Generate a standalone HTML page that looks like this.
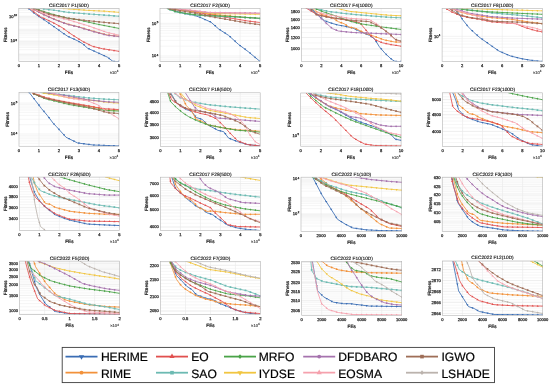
<!DOCTYPE html><html><head><meta charset="utf-8"><style>html,body{margin:0;padding:0;width:550px;height:387px;overflow:hidden;background:#fff} svg{will-change:transform;text-rendering:geometricPrecision}</style></head><body><svg width="550" height="387" viewBox="0 0 550 387" style="position:absolute;left:0;top:0;font-family:'Liberation Sans', sans-serif">
<rect x="0" y="0" width="550" height="387" fill="#fff"/>
<clipPath id="c0"><rect x="18.8" y="8.45" width="100.3" height="52.95"/></clipPath>
<line x1="38.86" y1="8.45" x2="38.86" y2="61.4" stroke="#e4e4e4" stroke-width="0.5"/>
<line x1="58.92" y1="8.45" x2="58.92" y2="61.4" stroke="#e4e4e4" stroke-width="0.5"/>
<line x1="78.98" y1="8.45" x2="78.98" y2="61.4" stroke="#e4e4e4" stroke-width="0.5"/>
<line x1="99.04" y1="8.45" x2="99.04" y2="61.4" stroke="#e4e4e4" stroke-width="0.5"/>
<line x1="18.8" y1="16.2" x2="119.1" y2="16.2" stroke="#e4e4e4" stroke-width="0.5"/>
<line x1="18.8" y1="41" x2="119.1" y2="41" stroke="#e4e4e4" stroke-width="0.5"/>
<line x1="18.8" y1="59.88" x2="119.1" y2="59.88" stroke="#ececec" stroke-width="0.5"/>
<line x1="18.8" y1="58.33" x2="119.1" y2="58.33" stroke="#ececec" stroke-width="0.5"/>
<line x1="18.8" y1="57.13" x2="119.1" y2="57.13" stroke="#ececec" stroke-width="0.5"/>
<line x1="18.8" y1="56.15" x2="119.1" y2="56.15" stroke="#ececec" stroke-width="0.5"/>
<line x1="18.8" y1="55.32" x2="119.1" y2="55.32" stroke="#ececec" stroke-width="0.5"/>
<line x1="18.8" y1="54.6" x2="119.1" y2="54.6" stroke="#ececec" stroke-width="0.5"/>
<line x1="18.8" y1="53.97" x2="119.1" y2="53.97" stroke="#ececec" stroke-width="0.5"/>
<line x1="18.8" y1="49.67" x2="119.1" y2="49.67" stroke="#ececec" stroke-width="0.5"/>
<line x1="18.8" y1="47.48" x2="119.1" y2="47.48" stroke="#ececec" stroke-width="0.5"/>
<line x1="18.8" y1="45.93" x2="119.1" y2="45.93" stroke="#ececec" stroke-width="0.5"/>
<line x1="18.8" y1="44.73" x2="119.1" y2="44.73" stroke="#ececec" stroke-width="0.5"/>
<line x1="18.8" y1="43.75" x2="119.1" y2="43.75" stroke="#ececec" stroke-width="0.5"/>
<line x1="18.8" y1="42.92" x2="119.1" y2="42.92" stroke="#ececec" stroke-width="0.5"/>
<line x1="18.8" y1="42.2" x2="119.1" y2="42.2" stroke="#ececec" stroke-width="0.5"/>
<line x1="18.8" y1="41.57" x2="119.1" y2="41.57" stroke="#ececec" stroke-width="0.5"/>
<line x1="18.8" y1="37.27" x2="119.1" y2="37.27" stroke="#ececec" stroke-width="0.5"/>
<line x1="18.8" y1="35.08" x2="119.1" y2="35.08" stroke="#ececec" stroke-width="0.5"/>
<line x1="18.8" y1="33.53" x2="119.1" y2="33.53" stroke="#ececec" stroke-width="0.5"/>
<line x1="18.8" y1="32.33" x2="119.1" y2="32.33" stroke="#ececec" stroke-width="0.5"/>
<line x1="18.8" y1="31.35" x2="119.1" y2="31.35" stroke="#ececec" stroke-width="0.5"/>
<line x1="18.8" y1="30.52" x2="119.1" y2="30.52" stroke="#ececec" stroke-width="0.5"/>
<line x1="18.8" y1="29.8" x2="119.1" y2="29.8" stroke="#ececec" stroke-width="0.5"/>
<line x1="18.8" y1="29.17" x2="119.1" y2="29.17" stroke="#ececec" stroke-width="0.5"/>
<line x1="18.8" y1="24.87" x2="119.1" y2="24.87" stroke="#ececec" stroke-width="0.5"/>
<line x1="18.8" y1="22.68" x2="119.1" y2="22.68" stroke="#ececec" stroke-width="0.5"/>
<line x1="18.8" y1="21.13" x2="119.1" y2="21.13" stroke="#ececec" stroke-width="0.5"/>
<line x1="18.8" y1="19.93" x2="119.1" y2="19.93" stroke="#ececec" stroke-width="0.5"/>
<line x1="18.8" y1="18.95" x2="119.1" y2="18.95" stroke="#ececec" stroke-width="0.5"/>
<line x1="18.8" y1="18.12" x2="119.1" y2="18.12" stroke="#ececec" stroke-width="0.5"/>
<line x1="18.8" y1="17.4" x2="119.1" y2="17.4" stroke="#ececec" stroke-width="0.5"/>
<line x1="18.8" y1="16.77" x2="119.1" y2="16.77" stroke="#ececec" stroke-width="0.5"/>
<line x1="18.8" y1="12.47" x2="119.1" y2="12.47" stroke="#ececec" stroke-width="0.5"/>
<line x1="18.8" y1="10.28" x2="119.1" y2="10.28" stroke="#ececec" stroke-width="0.5"/>
<line x1="18.8" y1="8.73" x2="119.1" y2="8.73" stroke="#ececec" stroke-width="0.5"/>
<g clip-path="url(#c0)" fill="none" stroke-width="0.85" stroke-linejoin="round" stroke-linecap="round">
<polyline points="27.8,8 35.6,14.3 45.4,20.7 55.3,27.6 62.1,32.5 68,36.5 77.8,40.9 82.7,43.8 87.6,48.2 97.4,52.6 107.3,57.1 113.1,61.5 120,61.5" stroke="#3a6db4"/>
<path d="M27.7 8.2h2.2l-1.1 1.8zM32.7 12.2h2.2l-1.1 1.8zM37.8 15.8h2.2l-1.1 1.8zM42.8 19.0h2.2l-1.1 1.8zM47.8 22.5h2.2l-1.1 1.8zM52.8 26.0h2.2l-1.1 1.8zM57.8 29.5h2.2l-1.1 1.8zM62.8 33.1h2.2l-1.1 1.8zM67.9 36.3h2.2l-1.1 1.8zM72.9 38.5h2.2l-1.1 1.8zM77.9 40.9h2.2l-1.1 1.8zM82.9 44.3h2.2l-1.1 1.8zM87.9 48.2h2.2l-1.1 1.8zM92.9 50.4h2.2l-1.1 1.8zM97.9 52.7h2.2l-1.1 1.8zM103.0 55.0h2.2l-1.1 1.8zM108.0 57.8h2.2l-1.1 1.8zM113.0 60.8h2.2l-1.1 1.8zM118.0 60.8h2.2l-1.1 1.8z" fill="#3a6db4" stroke="none"/>
<polyline points="31.7,8.5 41.5,13.4 53.3,18.8 62.1,22.2 68,24.2 77.8,26.6 92.5,31 107.3,35 120,36.4" stroke="#f2913a"/>
<path d="M32.9 9.6a0.9 0.9 0 1 0 1.8 0a0.9 0.9 0 1 0 -1.8 0zM38.0 12.1a0.9 0.9 0 1 0 1.8 0a0.9 0.9 0 1 0 -1.8 0zM43.0 14.5a0.9 0.9 0 1 0 1.8 0a0.9 0.9 0 1 0 -1.8 0zM48.0 16.8a0.9 0.9 0 1 0 1.8 0a0.9 0.9 0 1 0 -1.8 0zM53.0 19.0a0.9 0.9 0 1 0 1.8 0a0.9 0.9 0 1 0 -1.8 0zM58.0 21.0a0.9 0.9 0 1 0 1.8 0a0.9 0.9 0 1 0 -1.8 0zM63.0 22.8a0.9 0.9 0 1 0 1.8 0a0.9 0.9 0 1 0 -1.8 0zM68.0 24.4a0.9 0.9 0 1 0 1.8 0a0.9 0.9 0 1 0 -1.8 0zM73.1 25.7a0.9 0.9 0 1 0 1.8 0a0.9 0.9 0 1 0 -1.8 0zM78.1 27.0a0.9 0.9 0 1 0 1.8 0a0.9 0.9 0 1 0 -1.8 0zM83.1 28.5a0.9 0.9 0 1 0 1.8 0a0.9 0.9 0 1 0 -1.8 0zM88.1 30.0a0.9 0.9 0 1 0 1.8 0a0.9 0.9 0 1 0 -1.8 0zM93.1 31.4a0.9 0.9 0 1 0 1.8 0a0.9 0.9 0 1 0 -1.8 0zM98.1 32.8a0.9 0.9 0 1 0 1.8 0a0.9 0.9 0 1 0 -1.8 0zM103.2 34.1a0.9 0.9 0 1 0 1.8 0a0.9 0.9 0 1 0 -1.8 0zM108.2 35.2a0.9 0.9 0 1 0 1.8 0a0.9 0.9 0 1 0 -1.8 0zM113.2 35.7a0.9 0.9 0 1 0 1.8 0a0.9 0.9 0 1 0 -1.8 0zM118.2 36.3a0.9 0.9 0 1 0 1.8 0a0.9 0.9 0 1 0 -1.8 0z" fill="#f2913a" stroke="none"/>
<polyline points="28.8,8 40.5,16.8 53.3,22.7 62.1,27.6 71,34 82.7,41.4 92.5,46.3 102.3,48.7 112.2,50.2 120,51.5" stroke="#e1504f"/>
<path d="M27.7 8.7h2.2l-1.1 -1.8zM32.7 12.5h2.2l-1.1 -1.8zM37.8 16.2h2.2l-1.1 -1.8zM42.8 19.0h2.2l-1.1 -1.8zM47.8 21.3h2.2l-1.1 -1.8zM52.8 23.7h2.2l-1.1 -1.8zM57.8 26.5h2.2l-1.1 -1.8zM62.8 29.6h2.2l-1.1 -1.8zM67.9 33.2h2.2l-1.1 -1.8zM72.9 36.5h2.2l-1.1 -1.8zM77.9 39.7h2.2l-1.1 -1.8zM82.9 42.7h2.2l-1.1 -1.8zM87.9 45.2h2.2l-1.1 -1.8zM92.9 47.3h2.2l-1.1 -1.8zM97.9 48.6h2.2l-1.1 -1.8zM103.0 49.6h2.2l-1.1 -1.8zM108.0 50.4h2.2l-1.1 -1.8zM113.0 51.2h2.2l-1.1 -1.8zM118.0 52.0h2.2l-1.1 -1.8z" fill="#e1504f" stroke="none"/>
<polyline points="40.5,8.5 55.3,10.4 68,12.4 87.6,13.9 107.3,15.3 120,16.3" stroke="#6cbab2"/>
<path d="M43.0 8.1h1.7v1.7h-1.7zM48.0 8.7h1.7v1.7h-1.7zM53.1 9.4h1.7v1.7h-1.7zM58.1 10.1h1.7v1.7h-1.7zM63.1 10.9h1.7v1.7h-1.7zM68.1 11.6h1.7v1.7h-1.7zM73.1 12.0h1.7v1.7h-1.7zM78.1 12.4h1.7v1.7h-1.7zM83.1 12.8h1.7v1.7h-1.7zM88.2 13.2h1.7v1.7h-1.7zM93.2 13.5h1.7v1.7h-1.7zM98.2 13.9h1.7v1.7h-1.7zM103.2 14.2h1.7v1.7h-1.7zM108.2 14.6h1.7v1.7h-1.7zM113.2 15.0h1.7v1.7h-1.7zM118.2 15.4h1.7v1.7h-1.7z" fill="#6cbab2" stroke="none"/>
<polyline points="35,8.5 50,13.5 68,18.3 77.8,19.7 97.4,24.2 120,28.6" stroke="#4aa348"/>
<path d="M38.9 8.7l0.9 1.1l-0.9 1.1l-0.9 -1.1zM43.9 10.4l0.9 1.1l-0.9 1.1l-0.9 -1.1zM48.9 12.0l0.9 1.1l-0.9 1.1l-0.9 -1.1zM53.9 13.4l0.9 1.1l-0.9 1.1l-0.9 -1.1zM58.9 14.8l0.9 1.1l-0.9 1.1l-0.9 -1.1zM63.9 16.1l0.9 1.1l-0.9 1.1l-0.9 -1.1zM69.0 17.3l0.9 1.1l-0.9 1.1l-0.9 -1.1zM74.0 18.1l0.9 1.1l-0.9 1.1l-0.9 -1.1zM79.0 18.9l0.9 1.1l-0.9 1.1l-0.9 -1.1zM84.0 20.0l0.9 1.1l-0.9 1.1l-0.9 -1.1zM89.0 21.2l0.9 1.1l-0.9 1.1l-0.9 -1.1zM94.0 22.3l0.9 1.1l-0.9 1.1l-0.9 -1.1zM99.0 23.4l0.9 1.1l-0.9 1.1l-0.9 -1.1zM104.1 24.4l0.9 1.1l-0.9 1.1l-0.9 -1.1zM109.1 25.4l0.9 1.1l-0.9 1.1l-0.9 -1.1zM114.1 26.3l0.9 1.1l-0.9 1.1l-0.9 -1.1zM119.1 27.3l0.9 1.1l-0.9 1.1l-0.9 -1.1z" fill="#4aa348" stroke="none"/>
<polyline points="60,8.2 68,8.9 87.6,10.4 107.3,11.4 120,12.4" stroke="#f1c540"/>
<path d="M62.8 7.9h2.2l-1.1 1.8zM67.9 8.3h2.2l-1.1 1.8zM72.9 8.7h2.2l-1.1 1.8zM77.9 9.1h2.2l-1.1 1.8zM82.9 9.5h2.2l-1.1 1.8zM87.9 9.8h2.2l-1.1 1.8zM92.9 10.1h2.2l-1.1 1.8zM97.9 10.3h2.2l-1.1 1.8zM103.0 10.6h2.2l-1.1 1.8zM108.0 10.9h2.2l-1.1 1.8zM113.0 11.3h2.2l-1.1 1.8zM118.0 11.7h2.2l-1.1 1.8z" fill="#f1c540" stroke="none"/>
<polyline points="31.7,8.5 41.5,13.6 53.3,19 62.1,22.4 68,24.4 77.8,26.8 92.5,31.3 107.3,35.3 120,36.6" stroke="#a673ae"/>
<path d="M32.9 9.6a0.9 0.9 0 1 0 1.8 0a0.9 0.9 0 1 0 -1.8 0zM38.0 12.2a0.9 0.9 0 1 0 1.8 0a0.9 0.9 0 1 0 -1.8 0zM43.0 14.7a0.9 0.9 0 1 0 1.8 0a0.9 0.9 0 1 0 -1.8 0zM48.0 17.0a0.9 0.9 0 1 0 1.8 0a0.9 0.9 0 1 0 -1.8 0zM53.0 19.2a0.9 0.9 0 1 0 1.8 0a0.9 0.9 0 1 0 -1.8 0zM58.0 21.2a0.9 0.9 0 1 0 1.8 0a0.9 0.9 0 1 0 -1.8 0zM63.0 23.0a0.9 0.9 0 1 0 1.8 0a0.9 0.9 0 1 0 -1.8 0zM68.0 24.6a0.9 0.9 0 1 0 1.8 0a0.9 0.9 0 1 0 -1.8 0zM73.1 25.9a0.9 0.9 0 1 0 1.8 0a0.9 0.9 0 1 0 -1.8 0zM78.1 27.2a0.9 0.9 0 1 0 1.8 0a0.9 0.9 0 1 0 -1.8 0zM83.1 28.7a0.9 0.9 0 1 0 1.8 0a0.9 0.9 0 1 0 -1.8 0zM88.1 30.2a0.9 0.9 0 1 0 1.8 0a0.9 0.9 0 1 0 -1.8 0zM93.1 31.7a0.9 0.9 0 1 0 1.8 0a0.9 0.9 0 1 0 -1.8 0zM98.1 33.1a0.9 0.9 0 1 0 1.8 0a0.9 0.9 0 1 0 -1.8 0zM103.2 34.4a0.9 0.9 0 1 0 1.8 0a0.9 0.9 0 1 0 -1.8 0zM108.2 35.5a0.9 0.9 0 1 0 1.8 0a0.9 0.9 0 1 0 -1.8 0zM113.2 36.0a0.9 0.9 0 1 0 1.8 0a0.9 0.9 0 1 0 -1.8 0zM118.2 36.5a0.9 0.9 0 1 0 1.8 0a0.9 0.9 0 1 0 -1.8 0z" fill="#a673ae" stroke="none"/>
<polyline points="32.7,9 45.4,13.9 60.2,17.8 68,19.7 87.6,25.6 107.3,32.5 120,35.4" stroke="#f5a1ad"/>
<path d="M32.7 10.1h2.2l-1.1 -1.8zM37.8 12.0h2.2l-1.1 -1.8zM42.8 14.0h2.2l-1.1 -1.8zM47.8 15.5h2.2l-1.1 -1.8zM52.8 16.8h2.2l-1.1 -1.8zM57.8 18.1h2.2l-1.1 -1.8zM62.8 19.4h2.2l-1.1 -1.8zM67.9 20.6h2.2l-1.1 -1.8zM72.9 22.2h2.2l-1.1 -1.8zM77.9 23.7h2.2l-1.1 -1.8zM82.9 25.2h2.2l-1.1 -1.8zM87.9 26.8h2.2l-1.1 -1.8zM92.9 28.5h2.2l-1.1 -1.8zM97.9 30.3h2.2l-1.1 -1.8zM103.0 32.0h2.2l-1.1 -1.8zM108.0 33.6h2.2l-1.1 -1.8zM113.0 34.7h2.2l-1.1 -1.8zM118.0 35.9h2.2l-1.1 -1.8z" fill="#f5a1ad" stroke="none"/>
<polyline points="33.7,8.5 48.4,13.9 68,18.3 87.6,20.7 107.3,22.7 120,23.7" stroke="#9f6e57"/>
<path d="M33.0 7.7h1.7v1.7h-1.7zM38.0 9.5h1.7v1.7h-1.7zM43.0 11.4h1.7v1.7h-1.7zM48.0 13.2h1.7v1.7h-1.7zM53.1 14.3h1.7v1.7h-1.7zM58.1 15.4h1.7v1.7h-1.7zM63.1 16.5h1.7v1.7h-1.7zM68.1 17.6h1.7v1.7h-1.7zM73.1 18.2h1.7v1.7h-1.7zM78.1 18.8h1.7v1.7h-1.7zM83.1 19.4h1.7v1.7h-1.7zM88.2 20.0h1.7v1.7h-1.7zM93.2 20.5h1.7v1.7h-1.7zM98.2 21.0h1.7v1.7h-1.7zM103.2 21.5h1.7v1.7h-1.7zM108.2 22.0h1.7v1.7h-1.7zM113.2 22.4h1.7v1.7h-1.7zM118.2 22.8h1.7v1.7h-1.7z" fill="#9f6e57" stroke="none"/>
</g>
<rect x="18.8" y="8.45" width="100.3" height="52.95" fill="none" stroke="#b4b4b4" stroke-width="0.6"/>
<text x="18.8" y="67.25" font-size="4.1" text-anchor="middle" fill="#2a2a2a" stroke="#2a2a2a" stroke-width="0.25">0</text>
<text x="38.86" y="67.25" font-size="4.1" text-anchor="middle" fill="#2a2a2a" stroke="#2a2a2a" stroke-width="0.25">1</text>
<text x="58.92" y="67.25" font-size="4.1" text-anchor="middle" fill="#2a2a2a" stroke="#2a2a2a" stroke-width="0.25">2</text>
<text x="78.98" y="67.25" font-size="4.1" text-anchor="middle" fill="#2a2a2a" stroke="#2a2a2a" stroke-width="0.25">3</text>
<text x="99.04" y="67.25" font-size="4.1" text-anchor="middle" fill="#2a2a2a" stroke="#2a2a2a" stroke-width="0.25">4</text>
<text x="119.1" y="67.25" font-size="4.1" text-anchor="middle" fill="#2a2a2a" stroke="#2a2a2a" stroke-width="0.25">5</text>
<text x="109.7" y="74.2" font-size="4.1" fill="#444" stroke="#444" stroke-width="0.15">×10<tspan font-size="3" dy="-1.8">4</tspan></text>
<text x="68.95" y="73.7" font-size="4.65" text-anchor="middle" fill="#1a1a1a" stroke="#1a1a1a" stroke-width="0.22">FEs</text>
<text x="17.1" y="15.7" font-size="2.8" text-anchor="end" fill="#2a2a2a" stroke="#2a2a2a" stroke-width="0.25">10</text><text x="13.59" y="17.6" font-size="4.1" text-anchor="end" fill="#2a2a2a" stroke="#2a2a2a" stroke-width="0.25">10</text>
<text x="17.1" y="40.5" font-size="2.8" text-anchor="end" fill="#2a2a2a" stroke="#2a2a2a" stroke-width="0.25">8</text><text x="15.14" y="42.4" font-size="4.1" text-anchor="end" fill="#2a2a2a" stroke="#2a2a2a" stroke-width="0.25">10</text>
<text transform="translate(7.1,34.92) rotate(-90)" font-size="4.55" text-anchor="middle" fill="#1a1a1a" stroke="#1a1a1a" stroke-width="0.22">Fitness</text>
<text x="68.95" y="6.85" font-size="4.8" text-anchor="middle" fill="#1a1a1a" stroke="#1a1a1a" stroke-width="0.15">CEC2017 F1(50D)</text>
<clipPath id="c1"><rect x="160" y="8.45" width="100.1" height="52.95"/></clipPath>
<line x1="180.02" y1="8.45" x2="180.02" y2="61.4" stroke="#e4e4e4" stroke-width="0.5"/>
<line x1="200.04" y1="8.45" x2="200.04" y2="61.4" stroke="#e4e4e4" stroke-width="0.5"/>
<line x1="220.06" y1="8.45" x2="220.06" y2="61.4" stroke="#e4e4e4" stroke-width="0.5"/>
<line x1="240.08" y1="8.45" x2="240.08" y2="61.4" stroke="#e4e4e4" stroke-width="0.5"/>
<line x1="160" y1="23.3" x2="260.1" y2="23.3" stroke="#e4e4e4" stroke-width="0.5"/>
<line x1="160" y1="56" x2="260.1" y2="56" stroke="#e4e4e4" stroke-width="0.5"/>
<line x1="160" y1="61.07" x2="260.1" y2="61.07" stroke="#ececec" stroke-width="0.5"/>
<line x1="160" y1="59.17" x2="260.1" y2="59.17" stroke="#ececec" stroke-width="0.5"/>
<line x1="160" y1="57.5" x2="260.1" y2="57.5" stroke="#ececec" stroke-width="0.5"/>
<line x1="160" y1="46.16" x2="260.1" y2="46.16" stroke="#ececec" stroke-width="0.5"/>
<line x1="160" y1="40.4" x2="260.1" y2="40.4" stroke="#ececec" stroke-width="0.5"/>
<line x1="160" y1="36.31" x2="260.1" y2="36.31" stroke="#ececec" stroke-width="0.5"/>
<line x1="160" y1="33.14" x2="260.1" y2="33.14" stroke="#ececec" stroke-width="0.5"/>
<line x1="160" y1="30.55" x2="260.1" y2="30.55" stroke="#ececec" stroke-width="0.5"/>
<line x1="160" y1="28.37" x2="260.1" y2="28.37" stroke="#ececec" stroke-width="0.5"/>
<line x1="160" y1="26.47" x2="260.1" y2="26.47" stroke="#ececec" stroke-width="0.5"/>
<line x1="160" y1="24.8" x2="260.1" y2="24.8" stroke="#ececec" stroke-width="0.5"/>
<line x1="160" y1="13.46" x2="260.1" y2="13.46" stroke="#ececec" stroke-width="0.5"/>
<g clip-path="url(#c1)" fill="none" stroke-width="0.85" stroke-linejoin="round" stroke-linecap="round">
<polyline points="167.8,8.5 176.6,11.4 186.4,13.9 194.3,15.3 201.2,17.8 211,22.2 218.8,29.1 228.6,35.4 238.4,44.3 248.3,51.7 260.1,61.5" stroke="#3a6db4"/>
<path d="M168.9 8.6h2.2l-1.1 1.8zM173.9 10.2h2.2l-1.1 1.8zM178.9 11.6h2.2l-1.1 1.8zM183.9 12.9h2.2l-1.1 1.8zM188.9 13.9h2.2l-1.1 1.8zM193.9 14.9h2.2l-1.1 1.8zM198.9 16.7h2.2l-1.1 1.8zM203.9 18.9h2.2l-1.1 1.8zM209.0 21.1h2.2l-1.1 1.8zM214.0 25.1h2.2l-1.1 1.8zM219.0 29.2h2.2l-1.1 1.8zM224.0 32.5h2.2l-1.1 1.8zM229.0 36.1h2.2l-1.1 1.8zM234.0 40.6h2.2l-1.1 1.8zM239.0 44.9h2.2l-1.1 1.8zM244.0 48.6h2.2l-1.1 1.8zM249.0 52.5h2.2l-1.1 1.8zM254.0 56.7h2.2l-1.1 1.8zM259.0 60.8h2.2l-1.1 1.8z" fill="#3a6db4" stroke="none"/>
<polyline points="172,8.5 209,14 240,17 260,18.5" stroke="#f2913a"/>
<path d="M174.1 8.9a0.9 0.9 0 1 0 1.8 0a0.9 0.9 0 1 0 -1.8 0zM179.1 9.7a0.9 0.9 0 1 0 1.8 0a0.9 0.9 0 1 0 -1.8 0zM184.1 10.4a0.9 0.9 0 1 0 1.8 0a0.9 0.9 0 1 0 -1.8 0zM189.1 11.2a0.9 0.9 0 1 0 1.8 0a0.9 0.9 0 1 0 -1.8 0zM194.1 11.9a0.9 0.9 0 1 0 1.8 0a0.9 0.9 0 1 0 -1.8 0zM199.1 12.7a0.9 0.9 0 1 0 1.8 0a0.9 0.9 0 1 0 -1.8 0zM204.1 13.4a0.9 0.9 0 1 0 1.8 0a0.9 0.9 0 1 0 -1.8 0zM209.2 14.1a0.9 0.9 0 1 0 1.8 0a0.9 0.9 0 1 0 -1.8 0zM214.2 14.6a0.9 0.9 0 1 0 1.8 0a0.9 0.9 0 1 0 -1.8 0zM219.2 15.1a0.9 0.9 0 1 0 1.8 0a0.9 0.9 0 1 0 -1.8 0zM224.2 15.6a0.9 0.9 0 1 0 1.8 0a0.9 0.9 0 1 0 -1.8 0zM229.2 16.0a0.9 0.9 0 1 0 1.8 0a0.9 0.9 0 1 0 -1.8 0zM234.2 16.5a0.9 0.9 0 1 0 1.8 0a0.9 0.9 0 1 0 -1.8 0zM239.2 17.0a0.9 0.9 0 1 0 1.8 0a0.9 0.9 0 1 0 -1.8 0zM244.2 17.4a0.9 0.9 0 1 0 1.8 0a0.9 0.9 0 1 0 -1.8 0zM249.2 17.8a0.9 0.9 0 1 0 1.8 0a0.9 0.9 0 1 0 -1.8 0zM254.2 18.1a0.9 0.9 0 1 0 1.8 0a0.9 0.9 0 1 0 -1.8 0z" fill="#f2913a" stroke="none"/>
<polyline points="168,8.5 190,11 209,14.5 230,18 248,21 260,22.5" stroke="#e1504f"/>
<path d="M168.9 9.4h2.2l-1.1 -1.8zM173.9 10.0h2.2l-1.1 -1.8zM178.9 10.5h2.2l-1.1 -1.8zM183.9 11.1h2.2l-1.1 -1.8zM188.9 11.7h2.2l-1.1 -1.8zM193.9 12.6h2.2l-1.1 -1.8zM198.9 13.5h2.2l-1.1 -1.8zM203.9 14.4h2.2l-1.1 -1.8zM209.0 15.3h2.2l-1.1 -1.8zM214.0 16.2h2.2l-1.1 -1.8zM219.0 17.0h2.2l-1.1 -1.8zM224.0 17.8h2.2l-1.1 -1.8zM229.0 18.7h2.2l-1.1 -1.8zM234.0 19.5h2.2l-1.1 -1.8zM239.0 20.3h2.2l-1.1 -1.8zM244.0 21.2h2.2l-1.1 -1.8zM249.0 21.9h2.2l-1.1 -1.8zM254.0 22.5h2.2l-1.1 -1.8z" fill="#e1504f" stroke="none"/>
<polyline points="167,8.5 176.6,12.1 186.4,13.9 196.3,15.3 209,16 240,17.2 260.1,18.6" stroke="#6cbab2"/>
<path d="M169.2 8.8h1.7v1.7h-1.7zM174.2 10.7h1.7v1.7h-1.7zM179.2 11.9h1.7v1.7h-1.7zM184.2 12.8h1.7v1.7h-1.7zM189.2 13.6h1.7v1.7h-1.7zM194.2 14.3h1.7v1.7h-1.7zM199.2 14.7h1.7v1.7h-1.7zM204.2 14.9h1.7v1.7h-1.7zM209.2 15.2h1.7v1.7h-1.7zM214.2 15.4h1.7v1.7h-1.7zM219.2 15.6h1.7v1.7h-1.7zM224.2 15.8h1.7v1.7h-1.7zM229.2 16.0h1.7v1.7h-1.7zM234.2 16.2h1.7v1.7h-1.7zM239.2 16.4h1.7v1.7h-1.7zM244.2 16.7h1.7v1.7h-1.7zM249.2 17.1h1.7v1.7h-1.7zM254.2 17.4h1.7v1.7h-1.7zM259.2 17.8h1.7v1.7h-1.7z" fill="#6cbab2" stroke="none"/>
<polyline points="167,8.5 176.6,11.8 186.4,13.5 196.3,14.8 209,15.6 228.6,16.3 260.1,18.2" stroke="#4aa348"/>
<path d="M170.0 8.4l0.9 1.1l-0.9 1.1l-0.9 -1.1zM175.0 10.2l0.9 1.1l-0.9 1.1l-0.9 -1.1zM180.0 11.3l0.9 1.1l-0.9 1.1l-0.9 -1.1zM185.0 12.2l0.9 1.1l-0.9 1.1l-0.9 -1.1zM190.0 12.9l0.9 1.1l-0.9 1.1l-0.9 -1.1zM195.0 13.5l0.9 1.1l-0.9 1.1l-0.9 -1.1zM200.0 13.9l0.9 1.1l-0.9 1.1l-0.9 -1.1zM205.0 14.3l0.9 1.1l-0.9 1.1l-0.9 -1.1zM210.1 14.5l0.9 1.1l-0.9 1.1l-0.9 -1.1zM215.1 14.7l0.9 1.1l-0.9 1.1l-0.9 -1.1zM220.1 14.9l0.9 1.1l-0.9 1.1l-0.9 -1.1zM225.1 15.1l0.9 1.1l-0.9 1.1l-0.9 -1.1zM230.1 15.3l0.9 1.1l-0.9 1.1l-0.9 -1.1zM235.1 15.6l0.9 1.1l-0.9 1.1l-0.9 -1.1zM240.1 15.9l0.9 1.1l-0.9 1.1l-0.9 -1.1zM245.1 16.2l0.9 1.1l-0.9 1.1l-0.9 -1.1zM250.1 16.5l0.9 1.1l-0.9 1.1l-0.9 -1.1zM255.1 16.8l0.9 1.1l-0.9 1.1l-0.9 -1.1zM260.1 17.1l0.9 1.1l-0.9 1.1l-0.9 -1.1z" fill="#4aa348" stroke="none"/>
<polyline points="170,8.5 209,13.4 260,14.3" stroke="#f1c540"/>
<path d="M168.9 7.8h2.2l-1.1 1.8zM173.9 8.5h2.2l-1.1 1.8zM178.9 9.1h2.2l-1.1 1.8zM183.9 9.7h2.2l-1.1 1.8zM188.9 10.4h2.2l-1.1 1.8zM193.9 11.0h2.2l-1.1 1.8zM198.9 11.6h2.2l-1.1 1.8zM203.9 12.2h2.2l-1.1 1.8zM209.0 12.8h2.2l-1.1 1.8zM214.0 12.8h2.2l-1.1 1.8zM219.0 12.9h2.2l-1.1 1.8zM224.0 13.0h2.2l-1.1 1.8zM229.0 13.1h2.2l-1.1 1.8zM234.0 13.2h2.2l-1.1 1.8zM239.0 13.3h2.2l-1.1 1.8zM244.0 13.4h2.2l-1.1 1.8zM249.0 13.5h2.2l-1.1 1.8zM254.0 13.6h2.2l-1.1 1.8z" fill="#f1c540" stroke="none"/>
<polyline points="168,8 190,10.5 209,12.6 260,13.2" stroke="#a673ae"/>
<path d="M169.1 8.2a0.9 0.9 0 1 0 1.8 0a0.9 0.9 0 1 0 -1.8 0zM174.1 8.8a0.9 0.9 0 1 0 1.8 0a0.9 0.9 0 1 0 -1.8 0zM179.1 9.4a0.9 0.9 0 1 0 1.8 0a0.9 0.9 0 1 0 -1.8 0zM184.1 9.9a0.9 0.9 0 1 0 1.8 0a0.9 0.9 0 1 0 -1.8 0zM189.1 10.5a0.9 0.9 0 1 0 1.8 0a0.9 0.9 0 1 0 -1.8 0zM194.1 11.1a0.9 0.9 0 1 0 1.8 0a0.9 0.9 0 1 0 -1.8 0zM199.1 11.6a0.9 0.9 0 1 0 1.8 0a0.9 0.9 0 1 0 -1.8 0zM204.1 12.2a0.9 0.9 0 1 0 1.8 0a0.9 0.9 0 1 0 -1.8 0zM209.2 12.6a0.9 0.9 0 1 0 1.8 0a0.9 0.9 0 1 0 -1.8 0zM214.2 12.7a0.9 0.9 0 1 0 1.8 0a0.9 0.9 0 1 0 -1.8 0zM219.2 12.7a0.9 0.9 0 1 0 1.8 0a0.9 0.9 0 1 0 -1.8 0zM224.2 12.8a0.9 0.9 0 1 0 1.8 0a0.9 0.9 0 1 0 -1.8 0zM229.2 12.8a0.9 0.9 0 1 0 1.8 0a0.9 0.9 0 1 0 -1.8 0zM234.2 12.9a0.9 0.9 0 1 0 1.8 0a0.9 0.9 0 1 0 -1.8 0zM239.2 13.0a0.9 0.9 0 1 0 1.8 0a0.9 0.9 0 1 0 -1.8 0zM244.2 13.0a0.9 0.9 0 1 0 1.8 0a0.9 0.9 0 1 0 -1.8 0zM249.2 13.1a0.9 0.9 0 1 0 1.8 0a0.9 0.9 0 1 0 -1.8 0zM254.2 13.1a0.9 0.9 0 1 0 1.8 0a0.9 0.9 0 1 0 -1.8 0z" fill="#a673ae" stroke="none"/>
<polyline points="170,8 190,10 209,12.4 263,13.4" stroke="#f5a1ad"/>
<path d="M168.9 8.7h2.2l-1.1 -1.8zM173.9 9.2h2.2l-1.1 -1.8zM178.9 9.7h2.2l-1.1 -1.8zM183.9 10.2h2.2l-1.1 -1.8zM188.9 10.7h2.2l-1.1 -1.8zM193.9 11.3h2.2l-1.1 -1.8zM198.9 11.9h2.2l-1.1 -1.8zM203.9 12.6h2.2l-1.1 -1.8zM209.0 13.1h2.2l-1.1 -1.8zM214.0 13.2h2.2l-1.1 -1.8zM219.0 13.3h2.2l-1.1 -1.8zM224.0 13.4h2.2l-1.1 -1.8zM229.0 13.5h2.2l-1.1 -1.8zM234.0 13.5h2.2l-1.1 -1.8zM239.0 13.6h2.2l-1.1 -1.8zM244.0 13.7h2.2l-1.1 -1.8zM249.0 13.8h2.2l-1.1 -1.8zM254.0 13.9h2.2l-1.1 -1.8zM259.0 14.0h2.2l-1.1 -1.8z" fill="#f5a1ad" stroke="none"/>
<polyline points="168,8.5 180,10.8 195,13 209,16.3 228.6,19.7 248.3,23.2 260.1,24.6" stroke="#9f6e57"/>
<path d="M169.2 8.0h1.7v1.7h-1.7zM174.2 9.0h1.7v1.7h-1.7zM179.2 10.0h1.7v1.7h-1.7zM184.2 10.7h1.7v1.7h-1.7zM189.2 11.4h1.7v1.7h-1.7zM194.2 12.2h1.7v1.7h-1.7zM199.2 13.3h1.7v1.7h-1.7zM204.2 14.5h1.7v1.7h-1.7zM209.2 15.6h1.7v1.7h-1.7zM214.2 16.5h1.7v1.7h-1.7zM219.2 17.4h1.7v1.7h-1.7zM224.2 18.2h1.7v1.7h-1.7zM229.2 19.1h1.7v1.7h-1.7zM234.2 20.0h1.7v1.7h-1.7zM239.2 20.9h1.7v1.7h-1.7zM244.2 21.8h1.7v1.7h-1.7zM249.2 22.6h1.7v1.7h-1.7zM254.2 23.2h1.7v1.7h-1.7zM259.2 23.8h1.7v1.7h-1.7z" fill="#9f6e57" stroke="none"/>
</g>
<rect x="160" y="8.45" width="100.1" height="52.95" fill="none" stroke="#b4b4b4" stroke-width="0.6"/>
<text x="160" y="67.25" font-size="4.1" text-anchor="middle" fill="#2a2a2a" stroke="#2a2a2a" stroke-width="0.25">0</text>
<text x="180.02" y="67.25" font-size="4.1" text-anchor="middle" fill="#2a2a2a" stroke="#2a2a2a" stroke-width="0.25">1</text>
<text x="200.04" y="67.25" font-size="4.1" text-anchor="middle" fill="#2a2a2a" stroke="#2a2a2a" stroke-width="0.25">2</text>
<text x="220.06" y="67.25" font-size="4.1" text-anchor="middle" fill="#2a2a2a" stroke="#2a2a2a" stroke-width="0.25">3</text>
<text x="240.08" y="67.25" font-size="4.1" text-anchor="middle" fill="#2a2a2a" stroke="#2a2a2a" stroke-width="0.25">4</text>
<text x="260.1" y="67.25" font-size="4.1" text-anchor="middle" fill="#2a2a2a" stroke="#2a2a2a" stroke-width="0.25">5</text>
<text x="250.7" y="74.2" font-size="4.1" fill="#444" stroke="#444" stroke-width="0.15">×10<tspan font-size="3" dy="-1.8">4</tspan></text>
<text x="210.05" y="73.7" font-size="4.65" text-anchor="middle" fill="#1a1a1a" stroke="#1a1a1a" stroke-width="0.22">FEs</text>
<text x="158.3" y="22.8" font-size="2.8" text-anchor="end" fill="#2a2a2a" stroke="#2a2a2a" stroke-width="0.25">5</text><text x="156.34" y="24.7" font-size="4.1" text-anchor="end" fill="#2a2a2a" stroke="#2a2a2a" stroke-width="0.25">10</text>
<text x="158.3" y="55.5" font-size="2.8" text-anchor="end" fill="#2a2a2a" stroke="#2a2a2a" stroke-width="0.25">4</text><text x="156.34" y="57.4" font-size="4.1" text-anchor="end" fill="#2a2a2a" stroke="#2a2a2a" stroke-width="0.25">10</text>
<text transform="translate(150.2,34.92) rotate(-90)" font-size="4.55" text-anchor="middle" fill="#1a1a1a" stroke="#1a1a1a" stroke-width="0.22">Fitness</text>
<text x="210.05" y="6.85" font-size="4.8" text-anchor="middle" fill="#1a1a1a" stroke="#1a1a1a" stroke-width="0.15">CEC2017 F2(50D)</text>
<clipPath id="c2"><rect x="301.5" y="8.45" width="99.6" height="52.95"/></clipPath>
<line x1="321.42" y1="8.45" x2="321.42" y2="61.4" stroke="#e4e4e4" stroke-width="0.5"/>
<line x1="341.34" y1="8.45" x2="341.34" y2="61.4" stroke="#e4e4e4" stroke-width="0.5"/>
<line x1="361.26" y1="8.45" x2="361.26" y2="61.4" stroke="#e4e4e4" stroke-width="0.5"/>
<line x1="381.18" y1="8.45" x2="381.18" y2="61.4" stroke="#e4e4e4" stroke-width="0.5"/>
<line x1="301.5" y1="12" x2="401.1" y2="12" stroke="#e4e4e4" stroke-width="0.5"/>
<line x1="301.5" y1="19.4" x2="401.1" y2="19.4" stroke="#e4e4e4" stroke-width="0.5"/>
<line x1="301.5" y1="27.8" x2="401.1" y2="27.8" stroke="#e4e4e4" stroke-width="0.5"/>
<line x1="301.5" y1="37.5" x2="401.1" y2="37.5" stroke="#e4e4e4" stroke-width="0.5"/>
<line x1="301.5" y1="48.9" x2="401.1" y2="48.9" stroke="#e4e4e4" stroke-width="0.5"/>
<line x1="301.5" y1="55.51" x2="401.1" y2="55.51" stroke="#ececec" stroke-width="0.5"/>
<line x1="301.5" y1="48.9" x2="401.1" y2="48.9" stroke="#ececec" stroke-width="0.5"/>
<line x1="301.5" y1="42.92" x2="401.1" y2="42.92" stroke="#ececec" stroke-width="0.5"/>
<line x1="301.5" y1="37.46" x2="401.1" y2="37.46" stroke="#ececec" stroke-width="0.5"/>
<line x1="301.5" y1="32.44" x2="401.1" y2="32.44" stroke="#ececec" stroke-width="0.5"/>
<line x1="301.5" y1="27.78" x2="401.1" y2="27.78" stroke="#ececec" stroke-width="0.5"/>
<line x1="301.5" y1="23.45" x2="401.1" y2="23.45" stroke="#ececec" stroke-width="0.5"/>
<line x1="301.5" y1="19.4" x2="401.1" y2="19.4" stroke="#ececec" stroke-width="0.5"/>
<line x1="301.5" y1="15.6" x2="401.1" y2="15.6" stroke="#ececec" stroke-width="0.5"/>
<line x1="301.5" y1="12.01" x2="401.1" y2="12.01" stroke="#ececec" stroke-width="0.5"/>
<g clip-path="url(#c2)" fill="none" stroke-width="0.85" stroke-linejoin="round" stroke-linecap="round">
<polyline points="311.8,8.5 315.7,12.9 319.6,16.8 324.5,20.7 331.4,23.2 338.3,25.1 344.1,26.1 353,28.1 354.9,29.1 364.7,33.5 369.6,35.4 374.5,38.9 379.4,46.8 385.3,53.6 391.2,59 395.1,61.5 402,61.5" stroke="#3a6db4"/>
<path d="M315.3 13.0h2.2l-1.1 1.8zM320.3 17.6h2.2l-1.1 1.8zM325.3 20.7h2.2l-1.1 1.8zM330.3 22.5h2.2l-1.1 1.8zM335.3 23.9h2.2l-1.1 1.8zM340.2 25.0h2.2l-1.1 1.8zM345.2 25.9h2.2l-1.1 1.8zM350.2 27.1h2.2l-1.1 1.8zM355.2 29.1h2.2l-1.1 1.8zM360.2 31.3h2.2l-1.1 1.8zM365.1 33.4h2.2l-1.1 1.8zM370.1 35.9h2.2l-1.1 1.8zM375.1 41.0h2.2l-1.1 1.8zM380.1 48.2h2.2l-1.1 1.8zM385.1 53.7h2.2l-1.1 1.8zM390.0 58.3h2.2l-1.1 1.8zM395.0 60.8h2.2l-1.1 1.8zM400.0 60.8h2.2l-1.1 1.8z" fill="#3a6db4" stroke="none"/>
<polyline points="312.7,8.5 316.7,11.9 323.5,14.8 333.3,18.3 338.3,21.7 344.1,23.7 349,27.1 354.9,28.1 364.7,33 374.5,36.4 384.3,39.9 394.2,41.9 402,42.3" stroke="#f2913a"/>
<path d="M315.5 11.7a0.9 0.9 0 1 0 1.8 0a0.9 0.9 0 1 0 -1.8 0zM320.5 13.9a0.9 0.9 0 1 0 1.8 0a0.9 0.9 0 1 0 -1.8 0zM325.5 15.8a0.9 0.9 0 1 0 1.8 0a0.9 0.9 0 1 0 -1.8 0zM330.5 17.6a0.9 0.9 0 1 0 1.8 0a0.9 0.9 0 1 0 -1.8 0zM335.5 20.4a0.9 0.9 0 1 0 1.8 0a0.9 0.9 0 1 0 -1.8 0zM340.4 22.7a0.9 0.9 0 1 0 1.8 0a0.9 0.9 0 1 0 -1.8 0zM345.4 25.2a0.9 0.9 0 1 0 1.8 0a0.9 0.9 0 1 0 -1.8 0zM350.4 27.5a0.9 0.9 0 1 0 1.8 0a0.9 0.9 0 1 0 -1.8 0zM355.4 28.8a0.9 0.9 0 1 0 1.8 0a0.9 0.9 0 1 0 -1.8 0zM360.4 31.3a0.9 0.9 0 1 0 1.8 0a0.9 0.9 0 1 0 -1.8 0zM365.3 33.5a0.9 0.9 0 1 0 1.8 0a0.9 0.9 0 1 0 -1.8 0zM370.3 35.3a0.9 0.9 0 1 0 1.8 0a0.9 0.9 0 1 0 -1.8 0zM375.3 37.0a0.9 0.9 0 1 0 1.8 0a0.9 0.9 0 1 0 -1.8 0zM380.3 38.8a0.9 0.9 0 1 0 1.8 0a0.9 0.9 0 1 0 -1.8 0zM385.3 40.3a0.9 0.9 0 1 0 1.8 0a0.9 0.9 0 1 0 -1.8 0zM390.2 41.3a0.9 0.9 0 1 0 1.8 0a0.9 0.9 0 1 0 -1.8 0zM395.2 42.0a0.9 0.9 0 1 0 1.8 0a0.9 0.9 0 1 0 -1.8 0zM400.2 42.3a0.9 0.9 0 1 0 1.8 0a0.9 0.9 0 1 0 -1.8 0z" fill="#f2913a" stroke="none"/>
<polyline points="305.9,8 316,14 328,17 350,20.7 359.8,22.7 364.7,28.6 369.6,34.5 375.5,39.9 382.4,42.8 392.2,44.8 402,46.3" stroke="#e1504f"/>
<path d="M305.4 9.0h2.2l-1.1 -1.8zM310.4 12.0h2.2l-1.1 -1.8zM315.3 14.8h2.2l-1.1 -1.8zM320.3 16.0h2.2l-1.1 -1.8zM325.3 17.3h2.2l-1.1 -1.8zM330.3 18.2h2.2l-1.1 -1.8zM335.3 19.1h2.2l-1.1 -1.8zM340.2 19.9h2.2l-1.1 -1.8zM345.2 20.7h2.2l-1.1 -1.8zM350.2 21.6h2.2l-1.1 -1.8zM355.2 22.6h2.2l-1.1 -1.8zM360.2 25.1h2.2l-1.1 -1.8zM365.1 31.1h2.2l-1.1 -1.8zM370.1 36.6h2.2l-1.1 -1.8zM375.1 40.9h2.2l-1.1 -1.8zM380.1 42.9h2.2l-1.1 -1.8zM385.1 44.2h2.2l-1.1 -1.8zM390.0 45.2h2.2l-1.1 -1.8zM395.0 46.1h2.2l-1.1 -1.8zM400.0 46.8h2.2l-1.1 -1.8z" fill="#e1504f" stroke="none"/>
<polyline points="315.7,8.5 328.4,11.4 343.2,13.4 369.6,15.8 389.3,17.3 402,17.8" stroke="#6cbab2"/>
<path d="M315.6 7.8h1.7v1.7h-1.7zM320.6 9.0h1.7v1.7h-1.7zM325.5 10.1h1.7v1.7h-1.7zM330.5 11.0h1.7v1.7h-1.7zM335.5 11.6h1.7v1.7h-1.7zM340.5 12.3h1.7v1.7h-1.7zM345.5 12.8h1.7v1.7h-1.7zM350.4 13.3h1.7v1.7h-1.7zM355.4 13.7h1.7v1.7h-1.7zM360.4 14.2h1.7v1.7h-1.7zM365.4 14.6h1.7v1.7h-1.7zM370.4 15.1h1.7v1.7h-1.7zM375.4 15.5h1.7v1.7h-1.7zM380.3 15.8h1.7v1.7h-1.7zM385.3 16.2h1.7v1.7h-1.7zM390.3 16.5h1.7v1.7h-1.7zM395.3 16.7h1.7v1.7h-1.7zM400.2 16.9h1.7v1.7h-1.7z" fill="#6cbab2" stroke="none"/>
<polyline points="313.7,8 323.5,11.9 338.3,16.8 350,21.2 359.8,23.7 379.4,26.6 402,29.6" stroke="#4aa348"/>
<path d="M316.4 8.0l0.9 1.1l-0.9 1.1l-0.9 -1.1zM321.4 10.0l0.9 1.1l-0.9 1.1l-0.9 -1.1zM326.4 11.8l0.9 1.1l-0.9 1.1l-0.9 -1.1zM331.4 13.4l0.9 1.1l-0.9 1.1l-0.9 -1.1zM336.4 15.1l0.9 1.1l-0.9 1.1l-0.9 -1.1zM341.3 16.8l0.9 1.1l-0.9 1.1l-0.9 -1.1zM346.3 18.7l0.9 1.1l-0.9 1.1l-0.9 -1.1zM351.3 20.4l0.9 1.1l-0.9 1.1l-0.9 -1.1zM356.3 21.7l0.9 1.1l-0.9 1.1l-0.9 -1.1zM361.3 22.8l0.9 1.1l-0.9 1.1l-0.9 -1.1zM366.2 23.6l0.9 1.1l-0.9 1.1l-0.9 -1.1zM371.2 24.3l0.9 1.1l-0.9 1.1l-0.9 -1.1zM376.2 25.0l0.9 1.1l-0.9 1.1l-0.9 -1.1zM381.2 25.7l0.9 1.1l-0.9 1.1l-0.9 -1.1zM386.2 26.4l0.9 1.1l-0.9 1.1l-0.9 -1.1zM391.1 27.1l0.9 1.1l-0.9 1.1l-0.9 -1.1zM396.1 27.7l0.9 1.1l-0.9 1.1l-0.9 -1.1zM401.1 28.4l0.9 1.1l-0.9 1.1l-0.9 -1.1z" fill="#4aa348" stroke="none"/>
<polyline points="336.3,8 343.2,9.9 350,11.4 369.6,13.4 389.3,15.3 402,15.8" stroke="#f1c540"/>
<path d="M335.3 7.4h2.2l-1.1 1.8zM340.2 8.7h2.2l-1.1 1.8zM345.2 9.9h2.2l-1.1 1.8zM350.2 10.9h2.2l-1.1 1.8zM355.2 11.4h2.2l-1.1 1.8zM360.2 11.9h2.2l-1.1 1.8zM365.1 12.4h2.2l-1.1 1.8zM370.1 12.9h2.2l-1.1 1.8zM375.1 13.4h2.2l-1.1 1.8zM380.1 13.9h2.2l-1.1 1.8zM385.1 14.3h2.2l-1.1 1.8zM390.0 14.7h2.2l-1.1 1.8zM395.0 14.9h2.2l-1.1 1.8zM400.0 15.1h2.2l-1.1 1.8z" fill="#f1c540" stroke="none"/>
<polyline points="307.3,8 313.7,11.9 318.6,15.8 324.5,21.7 332.4,28.6 338.3,31 353,32.5 402,34.5" stroke="#a673ae"/>
<path d="M310.6 10.5a0.9 0.9 0 1 0 1.8 0a0.9 0.9 0 1 0 -1.8 0zM315.5 14.1a0.9 0.9 0 1 0 1.8 0a0.9 0.9 0 1 0 -1.8 0zM320.5 18.6a0.9 0.9 0 1 0 1.8 0a0.9 0.9 0 1 0 -1.8 0zM325.5 23.4a0.9 0.9 0 1 0 1.8 0a0.9 0.9 0 1 0 -1.8 0zM330.5 27.7a0.9 0.9 0 1 0 1.8 0a0.9 0.9 0 1 0 -1.8 0zM335.5 30.2a0.9 0.9 0 1 0 1.8 0a0.9 0.9 0 1 0 -1.8 0zM340.4 31.3a0.9 0.9 0 1 0 1.8 0a0.9 0.9 0 1 0 -1.8 0zM345.4 31.8a0.9 0.9 0 1 0 1.8 0a0.9 0.9 0 1 0 -1.8 0zM350.4 32.3a0.9 0.9 0 1 0 1.8 0a0.9 0.9 0 1 0 -1.8 0zM355.4 32.6a0.9 0.9 0 1 0 1.8 0a0.9 0.9 0 1 0 -1.8 0zM360.4 32.8a0.9 0.9 0 1 0 1.8 0a0.9 0.9 0 1 0 -1.8 0zM365.3 33.0a0.9 0.9 0 1 0 1.8 0a0.9 0.9 0 1 0 -1.8 0zM370.3 33.2a0.9 0.9 0 1 0 1.8 0a0.9 0.9 0 1 0 -1.8 0zM375.3 33.4a0.9 0.9 0 1 0 1.8 0a0.9 0.9 0 1 0 -1.8 0zM380.3 33.7a0.9 0.9 0 1 0 1.8 0a0.9 0.9 0 1 0 -1.8 0zM385.3 33.9a0.9 0.9 0 1 0 1.8 0a0.9 0.9 0 1 0 -1.8 0zM390.2 34.1a0.9 0.9 0 1 0 1.8 0a0.9 0.9 0 1 0 -1.8 0zM395.2 34.3a0.9 0.9 0 1 0 1.8 0a0.9 0.9 0 1 0 -1.8 0zM400.2 34.5a0.9 0.9 0 1 0 1.8 0a0.9 0.9 0 1 0 -1.8 0z" fill="#a673ae" stroke="none"/>
<polyline points="316.7,11.9 328.4,14.8 343.2,17.3 350,18.3 369.6,19.7 379.4,25.6 387.3,32.5 395.1,39.4 402,42.8" stroke="#f5a1ad"/>
<path d="M320.3 13.7h2.2l-1.1 -1.8zM325.3 15.0h2.2l-1.1 -1.8zM330.3 16.0h2.2l-1.1 -1.8zM335.3 16.8h2.2l-1.1 -1.8zM340.2 17.6h2.2l-1.1 -1.8zM345.2 18.4h2.2l-1.1 -1.8zM350.2 19.1h2.2l-1.1 -1.8zM355.2 19.4h2.2l-1.1 -1.8zM360.2 19.8h2.2l-1.1 -1.8zM365.1 20.1h2.2l-1.1 -1.8zM370.1 21.3h2.2l-1.1 -1.8zM375.1 24.3h2.2l-1.1 -1.8zM380.1 27.8h2.2l-1.1 -1.8zM385.1 32.2h2.2l-1.1 -1.8zM390.0 36.6h2.2l-1.1 -1.8zM395.0 40.6h2.2l-1.1 -1.8zM400.0 43.0h2.2l-1.1 -1.8z" fill="#f5a1ad" stroke="none"/>
<polyline points="310,8.5 316.7,14.8 328.4,17.3 343.2,19.2 350,20.2 369.6,21.7 379.4,26.6 389.3,33.5 395.1,39.4 402,41.4" stroke="#9f6e57"/>
<path d="M310.6 9.0h1.7v1.7h-1.7zM315.6 13.7h1.7v1.7h-1.7zM320.6 15.0h1.7v1.7h-1.7zM325.5 16.0h1.7v1.7h-1.7zM330.5 16.8h1.7v1.7h-1.7zM335.5 17.5h1.7v1.7h-1.7zM340.5 18.1h1.7v1.7h-1.7zM345.5 18.8h1.7v1.7h-1.7zM350.4 19.4h1.7v1.7h-1.7zM355.4 19.8h1.7v1.7h-1.7zM360.4 20.2h1.7v1.7h-1.7zM365.4 20.6h1.7v1.7h-1.7zM370.4 21.7h1.7v1.7h-1.7zM375.4 24.2h1.7v1.7h-1.7zM380.3 27.0h1.7v1.7h-1.7zM385.3 30.5h1.7v1.7h-1.7zM390.3 34.5h1.7v1.7h-1.7zM395.3 38.8h1.7v1.7h-1.7zM400.2 40.3h1.7v1.7h-1.7z" fill="#9f6e57" stroke="none"/>
</g>
<rect x="301.5" y="8.45" width="99.6" height="52.95" fill="none" stroke="#b4b4b4" stroke-width="0.6"/>
<text x="301.5" y="67.25" font-size="4.1" text-anchor="middle" fill="#2a2a2a" stroke="#2a2a2a" stroke-width="0.25">0</text>
<text x="321.42" y="67.25" font-size="4.1" text-anchor="middle" fill="#2a2a2a" stroke="#2a2a2a" stroke-width="0.25">2</text>
<text x="341.34" y="67.25" font-size="4.1" text-anchor="middle" fill="#2a2a2a" stroke="#2a2a2a" stroke-width="0.25">4</text>
<text x="361.26" y="67.25" font-size="4.1" text-anchor="middle" fill="#2a2a2a" stroke="#2a2a2a" stroke-width="0.25">6</text>
<text x="381.18" y="67.25" font-size="4.1" text-anchor="middle" fill="#2a2a2a" stroke="#2a2a2a" stroke-width="0.25">8</text>
<text x="401.1" y="67.25" font-size="4.1" text-anchor="middle" fill="#2a2a2a" stroke="#2a2a2a" stroke-width="0.25">10</text>
<text x="391.7" y="74.2" font-size="4.1" fill="#444" stroke="#444" stroke-width="0.15">×10<tspan font-size="3" dy="-1.8">4</tspan></text>
<text x="351.3" y="73.7" font-size="4.65" text-anchor="middle" fill="#1a1a1a" stroke="#1a1a1a" stroke-width="0.22">FEs</text>
<text x="299.9" y="13.4" font-size="4.1" text-anchor="end" fill="#2a2a2a" stroke="#2a2a2a" stroke-width="0.25">1800</text>
<text x="299.9" y="20.8" font-size="4.1" text-anchor="end" fill="#2a2a2a" stroke="#2a2a2a" stroke-width="0.25">1600</text>
<text x="299.9" y="29.2" font-size="4.1" text-anchor="end" fill="#2a2a2a" stroke="#2a2a2a" stroke-width="0.25">1400</text>
<text x="299.9" y="38.9" font-size="4.1" text-anchor="end" fill="#2a2a2a" stroke="#2a2a2a" stroke-width="0.25">1200</text>
<text x="299.9" y="50.3" font-size="4.1" text-anchor="end" fill="#2a2a2a" stroke="#2a2a2a" stroke-width="0.25">1000</text>
<text transform="translate(288.7,34.92) rotate(-90)" font-size="4.55" text-anchor="middle" fill="#1a1a1a" stroke="#1a1a1a" stroke-width="0.22">Fitness</text>
<text x="351.3" y="6.85" font-size="4.8" text-anchor="middle" fill="#1a1a1a" stroke="#1a1a1a" stroke-width="0.15">CEC2017 F4(100D)</text>
<clipPath id="c3"><rect x="442.1" y="8.5" width="100.2" height="52.9"/></clipPath>
<line x1="462.14" y1="8.5" x2="462.14" y2="61.4" stroke="#e4e4e4" stroke-width="0.5"/>
<line x1="482.18" y1="8.5" x2="482.18" y2="61.4" stroke="#e4e4e4" stroke-width="0.5"/>
<line x1="502.22" y1="8.5" x2="502.22" y2="61.4" stroke="#e4e4e4" stroke-width="0.5"/>
<line x1="522.26" y1="8.5" x2="522.26" y2="61.4" stroke="#e4e4e4" stroke-width="0.5"/>
<line x1="442.1" y1="36.3" x2="542.3" y2="36.3" stroke="#e4e4e4" stroke-width="0.5"/>
<line x1="442.1" y1="56.2" x2="542.3" y2="56.2" stroke="#ececec" stroke-width="0.5"/>
<line x1="442.1" y1="51.35" x2="542.3" y2="51.35" stroke="#ececec" stroke-width="0.5"/>
<line x1="442.1" y1="47.39" x2="542.3" y2="47.39" stroke="#ececec" stroke-width="0.5"/>
<line x1="442.1" y1="44.05" x2="542.3" y2="44.05" stroke="#ececec" stroke-width="0.5"/>
<line x1="442.1" y1="41.15" x2="542.3" y2="41.15" stroke="#ececec" stroke-width="0.5"/>
<line x1="442.1" y1="38.59" x2="542.3" y2="38.59" stroke="#ececec" stroke-width="0.5"/>
<line x1="442.1" y1="21.25" x2="542.3" y2="21.25" stroke="#ececec" stroke-width="0.5"/>
<line x1="442.1" y1="12.44" x2="542.3" y2="12.44" stroke="#ececec" stroke-width="0.5"/>
<g clip-path="url(#c3)" fill="none" stroke-width="0.85" stroke-linejoin="round" stroke-linecap="round">
<polyline points="451.8,8 457.7,11.9 462.6,19.7 468.5,27.1 473.4,32 480.1,37.8 489.6,44.5 499.2,51.2 510.6,56 522.1,58.8 533.5,60.7 543,61.5" stroke="#3a6db4"/>
<path d="M451.0 7.6h2.2l-1.1 1.8zM456.0 10.9h2.2l-1.1 1.8zM461.0 18.3h2.2l-1.1 1.8zM466.0 24.7h2.2l-1.1 1.8zM471.1 30.1h2.2l-1.1 1.8zM476.1 34.6h2.2l-1.1 1.8zM481.1 38.6h2.2l-1.1 1.8zM486.1 42.1h2.2l-1.1 1.8zM491.1 45.7h2.2l-1.1 1.8zM496.1 49.2h2.2l-1.1 1.8zM501.1 51.8h2.2l-1.1 1.8zM506.1 53.9h2.2l-1.1 1.8zM511.1 55.7h2.2l-1.1 1.8zM516.1 57.0h2.2l-1.1 1.8zM521.2 58.2h2.2l-1.1 1.8zM526.2 59.0h2.2l-1.1 1.8zM531.2 59.8h2.2l-1.1 1.8zM536.2 60.4h2.2l-1.1 1.8zM541.2 60.8h2.2l-1.1 1.8z" fill="#3a6db4" stroke="none"/>
<polyline points="452.8,8.5 459.6,11.9 469.4,14.3 484.2,16.6 491,17.6 500.8,18.3 510.6,19.2 520.4,20.7 530.3,22.2 542.3,23.6" stroke="#f2913a"/>
<path d="M456.2 10.7a0.9 0.9 0 1 0 1.8 0a0.9 0.9 0 1 0 -1.8 0zM461.2 12.5a0.9 0.9 0 1 0 1.8 0a0.9 0.9 0 1 0 -1.8 0zM466.2 13.7a0.9 0.9 0 1 0 1.8 0a0.9 0.9 0 1 0 -1.8 0zM471.3 14.7a0.9 0.9 0 1 0 1.8 0a0.9 0.9 0 1 0 -1.8 0zM476.3 15.5a0.9 0.9 0 1 0 1.8 0a0.9 0.9 0 1 0 -1.8 0zM481.3 16.3a0.9 0.9 0 1 0 1.8 0a0.9 0.9 0 1 0 -1.8 0zM486.3 17.0a0.9 0.9 0 1 0 1.8 0a0.9 0.9 0 1 0 -1.8 0zM491.3 17.7a0.9 0.9 0 1 0 1.8 0a0.9 0.9 0 1 0 -1.8 0zM496.3 18.0a0.9 0.9 0 1 0 1.8 0a0.9 0.9 0 1 0 -1.8 0zM501.3 18.4a0.9 0.9 0 1 0 1.8 0a0.9 0.9 0 1 0 -1.8 0zM506.3 18.9a0.9 0.9 0 1 0 1.8 0a0.9 0.9 0 1 0 -1.8 0zM511.3 19.5a0.9 0.9 0 1 0 1.8 0a0.9 0.9 0 1 0 -1.8 0zM516.4 20.2a0.9 0.9 0 1 0 1.8 0a0.9 0.9 0 1 0 -1.8 0zM521.4 21.0a0.9 0.9 0 1 0 1.8 0a0.9 0.9 0 1 0 -1.8 0zM526.4 21.7a0.9 0.9 0 1 0 1.8 0a0.9 0.9 0 1 0 -1.8 0zM531.4 22.4a0.9 0.9 0 1 0 1.8 0a0.9 0.9 0 1 0 -1.8 0zM536.4 23.0a0.9 0.9 0 1 0 1.8 0a0.9 0.9 0 1 0 -1.8 0zM541.4 23.6a0.9 0.9 0 1 0 1.8 0a0.9 0.9 0 1 0 -1.8 0z" fill="#f2913a" stroke="none"/>
<polyline points="446.4,8.9 451.8,11.9 459.6,15.3 469.4,17.8 479.3,19.2 491,21.7 515.5,23.7 525.3,27.6 535.2,30.5 543,32" stroke="#e1504f"/>
<path d="M446.0 10.0h2.2l-1.1 -1.8zM451.0 12.7h2.2l-1.1 -1.8zM456.0 14.9h2.2l-1.1 -1.8zM461.0 16.6h2.2l-1.1 -1.8zM466.0 17.9h2.2l-1.1 -1.8zM471.1 18.9h2.2l-1.1 -1.8zM476.1 19.6h2.2l-1.1 -1.8zM481.1 20.5h2.2l-1.1 -1.8zM486.1 21.5h2.2l-1.1 -1.8zM491.1 22.5h2.2l-1.1 -1.8zM496.1 22.9h2.2l-1.1 -1.8zM501.1 23.3h2.2l-1.1 -1.8zM506.1 23.7h2.2l-1.1 -1.8zM511.1 24.1h2.2l-1.1 -1.8zM516.1 25.1h2.2l-1.1 -1.8zM521.2 27.1h2.2l-1.1 -1.8zM526.2 28.8h2.2l-1.1 -1.8zM531.2 30.3h2.2l-1.1 -1.8zM536.2 31.6h2.2l-1.1 -1.8zM541.2 32.5h2.2l-1.1 -1.8z" fill="#e1504f" stroke="none"/>
<polyline points="459.6,8.5 474.3,10.4 491,12.9 520.4,15.3 543,17.8" stroke="#6cbab2"/>
<path d="M461.3 8.0h1.7v1.7h-1.7zM466.3 8.6h1.7v1.7h-1.7zM471.3 9.3h1.7v1.7h-1.7zM476.3 10.0h1.7v1.7h-1.7zM481.3 10.7h1.7v1.7h-1.7zM486.3 11.5h1.7v1.7h-1.7zM491.3 12.1h1.7v1.7h-1.7zM496.4 12.6h1.7v1.7h-1.7zM501.4 13.0h1.7v1.7h-1.7zM506.4 13.4h1.7v1.7h-1.7zM511.4 13.8h1.7v1.7h-1.7zM516.4 14.2h1.7v1.7h-1.7zM521.4 14.7h1.7v1.7h-1.7zM526.4 15.2h1.7v1.7h-1.7zM531.4 15.8h1.7v1.7h-1.7zM536.4 16.3h1.7v1.7h-1.7zM541.4 16.9h1.7v1.7h-1.7z" fill="#6cbab2" stroke="none"/>
<polyline points="453.7,8 469.4,10.4 491,11.9 520.4,13.4 543,14.3" stroke="#4aa348"/>
<path d="M457.1 7.4l0.9 1.1l-0.9 1.1l-0.9 -1.1zM462.1 8.2l0.9 1.1l-0.9 1.1l-0.9 -1.1zM467.1 9.0l0.9 1.1l-0.9 1.1l-0.9 -1.1zM472.2 9.5l0.9 1.1l-0.9 1.1l-0.9 -1.1zM477.2 9.8l0.9 1.1l-0.9 1.1l-0.9 -1.1zM482.2 10.2l0.9 1.1l-0.9 1.1l-0.9 -1.1zM487.2 10.5l0.9 1.1l-0.9 1.1l-0.9 -1.1zM492.2 10.9l0.9 1.1l-0.9 1.1l-0.9 -1.1zM497.2 11.1l0.9 1.1l-0.9 1.1l-0.9 -1.1zM502.2 11.4l0.9 1.1l-0.9 1.1l-0.9 -1.1zM507.2 11.6l0.9 1.1l-0.9 1.1l-0.9 -1.1zM512.2 11.9l0.9 1.1l-0.9 1.1l-0.9 -1.1zM517.2 12.1l0.9 1.1l-0.9 1.1l-0.9 -1.1zM522.3 12.4l0.9 1.1l-0.9 1.1l-0.9 -1.1zM527.3 12.6l0.9 1.1l-0.9 1.1l-0.9 -1.1zM532.3 12.8l0.9 1.1l-0.9 1.1l-0.9 -1.1zM537.3 13.0l0.9 1.1l-0.9 1.1l-0.9 -1.1zM542.3 13.2l0.9 1.1l-0.9 1.1l-0.9 -1.1z" fill="#4aa348" stroke="none"/>
<polyline points="461.6,8 491,9.4 543,10.9" stroke="#f1c540"/>
<path d="M461.0 7.4h2.2l-1.1 1.8zM466.0 7.6h2.2l-1.1 1.8zM471.1 7.8h2.2l-1.1 1.8zM476.1 8.1h2.2l-1.1 1.8zM481.1 8.3h2.2l-1.1 1.8zM486.1 8.6h2.2l-1.1 1.8zM491.1 8.8h2.2l-1.1 1.8zM496.1 8.9h2.2l-1.1 1.8zM501.1 9.1h2.2l-1.1 1.8zM506.1 9.2h2.2l-1.1 1.8zM511.1 9.4h2.2l-1.1 1.8zM516.1 9.5h2.2l-1.1 1.8zM521.2 9.6h2.2l-1.1 1.8zM526.2 9.8h2.2l-1.1 1.8zM531.2 9.9h2.2l-1.1 1.8zM536.2 10.1h2.2l-1.1 1.8zM541.2 10.2h2.2l-1.1 1.8z" fill="#f1c540" stroke="none"/>
<polyline points="454,8.5 469.4,13.2 491,16.6 515.5,18.2 543,19.2" stroke="#a673ae"/>
<path d="M456.2 9.5a0.9 0.9 0 1 0 1.8 0a0.9 0.9 0 1 0 -1.8 0zM461.2 11.0a0.9 0.9 0 1 0 1.8 0a0.9 0.9 0 1 0 -1.8 0zM466.2 12.5a0.9 0.9 0 1 0 1.8 0a0.9 0.9 0 1 0 -1.8 0zM471.3 13.6a0.9 0.9 0 1 0 1.8 0a0.9 0.9 0 1 0 -1.8 0zM476.3 14.4a0.9 0.9 0 1 0 1.8 0a0.9 0.9 0 1 0 -1.8 0zM481.3 15.2a0.9 0.9 0 1 0 1.8 0a0.9 0.9 0 1 0 -1.8 0zM486.3 16.0a0.9 0.9 0 1 0 1.8 0a0.9 0.9 0 1 0 -1.8 0zM491.3 16.7a0.9 0.9 0 1 0 1.8 0a0.9 0.9 0 1 0 -1.8 0zM496.3 17.0a0.9 0.9 0 1 0 1.8 0a0.9 0.9 0 1 0 -1.8 0zM501.3 17.3a0.9 0.9 0 1 0 1.8 0a0.9 0.9 0 1 0 -1.8 0zM506.3 17.7a0.9 0.9 0 1 0 1.8 0a0.9 0.9 0 1 0 -1.8 0zM511.3 18.0a0.9 0.9 0 1 0 1.8 0a0.9 0.9 0 1 0 -1.8 0zM516.4 18.3a0.9 0.9 0 1 0 1.8 0a0.9 0.9 0 1 0 -1.8 0zM521.4 18.4a0.9 0.9 0 1 0 1.8 0a0.9 0.9 0 1 0 -1.8 0zM526.4 18.6a0.9 0.9 0 1 0 1.8 0a0.9 0.9 0 1 0 -1.8 0zM531.4 18.8a0.9 0.9 0 1 0 1.8 0a0.9 0.9 0 1 0 -1.8 0zM536.4 19.0a0.9 0.9 0 1 0 1.8 0a0.9 0.9 0 1 0 -1.8 0zM541.4 19.2a0.9 0.9 0 1 0 1.8 0a0.9 0.9 0 1 0 -1.8 0z" fill="#a673ae" stroke="none"/>
<polyline points="449.8,8.5 469.4,13.8 491,20.7 515.5,23.7 525.3,26.1 535.2,28.1 543,30.5" stroke="#f5a1ad"/>
<path d="M451.0 9.8h2.2l-1.1 -1.8zM456.0 11.1h2.2l-1.1 -1.8zM461.0 12.5h2.2l-1.1 -1.8zM466.0 13.9h2.2l-1.1 -1.8zM471.1 15.3h2.2l-1.1 -1.8zM476.1 16.9h2.2l-1.1 -1.8zM481.1 18.5h2.2l-1.1 -1.8zM486.1 20.1h2.2l-1.1 -1.8zM491.1 21.5h2.2l-1.1 -1.8zM496.1 22.1h2.2l-1.1 -1.8zM501.1 22.7h2.2l-1.1 -1.8zM506.1 23.3h2.2l-1.1 -1.8zM511.1 24.0h2.2l-1.1 -1.8zM516.1 24.8h2.2l-1.1 -1.8zM521.2 26.0h2.2l-1.1 -1.8zM526.2 27.2h2.2l-1.1 -1.8zM531.2 28.2h2.2l-1.1 -1.8zM536.2 29.4h2.2l-1.1 -1.8zM541.2 30.9h2.2l-1.1 -1.8z" fill="#f5a1ad" stroke="none"/>
<polyline points="449,8.5 459.6,14.8 469.4,17.3 484,19.5 491,21.2 520.4,22.2 543,23.7" stroke="#9f6e57"/>
<path d="M451.3 9.5h1.7v1.7h-1.7zM456.3 12.5h1.7v1.7h-1.7zM461.3 14.6h1.7v1.7h-1.7zM466.3 15.9h1.7v1.7h-1.7zM471.3 16.9h1.7v1.7h-1.7zM476.3 17.6h1.7v1.7h-1.7zM481.3 18.4h1.7v1.7h-1.7zM486.3 19.4h1.7v1.7h-1.7zM491.3 20.4h1.7v1.7h-1.7zM496.4 20.6h1.7v1.7h-1.7zM501.4 20.7h1.7v1.7h-1.7zM506.4 20.9h1.7v1.7h-1.7zM511.4 21.1h1.7v1.7h-1.7zM516.4 21.2h1.7v1.7h-1.7zM521.4 21.5h1.7v1.7h-1.7zM526.4 21.8h1.7v1.7h-1.7zM531.4 22.1h1.7v1.7h-1.7zM536.4 22.5h1.7v1.7h-1.7zM541.4 22.8h1.7v1.7h-1.7z" fill="#9f6e57" stroke="none"/>
</g>
<rect x="442.1" y="8.5" width="100.2" height="52.9" fill="none" stroke="#b4b4b4" stroke-width="0.6"/>
<text x="442.1" y="67.25" font-size="4.1" text-anchor="middle" fill="#2a2a2a" stroke="#2a2a2a" stroke-width="0.25">0</text>
<text x="462.14" y="67.25" font-size="4.1" text-anchor="middle" fill="#2a2a2a" stroke="#2a2a2a" stroke-width="0.25">2</text>
<text x="482.18" y="67.25" font-size="4.1" text-anchor="middle" fill="#2a2a2a" stroke="#2a2a2a" stroke-width="0.25">4</text>
<text x="502.22" y="67.25" font-size="4.1" text-anchor="middle" fill="#2a2a2a" stroke="#2a2a2a" stroke-width="0.25">6</text>
<text x="522.26" y="67.25" font-size="4.1" text-anchor="middle" fill="#2a2a2a" stroke="#2a2a2a" stroke-width="0.25">8</text>
<text x="542.3" y="67.25" font-size="4.1" text-anchor="middle" fill="#2a2a2a" stroke="#2a2a2a" stroke-width="0.25">10</text>
<text x="532.9" y="74.2" font-size="4.1" fill="#444" stroke="#444" stroke-width="0.15">×10<tspan font-size="3" dy="-1.8">4</tspan></text>
<text x="492.2" y="73.7" font-size="4.65" text-anchor="middle" fill="#1a1a1a" stroke="#1a1a1a" stroke-width="0.22">FEs</text>
<text x="440.4" y="35.8" font-size="2.8" text-anchor="end" fill="#2a2a2a" stroke="#2a2a2a" stroke-width="0.25">4</text><text x="438.44" y="37.7" font-size="4.1" text-anchor="end" fill="#2a2a2a" stroke="#2a2a2a" stroke-width="0.25">10</text>
<text transform="translate(431.7,34.95) rotate(-90)" font-size="4.55" text-anchor="middle" fill="#1a1a1a" stroke="#1a1a1a" stroke-width="0.22">Fitness</text>
<text x="492.2" y="6.9" font-size="4.8" text-anchor="middle" fill="#1a1a1a" stroke="#1a1a1a" stroke-width="0.15">CEC2017 F8(100D)</text>
<clipPath id="c4"><rect x="19" y="92.6" width="99.9" height="53.65"/></clipPath>
<line x1="38.98" y1="92.6" x2="38.98" y2="146.25" stroke="#e4e4e4" stroke-width="0.5"/>
<line x1="58.96" y1="92.6" x2="58.96" y2="146.25" stroke="#e4e4e4" stroke-width="0.5"/>
<line x1="78.94" y1="92.6" x2="78.94" y2="146.25" stroke="#e4e4e4" stroke-width="0.5"/>
<line x1="98.92" y1="92.6" x2="98.92" y2="146.25" stroke="#e4e4e4" stroke-width="0.5"/>
<line x1="19" y1="103.1" x2="118.9" y2="103.1" stroke="#e4e4e4" stroke-width="0.5"/>
<line x1="19" y1="134" x2="118.9" y2="134" stroke="#e4e4e4" stroke-width="0.5"/>
<line x1="19" y1="143.3" x2="118.9" y2="143.3" stroke="#ececec" stroke-width="0.5"/>
<line x1="19" y1="140.86" x2="118.9" y2="140.86" stroke="#ececec" stroke-width="0.5"/>
<line x1="19" y1="138.79" x2="118.9" y2="138.79" stroke="#ececec" stroke-width="0.5"/>
<line x1="19" y1="136.99" x2="118.9" y2="136.99" stroke="#ececec" stroke-width="0.5"/>
<line x1="19" y1="135.41" x2="118.9" y2="135.41" stroke="#ececec" stroke-width="0.5"/>
<line x1="19" y1="124.7" x2="118.9" y2="124.7" stroke="#ececec" stroke-width="0.5"/>
<line x1="19" y1="119.26" x2="118.9" y2="119.26" stroke="#ececec" stroke-width="0.5"/>
<line x1="19" y1="115.4" x2="118.9" y2="115.4" stroke="#ececec" stroke-width="0.5"/>
<line x1="19" y1="112.4" x2="118.9" y2="112.4" stroke="#ececec" stroke-width="0.5"/>
<line x1="19" y1="109.96" x2="118.9" y2="109.96" stroke="#ececec" stroke-width="0.5"/>
<line x1="19" y1="107.89" x2="118.9" y2="107.89" stroke="#ececec" stroke-width="0.5"/>
<line x1="19" y1="106.09" x2="118.9" y2="106.09" stroke="#ececec" stroke-width="0.5"/>
<line x1="19" y1="104.51" x2="118.9" y2="104.51" stroke="#ececec" stroke-width="0.5"/>
<line x1="19" y1="93.8" x2="118.9" y2="93.8" stroke="#ececec" stroke-width="0.5"/>
<g clip-path="url(#c4)" fill="none" stroke-width="0.85" stroke-linejoin="round" stroke-linecap="round">
<polyline points="28.8,92 35.6,100.8 41.5,108.6 47.4,115.5 53.3,123.4 56.5,126.7 66.1,137.3 77.7,143 93.1,145 120,146" stroke="#3a6db4"/>
<path d="M27.9 91.6h2.2l-1.1 1.8zM32.9 98.0h2.2l-1.1 1.8zM37.9 104.6h2.2l-1.1 1.8zM42.9 110.8h2.2l-1.1 1.8zM47.9 116.9h2.2l-1.1 1.8zM52.9 123.4h2.2l-1.1 1.8zM57.9 128.8h2.2l-1.1 1.8zM62.9 134.3h2.2l-1.1 1.8zM67.9 138.0h2.2l-1.1 1.8zM72.8 140.5h2.2l-1.1 1.8zM77.8 142.5h2.2l-1.1 1.8zM82.8 143.1h2.2l-1.1 1.8zM87.8 143.8h2.2l-1.1 1.8zM92.8 144.4h2.2l-1.1 1.8zM97.8 144.6h2.2l-1.1 1.8zM102.8 144.7h2.2l-1.1 1.8zM107.8 144.9h2.2l-1.1 1.8zM112.8 145.1h2.2l-1.1 1.8zM117.8 145.3h2.2l-1.1 1.8z" fill="#3a6db4" stroke="none"/>
<polyline points="32.7,93.5 45.4,98 55.3,100.3 68,102.8 87.6,106.2 102.3,108.6 107.3,110.1 120,110.1" stroke="#f2913a"/>
<path d="M33.1 94.0a0.9 0.9 0 1 0 1.8 0a0.9 0.9 0 1 0 -1.8 0zM38.1 95.7a0.9 0.9 0 1 0 1.8 0a0.9 0.9 0 1 0 -1.8 0zM43.1 97.5a0.9 0.9 0 1 0 1.8 0a0.9 0.9 0 1 0 -1.8 0zM48.1 98.8a0.9 0.9 0 1 0 1.8 0a0.9 0.9 0 1 0 -1.8 0zM53.1 100.0a0.9 0.9 0 1 0 1.8 0a0.9 0.9 0 1 0 -1.8 0zM58.1 101.0a0.9 0.9 0 1 0 1.8 0a0.9 0.9 0 1 0 -1.8 0zM63.1 102.0a0.9 0.9 0 1 0 1.8 0a0.9 0.9 0 1 0 -1.8 0zM68.0 103.0a0.9 0.9 0 1 0 1.8 0a0.9 0.9 0 1 0 -1.8 0zM73.0 103.8a0.9 0.9 0 1 0 1.8 0a0.9 0.9 0 1 0 -1.8 0zM78.0 104.7a0.9 0.9 0 1 0 1.8 0a0.9 0.9 0 1 0 -1.8 0zM83.0 105.6a0.9 0.9 0 1 0 1.8 0a0.9 0.9 0 1 0 -1.8 0zM88.0 106.4a0.9 0.9 0 1 0 1.8 0a0.9 0.9 0 1 0 -1.8 0zM93.0 107.2a0.9 0.9 0 1 0 1.8 0a0.9 0.9 0 1 0 -1.8 0zM98.0 108.0a0.9 0.9 0 1 0 1.8 0a0.9 0.9 0 1 0 -1.8 0zM103.0 109.1a0.9 0.9 0 1 0 1.8 0a0.9 0.9 0 1 0 -1.8 0zM108.0 110.1a0.9 0.9 0 1 0 1.8 0a0.9 0.9 0 1 0 -1.8 0zM113.0 110.1a0.9 0.9 0 1 0 1.8 0a0.9 0.9 0 1 0 -1.8 0zM118.0 110.1a0.9 0.9 0 1 0 1.8 0a0.9 0.9 0 1 0 -1.8 0z" fill="#f2913a" stroke="none"/>
<polyline points="32.7,93 45.4,97.4 55.3,99.8 68,102.3 87.6,105.7 102.3,108.6 120,109.6" stroke="#e1504f"/>
<path d="M32.9 94.1h2.2l-1.1 -1.8zM37.9 95.8h2.2l-1.1 -1.8zM42.9 97.6h2.2l-1.1 -1.8zM47.9 98.9h2.2l-1.1 -1.8zM52.9 100.1h2.2l-1.1 -1.8zM57.9 101.2h2.2l-1.1 -1.8zM62.9 102.2h2.2l-1.1 -1.8zM67.9 103.1h2.2l-1.1 -1.8zM72.8 104.0h2.2l-1.1 -1.8zM77.8 104.9h2.2l-1.1 -1.8zM82.8 105.7h2.2l-1.1 -1.8zM87.8 106.6h2.2l-1.1 -1.8zM92.8 107.6h2.2l-1.1 -1.8zM97.8 108.6h2.2l-1.1 -1.8zM102.8 109.4h2.2l-1.1 -1.8zM107.8 109.6h2.2l-1.1 -1.8zM112.8 109.9h2.2l-1.1 -1.8zM117.8 110.2h2.2l-1.1 -1.8z" fill="#e1504f" stroke="none"/>
<polyline points="40.5,92.5 68,95.4 87.6,97.9 107.3,99.3 120,99.8" stroke="#6cbab2"/>
<path d="M43.1 92.0h1.7v1.7h-1.7zM48.1 92.5h1.7v1.7h-1.7zM53.1 93.1h1.7v1.7h-1.7zM58.1 93.6h1.7v1.7h-1.7zM63.1 94.1h1.7v1.7h-1.7zM68.1 94.7h1.7v1.7h-1.7zM73.1 95.3h1.7v1.7h-1.7zM78.1 95.9h1.7v1.7h-1.7zM83.1 96.6h1.7v1.7h-1.7zM88.1 97.1h1.7v1.7h-1.7zM93.1 97.5h1.7v1.7h-1.7zM98.1 97.9h1.7v1.7h-1.7zM103.1 98.2h1.7v1.7h-1.7zM108.1 98.5h1.7v1.7h-1.7zM113.1 98.7h1.7v1.7h-1.7zM118.1 98.9h1.7v1.7h-1.7z" fill="#6cbab2" stroke="none"/>
<polyline points="33.7,93.9 45.4,98.8 70,104.7 87.6,107.7 107.3,110.6 120,111.1" stroke="#4aa348"/>
<path d="M34.0 92.9l0.9 1.1l-0.9 1.1l-0.9 -1.1zM39.0 95.0l0.9 1.1l-0.9 1.1l-0.9 -1.1zM44.0 97.1l0.9 1.1l-0.9 1.1l-0.9 -1.1zM49.0 98.6l0.9 1.1l-0.9 1.1l-0.9 -1.1zM54.0 99.8l0.9 1.1l-0.9 1.1l-0.9 -1.1zM59.0 101.0l0.9 1.1l-0.9 1.1l-0.9 -1.1zM64.0 102.2l0.9 1.1l-0.9 1.1l-0.9 -1.1zM69.0 103.3l0.9 1.1l-0.9 1.1l-0.9 -1.1zM73.9 104.3l0.9 1.1l-0.9 1.1l-0.9 -1.1zM78.9 105.1l0.9 1.1l-0.9 1.1l-0.9 -1.1zM83.9 106.0l0.9 1.1l-0.9 1.1l-0.9 -1.1zM88.9 106.8l0.9 1.1l-0.9 1.1l-0.9 -1.1zM93.9 107.5l0.9 1.1l-0.9 1.1l-0.9 -1.1zM98.9 108.3l0.9 1.1l-0.9 1.1l-0.9 -1.1zM103.9 109.0l0.9 1.1l-0.9 1.1l-0.9 -1.1zM108.9 109.6l0.9 1.1l-0.9 1.1l-0.9 -1.1zM113.9 109.8l0.9 1.1l-0.9 1.1l-0.9 -1.1zM118.9 110.0l0.9 1.1l-0.9 1.1l-0.9 -1.1z" fill="#4aa348" stroke="none"/>
<polyline points="42,92.8 68,97.4 87.6,99.8 107.3,102.3 120,103.2" stroke="#f1c540"/>
<path d="M42.9 92.5h2.2l-1.1 1.8zM47.9 93.4h2.2l-1.1 1.8zM52.9 94.3h2.2l-1.1 1.8zM57.9 95.1h2.2l-1.1 1.8zM62.9 96.0h2.2l-1.1 1.8zM67.9 96.9h2.2l-1.1 1.8zM72.8 97.5h2.2l-1.1 1.8zM77.8 98.1h2.2l-1.1 1.8zM82.8 98.7h2.2l-1.1 1.8zM87.8 99.3h2.2l-1.1 1.8zM92.8 99.9h2.2l-1.1 1.8zM97.8 100.6h2.2l-1.1 1.8zM102.8 101.2h2.2l-1.1 1.8zM107.8 101.8h2.2l-1.1 1.8zM112.8 102.1h2.2l-1.1 1.8zM117.8 102.5h2.2l-1.1 1.8z" fill="#f1c540" stroke="none"/>
<polyline points="45,92.5 68,95.9 87.6,99.8 107.3,101.8 120,102.3" stroke="#a673ae"/>
<path d="M48.1 93.1a0.9 0.9 0 1 0 1.8 0a0.9 0.9 0 1 0 -1.8 0zM53.1 93.8a0.9 0.9 0 1 0 1.8 0a0.9 0.9 0 1 0 -1.8 0zM58.1 94.6a0.9 0.9 0 1 0 1.8 0a0.9 0.9 0 1 0 -1.8 0zM63.1 95.3a0.9 0.9 0 1 0 1.8 0a0.9 0.9 0 1 0 -1.8 0zM68.0 96.1a0.9 0.9 0 1 0 1.8 0a0.9 0.9 0 1 0 -1.8 0zM73.0 97.1a0.9 0.9 0 1 0 1.8 0a0.9 0.9 0 1 0 -1.8 0zM78.0 98.1a0.9 0.9 0 1 0 1.8 0a0.9 0.9 0 1 0 -1.8 0zM83.0 99.1a0.9 0.9 0 1 0 1.8 0a0.9 0.9 0 1 0 -1.8 0zM88.0 99.9a0.9 0.9 0 1 0 1.8 0a0.9 0.9 0 1 0 -1.8 0zM93.0 100.4a0.9 0.9 0 1 0 1.8 0a0.9 0.9 0 1 0 -1.8 0zM98.0 100.9a0.9 0.9 0 1 0 1.8 0a0.9 0.9 0 1 0 -1.8 0zM103.0 101.5a0.9 0.9 0 1 0 1.8 0a0.9 0.9 0 1 0 -1.8 0zM108.0 101.9a0.9 0.9 0 1 0 1.8 0a0.9 0.9 0 1 0 -1.8 0zM113.0 102.1a0.9 0.9 0 1 0 1.8 0a0.9 0.9 0 1 0 -1.8 0zM118.0 102.3a0.9 0.9 0 1 0 1.8 0a0.9 0.9 0 1 0 -1.8 0z" fill="#a673ae" stroke="none"/>
<polyline points="50,92.5 68,97.9 87.6,100.8 97.4,104.7 107.3,111.6 120,119.4" stroke="#f5a1ad"/>
<path d="M52.9 94.3h2.2l-1.1 -1.8zM57.9 95.8h2.2l-1.1 -1.8zM62.9 97.3h2.2l-1.1 -1.8zM67.9 98.7h2.2l-1.1 -1.8zM72.8 99.4h2.2l-1.1 -1.8zM77.8 100.2h2.2l-1.1 -1.8zM82.8 100.9h2.2l-1.1 -1.8zM87.8 102.0h2.2l-1.1 -1.8zM92.8 104.0h2.2l-1.1 -1.8zM97.8 106.4h2.2l-1.1 -1.8zM102.8 109.9h2.2l-1.1 -1.8zM107.8 113.2h2.2l-1.1 -1.8zM112.8 116.3h2.2l-1.1 -1.8zM117.8 119.4h2.2l-1.1 -1.8z" fill="#f5a1ad" stroke="none"/>
<polyline points="33,93.5 45.4,98.3 68,103.2 87.6,107 107.3,112.6 120,113.6" stroke="#9f6e57"/>
<path d="M33.1 93.0h1.7v1.7h-1.7zM38.1 95.0h1.7v1.7h-1.7zM43.1 96.9h1.7v1.7h-1.7zM48.1 98.2h1.7v1.7h-1.7zM53.1 99.3h1.7v1.7h-1.7zM58.1 100.4h1.7v1.7h-1.7zM63.1 101.5h1.7v1.7h-1.7zM68.1 102.5h1.7v1.7h-1.7zM73.1 103.5h1.7v1.7h-1.7zM78.1 104.5h1.7v1.7h-1.7zM83.1 105.4h1.7v1.7h-1.7zM88.1 106.5h1.7v1.7h-1.7zM93.1 107.9h1.7v1.7h-1.7zM98.1 109.4h1.7v1.7h-1.7zM103.1 110.8h1.7v1.7h-1.7zM108.1 111.9h1.7v1.7h-1.7zM113.1 112.3h1.7v1.7h-1.7zM118.1 112.7h1.7v1.7h-1.7z" fill="#9f6e57" stroke="none"/>
</g>
<rect x="19" y="92.6" width="99.9" height="53.65" fill="none" stroke="#b4b4b4" stroke-width="0.6"/>
<text x="19" y="152.1" font-size="4.1" text-anchor="middle" fill="#2a2a2a" stroke="#2a2a2a" stroke-width="0.25">0</text>
<text x="38.98" y="152.1" font-size="4.1" text-anchor="middle" fill="#2a2a2a" stroke="#2a2a2a" stroke-width="0.25">1</text>
<text x="58.96" y="152.1" font-size="4.1" text-anchor="middle" fill="#2a2a2a" stroke="#2a2a2a" stroke-width="0.25">2</text>
<text x="78.94" y="152.1" font-size="4.1" text-anchor="middle" fill="#2a2a2a" stroke="#2a2a2a" stroke-width="0.25">3</text>
<text x="98.92" y="152.1" font-size="4.1" text-anchor="middle" fill="#2a2a2a" stroke="#2a2a2a" stroke-width="0.25">4</text>
<text x="118.9" y="152.1" font-size="4.1" text-anchor="middle" fill="#2a2a2a" stroke="#2a2a2a" stroke-width="0.25">5</text>
<text x="109.5" y="159.05" font-size="4.1" fill="#444" stroke="#444" stroke-width="0.15">×10<tspan font-size="3" dy="-1.8">4</tspan></text>
<text x="68.95" y="158.55" font-size="4.65" text-anchor="middle" fill="#1a1a1a" stroke="#1a1a1a" stroke-width="0.22">FEs</text>
<text x="17.3" y="102.6" font-size="2.8" text-anchor="end" fill="#2a2a2a" stroke="#2a2a2a" stroke-width="0.25">5</text><text x="15.34" y="104.5" font-size="4.1" text-anchor="end" fill="#2a2a2a" stroke="#2a2a2a" stroke-width="0.25">10</text>
<text x="17.3" y="133.5" font-size="2.8" text-anchor="end" fill="#2a2a2a" stroke="#2a2a2a" stroke-width="0.25">4</text><text x="15.34" y="135.4" font-size="4.1" text-anchor="end" fill="#2a2a2a" stroke="#2a2a2a" stroke-width="0.25">10</text>
<text transform="translate(8.7,119.42) rotate(-90)" font-size="4.55" text-anchor="middle" fill="#1a1a1a" stroke="#1a1a1a" stroke-width="0.22">Fitness</text>
<text x="68.95" y="91" font-size="4.8" text-anchor="middle" fill="#1a1a1a" stroke="#1a1a1a" stroke-width="0.15">CEC2017 F13(50D)</text>
<clipPath id="c5"><rect x="160.4" y="92.8" width="99.8" height="53.5"/></clipPath>
<line x1="180.36" y1="92.8" x2="180.36" y2="146.3" stroke="#e4e4e4" stroke-width="0.5"/>
<line x1="200.32" y1="92.8" x2="200.32" y2="146.3" stroke="#e4e4e4" stroke-width="0.5"/>
<line x1="220.28" y1="92.8" x2="220.28" y2="146.3" stroke="#e4e4e4" stroke-width="0.5"/>
<line x1="240.24" y1="92.8" x2="240.24" y2="146.3" stroke="#e4e4e4" stroke-width="0.5"/>
<line x1="160.4" y1="102" x2="260.2" y2="102" stroke="#e4e4e4" stroke-width="0.5"/>
<line x1="160.4" y1="112.5" x2="260.2" y2="112.5" stroke="#e4e4e4" stroke-width="0.5"/>
<line x1="160.4" y1="124.4" x2="260.2" y2="124.4" stroke="#e4e4e4" stroke-width="0.5"/>
<line x1="160.4" y1="137.6" x2="260.2" y2="137.6" stroke="#e4e4e4" stroke-width="0.5"/>
<line x1="160.4" y1="143.65" x2="260.2" y2="143.65" stroke="#ececec" stroke-width="0.5"/>
<line x1="160.4" y1="140.57" x2="260.2" y2="140.57" stroke="#ececec" stroke-width="0.5"/>
<line x1="160.4" y1="137.6" x2="260.2" y2="137.6" stroke="#ececec" stroke-width="0.5"/>
<line x1="160.4" y1="134.72" x2="260.2" y2="134.72" stroke="#ececec" stroke-width="0.5"/>
<line x1="160.4" y1="131.94" x2="260.2" y2="131.94" stroke="#ececec" stroke-width="0.5"/>
<line x1="160.4" y1="129.24" x2="260.2" y2="129.24" stroke="#ececec" stroke-width="0.5"/>
<line x1="160.4" y1="126.62" x2="260.2" y2="126.62" stroke="#ececec" stroke-width="0.5"/>
<line x1="160.4" y1="124.08" x2="260.2" y2="124.08" stroke="#ececec" stroke-width="0.5"/>
<line x1="160.4" y1="121.61" x2="260.2" y2="121.61" stroke="#ececec" stroke-width="0.5"/>
<line x1="160.4" y1="119.2" x2="260.2" y2="119.2" stroke="#ececec" stroke-width="0.5"/>
<line x1="160.4" y1="116.86" x2="260.2" y2="116.86" stroke="#ececec" stroke-width="0.5"/>
<line x1="160.4" y1="114.58" x2="260.2" y2="114.58" stroke="#ececec" stroke-width="0.5"/>
<line x1="160.4" y1="112.36" x2="260.2" y2="112.36" stroke="#ececec" stroke-width="0.5"/>
<line x1="160.4" y1="110.2" x2="260.2" y2="110.2" stroke="#ececec" stroke-width="0.5"/>
<line x1="160.4" y1="108.08" x2="260.2" y2="108.08" stroke="#ececec" stroke-width="0.5"/>
<line x1="160.4" y1="106.02" x2="260.2" y2="106.02" stroke="#ececec" stroke-width="0.5"/>
<line x1="160.4" y1="104" x2="260.2" y2="104" stroke="#ececec" stroke-width="0.5"/>
<line x1="160.4" y1="102.03" x2="260.2" y2="102.03" stroke="#ececec" stroke-width="0.5"/>
<line x1="160.4" y1="100.1" x2="260.2" y2="100.1" stroke="#ececec" stroke-width="0.5"/>
<line x1="160.4" y1="98.21" x2="260.2" y2="98.21" stroke="#ececec" stroke-width="0.5"/>
<line x1="160.4" y1="96.37" x2="260.2" y2="96.37" stroke="#ececec" stroke-width="0.5"/>
<line x1="160.4" y1="94.56" x2="260.2" y2="94.56" stroke="#ececec" stroke-width="0.5"/>
<g clip-path="url(#c5)" fill="none" stroke-width="0.85" stroke-linejoin="round" stroke-linecap="round">
<polyline points="170.7,93 173.7,97.9 176.6,102.8 181.5,106.7 186.4,109.6 191.3,111.1 196.3,117.5 202.1,119.4 208,124.9 217.8,130.3 223.7,131.7 228.6,138.1 237.4,141.6 247.3,144.5 260,146" stroke="#3a6db4"/>
<path d="M174.3 100.1h2.2l-1.1 1.8zM179.3 105.1h2.2l-1.1 1.8zM184.2 108.3h2.2l-1.1 1.8zM189.2 110.1h2.2l-1.1 1.8zM194.2 115.6h2.2l-1.1 1.8zM199.2 118.2h2.2l-1.1 1.8zM204.2 121.7h2.2l-1.1 1.8zM209.2 125.5h2.2l-1.1 1.8zM214.2 128.3h2.2l-1.1 1.8zM219.2 130.2h2.2l-1.1 1.8zM224.2 133.1h2.2l-1.1 1.8zM229.2 138.1h2.2l-1.1 1.8zM234.2 140.1h2.2l-1.1 1.8zM239.1 141.8h2.2l-1.1 1.8zM244.1 143.2h2.2l-1.1 1.8zM249.1 144.2h2.2l-1.1 1.8zM254.1 144.8h2.2l-1.1 1.8z" fill="#3a6db4" stroke="none"/>
<polyline points="179.6,93 182.5,97.9 186.4,105.7 191.3,110.6 196.3,119.4 202.1,121.4 208,124.9 222.7,127.8 237.4,129.8 260,131.2" stroke="#f2913a"/>
<path d="M179.5 94.3a0.9 0.9 0 1 0 1.8 0a0.9 0.9 0 1 0 -1.8 0zM184.4 103.6a0.9 0.9 0 1 0 1.8 0a0.9 0.9 0 1 0 -1.8 0zM189.4 109.6a0.9 0.9 0 1 0 1.8 0a0.9 0.9 0 1 0 -1.8 0zM194.4 117.7a0.9 0.9 0 1 0 1.8 0a0.9 0.9 0 1 0 -1.8 0zM199.4 120.8a0.9 0.9 0 1 0 1.8 0a0.9 0.9 0 1 0 -1.8 0zM204.4 123.3a0.9 0.9 0 1 0 1.8 0a0.9 0.9 0 1 0 -1.8 0zM209.4 125.4a0.9 0.9 0 1 0 1.8 0a0.9 0.9 0 1 0 -1.8 0zM214.4 126.3a0.9 0.9 0 1 0 1.8 0a0.9 0.9 0 1 0 -1.8 0zM219.4 127.3a0.9 0.9 0 1 0 1.8 0a0.9 0.9 0 1 0 -1.8 0zM224.4 128.1a0.9 0.9 0 1 0 1.8 0a0.9 0.9 0 1 0 -1.8 0zM229.4 128.8a0.9 0.9 0 1 0 1.8 0a0.9 0.9 0 1 0 -1.8 0zM234.3 129.5a0.9 0.9 0 1 0 1.8 0a0.9 0.9 0 1 0 -1.8 0zM239.3 130.0a0.9 0.9 0 1 0 1.8 0a0.9 0.9 0 1 0 -1.8 0zM244.3 130.3a0.9 0.9 0 1 0 1.8 0a0.9 0.9 0 1 0 -1.8 0zM249.3 130.6a0.9 0.9 0 1 0 1.8 0a0.9 0.9 0 1 0 -1.8 0zM254.3 130.9a0.9 0.9 0 1 0 1.8 0a0.9 0.9 0 1 0 -1.8 0z" fill="#f2913a" stroke="none"/>
<polyline points="168.5,93 171.7,99.8 181.5,106.7 191.3,110.6 201.2,113.6 208,115 215.9,118.5 222.7,124.9 229.6,132.7 237.4,140.6 247.3,144.5 260,146" stroke="#e1504f"/>
<path d="M169.3 97.7h2.2l-1.1 -1.8zM174.3 103.0h2.2l-1.1 -1.8zM179.3 106.6h2.2l-1.1 -1.8zM184.2 108.9h2.2l-1.1 -1.8zM189.2 110.9h2.2l-1.1 -1.8zM194.2 112.5h2.2l-1.1 -1.8zM199.2 114.0h2.2l-1.1 -1.8zM204.2 115.1h2.2l-1.1 -1.8zM209.2 116.7h2.2l-1.1 -1.8zM214.2 118.9h2.2l-1.1 -1.8zM219.2 123.3h2.2l-1.1 -1.8zM224.2 128.5h2.2l-1.1 -1.8zM229.2 134.0h2.2l-1.1 -1.8zM234.2 139.1h2.2l-1.1 -1.8zM239.1 142.4h2.2l-1.1 -1.8zM244.1 144.3h2.2l-1.1 -1.8zM249.1 145.5h2.2l-1.1 -1.8zM254.1 146.1h2.2l-1.1 -1.8z" fill="#e1504f" stroke="none"/>
<polyline points="174.7,93 178.6,96.9 191.3,101.8 208,104.7 227.6,106.7 247.3,108.2 260,109.1" stroke="#6cbab2"/>
<path d="M174.5 92.8h1.7v1.7h-1.7zM179.5 96.7h1.7v1.7h-1.7zM184.5 98.7h1.7v1.7h-1.7zM189.5 100.6h1.7v1.7h-1.7zM194.5 101.6h1.7v1.7h-1.7zM199.5 102.5h1.7v1.7h-1.7zM204.5 103.4h1.7v1.7h-1.7zM209.5 104.1h1.7v1.7h-1.7zM214.4 104.6h1.7v1.7h-1.7zM219.4 105.1h1.7v1.7h-1.7zM224.4 105.6h1.7v1.7h-1.7zM229.4 106.1h1.7v1.7h-1.7zM234.4 106.4h1.7v1.7h-1.7zM239.4 106.8h1.7v1.7h-1.7zM244.4 107.2h1.7v1.7h-1.7zM249.4 107.6h1.7v1.7h-1.7zM254.4 107.9h1.7v1.7h-1.7z" fill="#6cbab2" stroke="none"/>
<polyline points="167.8,93 170.7,101.8 176.6,107.7 182.5,112.6 188.4,116.5 196.3,120.4 204.1,123.4 208,124.9 222.7,127.8 237.4,130.3 252.2,131.2 260,132.2" stroke="#4aa348"/>
<path d="M170.4 99.7l0.9 1.1l-0.9 1.1l-0.9 -1.1zM175.4 105.4l0.9 1.1l-0.9 1.1l-0.9 -1.1zM180.4 109.7l0.9 1.1l-0.9 1.1l-0.9 -1.1zM185.3 113.4l0.9 1.1l-0.9 1.1l-0.9 -1.1zM190.3 116.4l0.9 1.1l-0.9 1.1l-0.9 -1.1zM195.3 118.8l0.9 1.1l-0.9 1.1l-0.9 -1.1zM200.3 120.8l0.9 1.1l-0.9 1.1l-0.9 -1.1zM205.3 122.8l0.9 1.1l-0.9 1.1l-0.9 -1.1zM210.3 124.3l0.9 1.1l-0.9 1.1l-0.9 -1.1zM215.3 125.2l0.9 1.1l-0.9 1.1l-0.9 -1.1zM220.3 126.2l0.9 1.1l-0.9 1.1l-0.9 -1.1zM225.3 127.1l0.9 1.1l-0.9 1.1l-0.9 -1.1zM230.3 128.0l0.9 1.1l-0.9 1.1l-0.9 -1.1zM235.2 128.8l0.9 1.1l-0.9 1.1l-0.9 -1.1zM240.2 129.4l0.9 1.1l-0.9 1.1l-0.9 -1.1zM245.2 129.7l0.9 1.1l-0.9 1.1l-0.9 -1.1zM250.2 130.0l0.9 1.1l-0.9 1.1l-0.9 -1.1zM255.2 130.5l0.9 1.1l-0.9 1.1l-0.9 -1.1z" fill="#4aa348" stroke="none"/>
<polyline points="180.6,93 186.4,99.8 196.3,105.7 208,110.1 227.6,113.6 247.3,117.5 260,118.5" stroke="#f1c540"/>
<path d="M184.2 97.9h2.2l-1.1 1.8zM189.2 101.5h2.2l-1.1 1.8zM194.2 104.5h2.2l-1.1 1.8zM199.2 106.6h2.2l-1.1 1.8zM204.2 108.4h2.2l-1.1 1.8zM209.2 109.9h2.2l-1.1 1.8zM214.2 110.7h2.2l-1.1 1.8zM219.2 111.6h2.2l-1.1 1.8zM224.2 112.5h2.2l-1.1 1.8zM229.2 113.5h2.2l-1.1 1.8zM234.2 114.5h2.2l-1.1 1.8zM239.1 115.4h2.2l-1.1 1.8zM244.1 116.4h2.2l-1.1 1.8zM249.1 117.1h2.2l-1.1 1.8zM254.1 117.5h2.2l-1.1 1.8z" fill="#f1c540" stroke="none"/>
<polyline points="185.5,93 190.4,100.8 194.3,106.7 198.2,110.6 211,113.6 217.8,118 260,121.4" stroke="#a673ae"/>
<path d="M189.4 100.7a0.9 0.9 0 1 0 1.8 0a0.9 0.9 0 1 0 -1.8 0zM194.4 107.7a0.9 0.9 0 1 0 1.8 0a0.9 0.9 0 1 0 -1.8 0zM199.4 111.1a0.9 0.9 0 1 0 1.8 0a0.9 0.9 0 1 0 -1.8 0zM204.4 112.3a0.9 0.9 0 1 0 1.8 0a0.9 0.9 0 1 0 -1.8 0zM209.4 113.4a0.9 0.9 0 1 0 1.8 0a0.9 0.9 0 1 0 -1.8 0zM214.4 116.4a0.9 0.9 0 1 0 1.8 0a0.9 0.9 0 1 0 -1.8 0zM219.4 118.2a0.9 0.9 0 1 0 1.8 0a0.9 0.9 0 1 0 -1.8 0zM224.4 118.6a0.9 0.9 0 1 0 1.8 0a0.9 0.9 0 1 0 -1.8 0zM229.4 119.0a0.9 0.9 0 1 0 1.8 0a0.9 0.9 0 1 0 -1.8 0zM234.3 119.4a0.9 0.9 0 1 0 1.8 0a0.9 0.9 0 1 0 -1.8 0zM239.3 119.8a0.9 0.9 0 1 0 1.8 0a0.9 0.9 0 1 0 -1.8 0zM244.3 120.2a0.9 0.9 0 1 0 1.8 0a0.9 0.9 0 1 0 -1.8 0zM249.3 120.6a0.9 0.9 0 1 0 1.8 0a0.9 0.9 0 1 0 -1.8 0zM254.3 121.0a0.9 0.9 0 1 0 1.8 0a0.9 0.9 0 1 0 -1.8 0z" fill="#a673ae" stroke="none"/>
<polyline points="174.7,93 181.5,97.9 191.3,101.8 208,108.6 227.6,112.6 235.5,116.5 240.4,120.4 245.3,125.9 249.2,133.7 255.1,141.6 260,144.5" stroke="#f5a1ad"/>
<path d="M174.3 94.1h2.2l-1.1 -1.8zM179.3 97.7h2.2l-1.1 -1.8zM184.2 100.1h2.2l-1.1 -1.8zM189.2 102.1h2.2l-1.1 -1.8zM194.2 104.1h2.2l-1.1 -1.8zM199.2 106.1h2.2l-1.1 -1.8zM204.2 108.2h2.2l-1.1 -1.8zM209.2 109.7h2.2l-1.1 -1.8zM214.2 110.7h2.2l-1.1 -1.8zM219.2 111.8h2.2l-1.1 -1.8zM224.2 112.8h2.2l-1.1 -1.8zM229.2 114.6h2.2l-1.1 -1.8zM234.2 117.0h2.2l-1.1 -1.8zM239.1 120.9h2.2l-1.1 -1.8zM244.1 126.5h2.2l-1.1 -1.8zM249.1 135.7h2.2l-1.1 -1.8zM254.1 142.3h2.2l-1.1 -1.8z" fill="#f5a1ad" stroke="none"/>
<polyline points="169.8,93.5 176.6,102.8 186.4,108.6 196.3,110.6 208,112.6 222.7,115.5 232.5,119.4 239.4,122.4 247.3,127.8 252.2,131.7 260,134.2" stroke="#9f6e57"/>
<path d="M169.5 93.4h1.7v1.7h-1.7zM174.5 100.3h1.7v1.7h-1.7zM179.5 104.2h1.7v1.7h-1.7zM184.5 107.1h1.7v1.7h-1.7zM189.5 108.5h1.7v1.7h-1.7zM194.5 109.6h1.7v1.7h-1.7zM199.5 110.4h1.7v1.7h-1.7zM204.5 111.3h1.7v1.7h-1.7zM209.5 112.2h1.7v1.7h-1.7zM214.4 113.2h1.7v1.7h-1.7zM219.4 114.2h1.7v1.7h-1.7zM224.4 115.7h1.7v1.7h-1.7zM229.4 117.7h1.7v1.7h-1.7zM234.4 119.7h1.7v1.7h-1.7zM239.4 122.1h1.7v1.7h-1.7zM244.4 125.5h1.7v1.7h-1.7zM249.4 129.3h1.7v1.7h-1.7zM254.4 131.8h1.7v1.7h-1.7z" fill="#9f6e57" stroke="none"/>
</g>
<rect x="160.4" y="92.8" width="99.8" height="53.5" fill="none" stroke="#b4b4b4" stroke-width="0.6"/>
<text x="160.4" y="152.15" font-size="4.1" text-anchor="middle" fill="#2a2a2a" stroke="#2a2a2a" stroke-width="0.25">0</text>
<text x="180.36" y="152.15" font-size="4.1" text-anchor="middle" fill="#2a2a2a" stroke="#2a2a2a" stroke-width="0.25">1</text>
<text x="200.32" y="152.15" font-size="4.1" text-anchor="middle" fill="#2a2a2a" stroke="#2a2a2a" stroke-width="0.25">2</text>
<text x="220.28" y="152.15" font-size="4.1" text-anchor="middle" fill="#2a2a2a" stroke="#2a2a2a" stroke-width="0.25">3</text>
<text x="240.24" y="152.15" font-size="4.1" text-anchor="middle" fill="#2a2a2a" stroke="#2a2a2a" stroke-width="0.25">4</text>
<text x="260.2" y="152.15" font-size="4.1" text-anchor="middle" fill="#2a2a2a" stroke="#2a2a2a" stroke-width="0.25">5</text>
<text x="250.8" y="159.1" font-size="4.1" fill="#444" stroke="#444" stroke-width="0.15">×10<tspan font-size="3" dy="-1.8">4</tspan></text>
<text x="210.3" y="158.6" font-size="4.65" text-anchor="middle" fill="#1a1a1a" stroke="#1a1a1a" stroke-width="0.22">FEs</text>
<text x="158.8" y="103.4" font-size="4.1" text-anchor="end" fill="#2a2a2a" stroke="#2a2a2a" stroke-width="0.25">4500</text>
<text x="158.8" y="113.9" font-size="4.1" text-anchor="end" fill="#2a2a2a" stroke="#2a2a2a" stroke-width="0.25">4000</text>
<text x="158.8" y="125.8" font-size="4.1" text-anchor="end" fill="#2a2a2a" stroke="#2a2a2a" stroke-width="0.25">3500</text>
<text x="158.8" y="139" font-size="4.1" text-anchor="end" fill="#2a2a2a" stroke="#2a2a2a" stroke-width="0.25">3000</text>
<text transform="translate(147.9,119.55) rotate(-90)" font-size="4.55" text-anchor="middle" fill="#1a1a1a" stroke="#1a1a1a" stroke-width="0.22">Fitness</text>
<text x="210.3" y="91.2" font-size="4.8" text-anchor="middle" fill="#1a1a1a" stroke="#1a1a1a" stroke-width="0.15">CEC2017 F16(50D)</text>
<clipPath id="c6"><rect x="300.7" y="93" width="100.4" height="53.2"/></clipPath>
<line x1="320.78" y1="93" x2="320.78" y2="146.2" stroke="#e4e4e4" stroke-width="0.5"/>
<line x1="340.86" y1="93" x2="340.86" y2="146.2" stroke="#e4e4e4" stroke-width="0.5"/>
<line x1="360.94" y1="93" x2="360.94" y2="146.2" stroke="#e4e4e4" stroke-width="0.5"/>
<line x1="381.02" y1="93" x2="381.02" y2="146.2" stroke="#e4e4e4" stroke-width="0.5"/>
<line x1="300.7" y1="135.5" x2="401.1" y2="135.5" stroke="#e4e4e4" stroke-width="0.5"/>
<line x1="300.7" y1="144.53" x2="401.1" y2="144.53" stroke="#ececec" stroke-width="0.5"/>
<line x1="300.7" y1="142.16" x2="401.1" y2="142.16" stroke="#ececec" stroke-width="0.5"/>
<line x1="300.7" y1="140.15" x2="401.1" y2="140.15" stroke="#ececec" stroke-width="0.5"/>
<line x1="300.7" y1="138.41" x2="401.1" y2="138.41" stroke="#ececec" stroke-width="0.5"/>
<line x1="300.7" y1="136.87" x2="401.1" y2="136.87" stroke="#ececec" stroke-width="0.5"/>
<line x1="300.7" y1="126.47" x2="401.1" y2="126.47" stroke="#ececec" stroke-width="0.5"/>
<line x1="300.7" y1="121.19" x2="401.1" y2="121.19" stroke="#ececec" stroke-width="0.5"/>
<line x1="300.7" y1="117.44" x2="401.1" y2="117.44" stroke="#ececec" stroke-width="0.5"/>
<line x1="300.7" y1="114.53" x2="401.1" y2="114.53" stroke="#ececec" stroke-width="0.5"/>
<line x1="300.7" y1="112.16" x2="401.1" y2="112.16" stroke="#ececec" stroke-width="0.5"/>
<line x1="300.7" y1="110.15" x2="401.1" y2="110.15" stroke="#ececec" stroke-width="0.5"/>
<line x1="300.7" y1="108.41" x2="401.1" y2="108.41" stroke="#ececec" stroke-width="0.5"/>
<line x1="300.7" y1="106.87" x2="401.1" y2="106.87" stroke="#ececec" stroke-width="0.5"/>
<line x1="300.7" y1="96.47" x2="401.1" y2="96.47" stroke="#ececec" stroke-width="0.5"/>
<g clip-path="url(#c6)" fill="none" stroke-width="0.85" stroke-linejoin="round" stroke-linecap="round">
<polyline points="308.8,92.9 318.6,99.8 328.4,106.2 338.3,110.6 350,117.5 359.8,121.9 374.5,126.8 384.3,130.8 391.2,134.7 395.1,139.1 402,140.6" stroke="#3a6db4"/>
<path d="M309.6 93.6h2.2l-1.1 1.8zM314.7 97.1h2.2l-1.1 1.8zM319.7 100.6h2.2l-1.1 1.8zM324.7 103.8h2.2l-1.1 1.8zM329.7 106.6h2.2l-1.1 1.8zM334.7 108.8h2.2l-1.1 1.8zM339.8 111.4h2.2l-1.1 1.8zM344.8 114.4h2.2l-1.1 1.8zM349.8 117.2h2.2l-1.1 1.8zM354.8 119.5h2.2l-1.1 1.8zM359.8 121.6h2.2l-1.1 1.8zM364.9 123.3h2.2l-1.1 1.8zM369.9 125.0h2.2l-1.1 1.8zM374.9 126.8h2.2l-1.1 1.8zM379.9 128.8h2.2l-1.1 1.8zM384.9 131.1h2.2l-1.1 1.8zM390.0 134.0h2.2l-1.1 1.8zM395.0 138.7h2.2l-1.1 1.8zM400.0 139.7h2.2l-1.1 1.8z" fill="#3a6db4" stroke="none"/>
<polyline points="310.8,92.9 316.7,98.8 328.4,105.7 338.3,108.6 350,111.1 354.9,111.1 359.8,113.6 379.4,115 402,115.5" stroke="#f2913a"/>
<path d="M314.9 97.9a0.9 0.9 0 1 0 1.8 0a0.9 0.9 0 1 0 -1.8 0zM319.9 101.2a0.9 0.9 0 1 0 1.8 0a0.9 0.9 0 1 0 -1.8 0zM324.9 104.2a0.9 0.9 0 1 0 1.8 0a0.9 0.9 0 1 0 -1.8 0zM329.9 106.4a0.9 0.9 0 1 0 1.8 0a0.9 0.9 0 1 0 -1.8 0zM334.9 107.9a0.9 0.9 0 1 0 1.8 0a0.9 0.9 0 1 0 -1.8 0zM340.0 109.1a0.9 0.9 0 1 0 1.8 0a0.9 0.9 0 1 0 -1.8 0zM345.0 110.2a0.9 0.9 0 1 0 1.8 0a0.9 0.9 0 1 0 -1.8 0zM350.0 111.1a0.9 0.9 0 1 0 1.8 0a0.9 0.9 0 1 0 -1.8 0zM355.0 111.6a0.9 0.9 0 1 0 1.8 0a0.9 0.9 0 1 0 -1.8 0zM360.0 113.7a0.9 0.9 0 1 0 1.8 0a0.9 0.9 0 1 0 -1.8 0zM365.1 114.0a0.9 0.9 0 1 0 1.8 0a0.9 0.9 0 1 0 -1.8 0zM370.1 114.4a0.9 0.9 0 1 0 1.8 0a0.9 0.9 0 1 0 -1.8 0zM375.1 114.8a0.9 0.9 0 1 0 1.8 0a0.9 0.9 0 1 0 -1.8 0zM380.1 115.0a0.9 0.9 0 1 0 1.8 0a0.9 0.9 0 1 0 -1.8 0zM385.1 115.1a0.9 0.9 0 1 0 1.8 0a0.9 0.9 0 1 0 -1.8 0zM390.2 115.3a0.9 0.9 0 1 0 1.8 0a0.9 0.9 0 1 0 -1.8 0zM395.2 115.4a0.9 0.9 0 1 0 1.8 0a0.9 0.9 0 1 0 -1.8 0zM400.2 115.5a0.9 0.9 0 1 0 1.8 0a0.9 0.9 0 1 0 -1.8 0z" fill="#f2913a" stroke="none"/>
<polyline points="305.9,92.9 313.7,100.8 323.5,109.6 333.3,117.5 343.2,127.8 353,137.6 357.9,140.6 364.7,144 374.5,145.5 402,146" stroke="#e1504f"/>
<path d="M309.6 98.5h2.2l-1.1 -1.8zM314.7 103.3h2.2l-1.1 -1.8zM319.7 107.8h2.2l-1.1 -1.8zM324.7 112.1h2.2l-1.1 -1.8zM329.7 116.2h2.2l-1.1 -1.8zM334.7 120.8h2.2l-1.1 -1.8zM339.8 126.0h2.2l-1.1 -1.8zM344.8 131.1h2.2l-1.1 -1.8zM349.8 136.2h2.2l-1.1 -1.8zM354.8 140.0h2.2l-1.1 -1.8zM359.8 142.8h2.2l-1.1 -1.8zM364.9 144.9h2.2l-1.1 -1.8zM369.9 145.6h2.2l-1.1 -1.8zM374.9 146.2h2.2l-1.1 -1.8zM379.9 146.3h2.2l-1.1 -1.8zM384.9 146.4h2.2l-1.1 -1.8zM390.0 146.5h2.2l-1.1 -1.8zM395.0 146.6h2.2l-1.1 -1.8zM400.0 146.6h2.2l-1.1 -1.8z" fill="#e1504f" stroke="none"/>
<polyline points="313.7,93.9 328.4,96.9 350,98.8 369.6,99.8 402,101.5" stroke="#6cbab2"/>
<path d="M314.9 93.5h1.7v1.7h-1.7zM319.9 94.5h1.7v1.7h-1.7zM324.9 95.5h1.7v1.7h-1.7zM330.0 96.3h1.7v1.7h-1.7zM335.0 96.7h1.7v1.7h-1.7zM340.0 97.1h1.7v1.7h-1.7zM345.0 97.6h1.7v1.7h-1.7zM350.0 98.0h1.7v1.7h-1.7zM355.1 98.3h1.7v1.7h-1.7zM360.1 98.5h1.7v1.7h-1.7zM365.1 98.8h1.7v1.7h-1.7zM370.1 99.0h1.7v1.7h-1.7zM375.1 99.3h1.7v1.7h-1.7zM380.2 99.5h1.7v1.7h-1.7zM385.2 99.8h1.7v1.7h-1.7zM390.2 100.1h1.7v1.7h-1.7zM395.2 100.3h1.7v1.7h-1.7zM400.2 100.6h1.7v1.7h-1.7z" fill="#6cbab2" stroke="none"/>
<polyline points="307.8,92.9 313.7,98.8 323.5,106.7 333.3,111.6 343.2,116.5 353,120.8 369.6,126.8 389.3,133.7 402,137.6" stroke="#4aa348"/>
<path d="M310.7 94.7l0.9 1.1l-0.9 1.1l-0.9 -1.1zM315.8 99.4l0.9 1.1l-0.9 1.1l-0.9 -1.1zM320.8 103.4l0.9 1.1l-0.9 1.1l-0.9 -1.1zM325.8 106.8l0.9 1.1l-0.9 1.1l-0.9 -1.1zM330.8 109.3l0.9 1.1l-0.9 1.1l-0.9 -1.1zM335.8 111.8l0.9 1.1l-0.9 1.1l-0.9 -1.1zM340.9 114.2l0.9 1.1l-0.9 1.1l-0.9 -1.1zM345.9 116.6l0.9 1.1l-0.9 1.1l-0.9 -1.1zM350.9 118.8l0.9 1.1l-0.9 1.1l-0.9 -1.1zM355.9 120.8l0.9 1.1l-0.9 1.1l-0.9 -1.1zM360.9 122.6l0.9 1.1l-0.9 1.1l-0.9 -1.1zM366.0 124.4l0.9 1.1l-0.9 1.1l-0.9 -1.1zM371.0 126.2l0.9 1.1l-0.9 1.1l-0.9 -1.1zM376.0 127.9l0.9 1.1l-0.9 1.1l-0.9 -1.1zM381.0 129.7l0.9 1.1l-0.9 1.1l-0.9 -1.1zM386.0 131.5l0.9 1.1l-0.9 1.1l-0.9 -1.1zM391.1 133.1l0.9 1.1l-0.9 1.1l-0.9 -1.1zM396.1 134.7l0.9 1.1l-0.9 1.1l-0.9 -1.1zM401.1 136.2l0.9 1.1l-0.9 1.1l-0.9 -1.1z" fill="#4aa348" stroke="none"/>
<polyline points="326.5,92.9 338.3,94.4 350,96.4 369.6,98.3 389.3,99.8 402,101.3" stroke="#f1c540"/>
<path d="M329.7 92.8h2.2l-1.1 1.8zM334.7 93.4h2.2l-1.1 1.8zM339.8 94.2h2.2l-1.1 1.8zM344.8 95.0h2.2l-1.1 1.8zM349.8 95.8h2.2l-1.1 1.8zM354.8 96.3h2.2l-1.1 1.8zM359.8 96.8h2.2l-1.1 1.8zM364.9 97.3h2.2l-1.1 1.8zM369.9 97.7h2.2l-1.1 1.8zM374.9 98.1h2.2l-1.1 1.8zM379.9 98.5h2.2l-1.1 1.8zM384.9 98.9h2.2l-1.1 1.8zM390.0 99.3h2.2l-1.1 1.8zM395.0 99.9h2.2l-1.1 1.8zM400.0 100.5h2.2l-1.1 1.8z" fill="#f1c540" stroke="none"/>
<polyline points="309.5,92.9 319,99.5 328.4,105.8 338.3,110.2 350,116.5 359.8,118 379.4,124.9 389.3,126.3 402,126.3" stroke="#a673ae"/>
<path d="M309.8 93.8a0.9 0.9 0 1 0 1.8 0a0.9 0.9 0 1 0 -1.8 0zM314.9 97.2a0.9 0.9 0 1 0 1.8 0a0.9 0.9 0 1 0 -1.8 0zM319.9 100.7a0.9 0.9 0 1 0 1.8 0a0.9 0.9 0 1 0 -1.8 0zM324.9 104.1a0.9 0.9 0 1 0 1.8 0a0.9 0.9 0 1 0 -1.8 0zM329.9 106.9a0.9 0.9 0 1 0 1.8 0a0.9 0.9 0 1 0 -1.8 0zM334.9 109.1a0.9 0.9 0 1 0 1.8 0a0.9 0.9 0 1 0 -1.8 0zM340.0 111.6a0.9 0.9 0 1 0 1.8 0a0.9 0.9 0 1 0 -1.8 0zM345.0 114.3a0.9 0.9 0 1 0 1.8 0a0.9 0.9 0 1 0 -1.8 0zM350.0 116.6a0.9 0.9 0 1 0 1.8 0a0.9 0.9 0 1 0 -1.8 0zM355.0 117.4a0.9 0.9 0 1 0 1.8 0a0.9 0.9 0 1 0 -1.8 0zM360.0 118.4a0.9 0.9 0 1 0 1.8 0a0.9 0.9 0 1 0 -1.8 0zM365.1 120.2a0.9 0.9 0 1 0 1.8 0a0.9 0.9 0 1 0 -1.8 0zM370.1 121.9a0.9 0.9 0 1 0 1.8 0a0.9 0.9 0 1 0 -1.8 0zM375.1 123.7a0.9 0.9 0 1 0 1.8 0a0.9 0.9 0 1 0 -1.8 0zM380.1 125.1a0.9 0.9 0 1 0 1.8 0a0.9 0.9 0 1 0 -1.8 0zM385.1 125.8a0.9 0.9 0 1 0 1.8 0a0.9 0.9 0 1 0 -1.8 0zM390.2 126.3a0.9 0.9 0 1 0 1.8 0a0.9 0.9 0 1 0 -1.8 0zM395.2 126.3a0.9 0.9 0 1 0 1.8 0a0.9 0.9 0 1 0 -1.8 0zM400.2 126.3a0.9 0.9 0 1 0 1.8 0a0.9 0.9 0 1 0 -1.8 0z" fill="#a673ae" stroke="none"/>
<polyline points="313.7,93.9 328.4,100.8 343.2,106.7 353,111.6 359.8,115 374.5,125.9 389.3,132.7 402,135.2" stroke="#f5a1ad"/>
<path d="M314.7 95.5h2.2l-1.1 -1.8zM319.7 97.9h2.2l-1.1 -1.8zM324.7 100.2h2.2l-1.1 -1.8zM329.7 102.4h2.2l-1.1 -1.8zM334.7 104.4h2.2l-1.1 -1.8zM339.8 106.4h2.2l-1.1 -1.8zM344.8 108.7h2.2l-1.1 -1.8zM349.8 111.2h2.2l-1.1 -1.8zM354.8 113.7h2.2l-1.1 -1.8zM359.8 116.5h2.2l-1.1 -1.8zM364.9 120.2h2.2l-1.1 -1.8zM369.9 123.9h2.2l-1.1 -1.8zM374.9 127.2h2.2l-1.1 -1.8zM379.9 129.6h2.2l-1.1 -1.8zM384.9 131.9h2.2l-1.1 -1.8zM390.0 133.7h2.2l-1.1 -1.8zM395.0 134.7h2.2l-1.1 -1.8zM400.0 135.7h2.2l-1.1 -1.8z" fill="#f5a1ad" stroke="none"/>
<polyline points="313.7,94.9 328.4,98.3 343.2,100.3 350,101.3 369.6,104.2 384.3,108.2 402,112.6" stroke="#9f6e57"/>
<path d="M314.9 94.5h1.7v1.7h-1.7zM319.9 95.7h1.7v1.7h-1.7zM324.9 96.8h1.7v1.7h-1.7zM330.0 97.8h1.7v1.7h-1.7zM335.0 98.5h1.7v1.7h-1.7zM340.0 99.1h1.7v1.7h-1.7zM345.0 99.8h1.7v1.7h-1.7zM350.0 100.6h1.7v1.7h-1.7zM355.1 101.3h1.7v1.7h-1.7zM360.1 102.1h1.7v1.7h-1.7zM365.1 102.8h1.7v1.7h-1.7zM370.1 103.7h1.7v1.7h-1.7zM375.1 105.1h1.7v1.7h-1.7zM380.2 106.5h1.7v1.7h-1.7zM385.2 107.8h1.7v1.7h-1.7zM390.2 109.0h1.7v1.7h-1.7zM395.2 110.3h1.7v1.7h-1.7zM400.2 111.5h1.7v1.7h-1.7z" fill="#9f6e57" stroke="none"/>
<polyline points="374.5,92.9 402,94" stroke="#bbb3ad"/>
<path d="M376.0 91.9l0.9 1.1l-0.9 1.1l-0.9 -1.1zM381.0 92.1l0.9 1.1l-0.9 1.1l-0.9 -1.1zM386.0 92.3l0.9 1.1l-0.9 1.1l-0.9 -1.1zM391.1 92.5l0.9 1.1l-0.9 1.1l-0.9 -1.1zM396.1 92.7l0.9 1.1l-0.9 1.1l-0.9 -1.1zM401.1 92.9l0.9 1.1l-0.9 1.1l-0.9 -1.1z" fill="#bbb3ad" stroke="none"/>
</g>
<rect x="300.7" y="93" width="100.4" height="53.2" fill="none" stroke="#b4b4b4" stroke-width="0.6"/>
<text x="300.7" y="152.05" font-size="4.1" text-anchor="middle" fill="#2a2a2a" stroke="#2a2a2a" stroke-width="0.25">0</text>
<text x="320.78" y="152.05" font-size="4.1" text-anchor="middle" fill="#2a2a2a" stroke="#2a2a2a" stroke-width="0.25">2</text>
<text x="340.86" y="152.05" font-size="4.1" text-anchor="middle" fill="#2a2a2a" stroke="#2a2a2a" stroke-width="0.25">4</text>
<text x="360.94" y="152.05" font-size="4.1" text-anchor="middle" fill="#2a2a2a" stroke="#2a2a2a" stroke-width="0.25">6</text>
<text x="381.02" y="152.05" font-size="4.1" text-anchor="middle" fill="#2a2a2a" stroke="#2a2a2a" stroke-width="0.25">8</text>
<text x="401.1" y="152.05" font-size="4.1" text-anchor="middle" fill="#2a2a2a" stroke="#2a2a2a" stroke-width="0.25">10</text>
<text x="391.7" y="159" font-size="4.1" fill="#444" stroke="#444" stroke-width="0.15">×10<tspan font-size="3" dy="-1.8">4</tspan></text>
<text x="350.9" y="158.5" font-size="4.65" text-anchor="middle" fill="#1a1a1a" stroke="#1a1a1a" stroke-width="0.22">FEs</text>
<text x="299" y="135" font-size="2.8" text-anchor="end" fill="#2a2a2a" stroke="#2a2a2a" stroke-width="0.25">5</text><text x="297.04" y="136.9" font-size="4.1" text-anchor="end" fill="#2a2a2a" stroke="#2a2a2a" stroke-width="0.25">10</text>
<text transform="translate(291.3,119.6) rotate(-90)" font-size="4.55" text-anchor="middle" fill="#1a1a1a" stroke="#1a1a1a" stroke-width="0.22">Fitness</text>
<text x="350.9" y="91.4" font-size="4.8" text-anchor="middle" fill="#1a1a1a" stroke="#1a1a1a" stroke-width="0.15">CEC2017 F18(100D)</text>
<clipPath id="c7"><rect x="442.6" y="92.8" width="99.8" height="53.5"/></clipPath>
<line x1="462.56" y1="92.8" x2="462.56" y2="146.3" stroke="#e4e4e4" stroke-width="0.5"/>
<line x1="482.52" y1="92.8" x2="482.52" y2="146.3" stroke="#e4e4e4" stroke-width="0.5"/>
<line x1="502.48" y1="92.8" x2="502.48" y2="146.3" stroke="#e4e4e4" stroke-width="0.5"/>
<line x1="522.44" y1="92.8" x2="522.44" y2="146.3" stroke="#e4e4e4" stroke-width="0.5"/>
<line x1="442.6" y1="99.6" x2="542.4" y2="99.6" stroke="#e4e4e4" stroke-width="0.5"/>
<line x1="442.6" y1="114.7" x2="542.4" y2="114.7" stroke="#e4e4e4" stroke-width="0.5"/>
<line x1="442.6" y1="131.4" x2="542.4" y2="131.4" stroke="#e4e4e4" stroke-width="0.5"/>
<line x1="442.6" y1="142.51" x2="542.4" y2="142.51" stroke="#ececec" stroke-width="0.5"/>
<line x1="442.6" y1="138.71" x2="542.4" y2="138.71" stroke="#ececec" stroke-width="0.5"/>
<line x1="442.6" y1="135.01" x2="542.4" y2="135.01" stroke="#ececec" stroke-width="0.5"/>
<line x1="442.6" y1="131.4" x2="542.4" y2="131.4" stroke="#ececec" stroke-width="0.5"/>
<line x1="442.6" y1="127.88" x2="542.4" y2="127.88" stroke="#ececec" stroke-width="0.5"/>
<line x1="442.6" y1="124.45" x2="542.4" y2="124.45" stroke="#ececec" stroke-width="0.5"/>
<line x1="442.6" y1="121.1" x2="542.4" y2="121.1" stroke="#ececec" stroke-width="0.5"/>
<line x1="442.6" y1="117.82" x2="542.4" y2="117.82" stroke="#ececec" stroke-width="0.5"/>
<line x1="442.6" y1="114.62" x2="542.4" y2="114.62" stroke="#ececec" stroke-width="0.5"/>
<line x1="442.6" y1="111.49" x2="542.4" y2="111.49" stroke="#ececec" stroke-width="0.5"/>
<line x1="442.6" y1="108.43" x2="542.4" y2="108.43" stroke="#ececec" stroke-width="0.5"/>
<line x1="442.6" y1="105.43" x2="542.4" y2="105.43" stroke="#ececec" stroke-width="0.5"/>
<line x1="442.6" y1="102.49" x2="542.4" y2="102.49" stroke="#ececec" stroke-width="0.5"/>
<line x1="442.6" y1="99.61" x2="542.4" y2="99.61" stroke="#ececec" stroke-width="0.5"/>
<line x1="442.6" y1="96.79" x2="542.4" y2="96.79" stroke="#ececec" stroke-width="0.5"/>
<line x1="442.6" y1="94.03" x2="542.4" y2="94.03" stroke="#ececec" stroke-width="0.5"/>
<g clip-path="url(#c7)" fill="none" stroke-width="0.85" stroke-linejoin="round" stroke-linecap="round">
<polyline points="452.8,92.9 455.7,99.8 458.6,109.6 463.6,115.5 468.5,118 479.3,121.9 491,124.4 500.8,128.3 510.6,132.7 520.4,139.6 530.3,144.5 543,146.5" stroke="#3a6db4"/>
<path d="M456.5 105.5h2.2l-1.1 1.8zM461.5 113.6h2.2l-1.1 1.8zM466.4 116.9h2.2l-1.1 1.8zM471.4 118.8h2.2l-1.1 1.8zM476.4 120.6h2.2l-1.1 1.8zM481.4 121.9h2.2l-1.1 1.8zM486.4 123.0h2.2l-1.1 1.8zM491.4 124.3h2.2l-1.1 1.8zM496.4 126.3h2.2l-1.1 1.8zM501.4 128.4h2.2l-1.1 1.8zM506.4 130.6h2.2l-1.1 1.8zM511.4 133.3h2.2l-1.1 1.8zM516.4 136.9h2.2l-1.1 1.8zM521.3 139.9h2.2l-1.1 1.8zM526.3 142.4h2.2l-1.1 1.8zM531.3 144.2h2.2l-1.1 1.8zM536.3 145.0h2.2l-1.1 1.8zM541.3 145.7h2.2l-1.1 1.8z" fill="#3a6db4" stroke="none"/>
<polyline points="454.7,92.9 458.6,104.7 464.5,109.6 469.4,113.6 474.3,114.5 479.3,117.5 491,121.9 502.8,125.9 515.5,128.3 530.3,131.7 543,132.7" stroke="#f2913a"/>
<path d="M456.7 101.6a0.9 0.9 0 1 0 1.8 0a0.9 0.9 0 1 0 -1.8 0zM461.7 108.0a0.9 0.9 0 1 0 1.8 0a0.9 0.9 0 1 0 -1.8 0zM466.7 112.1a0.9 0.9 0 1 0 1.8 0a0.9 0.9 0 1 0 -1.8 0zM471.6 114.2a0.9 0.9 0 1 0 1.8 0a0.9 0.9 0 1 0 -1.8 0zM476.6 116.4a0.9 0.9 0 1 0 1.8 0a0.9 0.9 0 1 0 -1.8 0zM481.6 118.7a0.9 0.9 0 1 0 1.8 0a0.9 0.9 0 1 0 -1.8 0zM486.6 120.6a0.9 0.9 0 1 0 1.8 0a0.9 0.9 0 1 0 -1.8 0zM491.6 122.4a0.9 0.9 0 1 0 1.8 0a0.9 0.9 0 1 0 -1.8 0zM496.6 124.1a0.9 0.9 0 1 0 1.8 0a0.9 0.9 0 1 0 -1.8 0zM501.6 125.8a0.9 0.9 0 1 0 1.8 0a0.9 0.9 0 1 0 -1.8 0zM506.6 126.8a0.9 0.9 0 1 0 1.8 0a0.9 0.9 0 1 0 -1.8 0zM511.6 127.7a0.9 0.9 0 1 0 1.8 0a0.9 0.9 0 1 0 -1.8 0zM516.6 128.7a0.9 0.9 0 1 0 1.8 0a0.9 0.9 0 1 0 -1.8 0zM521.5 129.9a0.9 0.9 0 1 0 1.8 0a0.9 0.9 0 1 0 -1.8 0zM526.5 131.0a0.9 0.9 0 1 0 1.8 0a0.9 0.9 0 1 0 -1.8 0zM531.5 131.9a0.9 0.9 0 1 0 1.8 0a0.9 0.9 0 1 0 -1.8 0zM536.5 132.3a0.9 0.9 0 1 0 1.8 0a0.9 0.9 0 1 0 -1.8 0zM541.5 132.7a0.9 0.9 0 1 0 1.8 0a0.9 0.9 0 1 0 -1.8 0z" fill="#f2913a" stroke="none"/>
<polyline points="449.8,92.9 452.8,106.7 457.7,111.6 463.6,115.5 469.4,118 479.3,119.5 491,121.9 500.8,124.9 510.6,135.7 520.4,140.6 530.3,143.5 543,144.5" stroke="#e1504f"/>
<path d="M451.5 106.3h2.2l-1.1 -1.8zM456.5 112.1h2.2l-1.1 -1.8zM461.5 115.5h2.2l-1.1 -1.8zM466.4 117.9h2.2l-1.1 -1.8zM471.4 119.1h2.2l-1.1 -1.8zM476.4 119.9h2.2l-1.1 -1.8zM481.4 120.8h2.2l-1.1 -1.8zM486.4 121.8h2.2l-1.1 -1.8zM491.4 123.0h2.2l-1.1 -1.8zM496.4 124.5h2.2l-1.1 -1.8zM501.4 127.4h2.2l-1.1 -1.8zM506.4 132.9h2.2l-1.1 -1.8zM511.4 137.3h2.2l-1.1 -1.8zM516.4 139.8h2.2l-1.1 -1.8zM521.3 141.9h2.2l-1.1 -1.8zM526.3 143.3h2.2l-1.1 -1.8zM531.3 144.3h2.2l-1.1 -1.8zM536.3 144.7h2.2l-1.1 -1.8zM541.3 145.1h2.2l-1.1 -1.8z" fill="#e1504f" stroke="none"/>
<polyline points="458.6,93.9 469.4,99.8 479.3,102.8 491,104.7 515.5,107.7 543,110.6" stroke="#6cbab2"/>
<path d="M461.7 95.2h1.7v1.7h-1.7zM466.7 97.9h1.7v1.7h-1.7zM471.7 99.9h1.7v1.7h-1.7zM476.7 101.4h1.7v1.7h-1.7zM481.7 102.5h1.7v1.7h-1.7zM486.7 103.3h1.7v1.7h-1.7zM491.6 104.0h1.7v1.7h-1.7zM496.6 104.6h1.7v1.7h-1.7zM501.6 105.3h1.7v1.7h-1.7zM506.6 105.9h1.7v1.7h-1.7zM511.6 106.5h1.7v1.7h-1.7zM516.6 107.1h1.7v1.7h-1.7zM521.6 107.6h1.7v1.7h-1.7zM526.6 108.1h1.7v1.7h-1.7zM531.6 108.6h1.7v1.7h-1.7zM536.6 109.2h1.7v1.7h-1.7zM541.5 109.7h1.7v1.7h-1.7z" fill="#6cbab2" stroke="none"/>
<polyline points="508.7,92.9 525.3,96.4 543,99.8" stroke="#4aa348"/>
<path d="M512.5 92.6l0.9 1.1l-0.9 1.1l-0.9 -1.1zM517.5 93.6l0.9 1.1l-0.9 1.1l-0.9 -1.1zM522.4 94.7l0.9 1.1l-0.9 1.1l-0.9 -1.1zM527.4 95.7l0.9 1.1l-0.9 1.1l-0.9 -1.1zM532.4 96.7l0.9 1.1l-0.9 1.1l-0.9 -1.1zM537.4 97.6l0.9 1.1l-0.9 1.1l-0.9 -1.1zM542.4 98.6l0.9 1.1l-0.9 1.1l-0.9 -1.1z" fill="#4aa348" stroke="none"/>
<polyline points="462.6,92.9 468.5,100.8 479.3,107.7 491,111.4 515.5,114.3 543,115.5" stroke="#a673ae"/>
<path d="M466.7 99.5a0.9 0.9 0 1 0 1.8 0a0.9 0.9 0 1 0 -1.8 0zM471.6 103.4a0.9 0.9 0 1 0 1.8 0a0.9 0.9 0 1 0 -1.8 0zM476.6 106.6a0.9 0.9 0 1 0 1.8 0a0.9 0.9 0 1 0 -1.8 0zM481.6 108.7a0.9 0.9 0 1 0 1.8 0a0.9 0.9 0 1 0 -1.8 0zM486.6 110.3a0.9 0.9 0 1 0 1.8 0a0.9 0.9 0 1 0 -1.8 0zM491.6 111.6a0.9 0.9 0 1 0 1.8 0a0.9 0.9 0 1 0 -1.8 0zM496.6 112.2a0.9 0.9 0 1 0 1.8 0a0.9 0.9 0 1 0 -1.8 0zM501.6 112.8a0.9 0.9 0 1 0 1.8 0a0.9 0.9 0 1 0 -1.8 0zM506.6 113.3a0.9 0.9 0 1 0 1.8 0a0.9 0.9 0 1 0 -1.8 0zM511.6 113.9a0.9 0.9 0 1 0 1.8 0a0.9 0.9 0 1 0 -1.8 0zM516.6 114.4a0.9 0.9 0 1 0 1.8 0a0.9 0.9 0 1 0 -1.8 0zM521.5 114.6a0.9 0.9 0 1 0 1.8 0a0.9 0.9 0 1 0 -1.8 0zM526.5 114.8a0.9 0.9 0 1 0 1.8 0a0.9 0.9 0 1 0 -1.8 0zM531.5 115.0a0.9 0.9 0 1 0 1.8 0a0.9 0.9 0 1 0 -1.8 0zM536.5 115.3a0.9 0.9 0 1 0 1.8 0a0.9 0.9 0 1 0 -1.8 0zM541.5 115.5a0.9 0.9 0 1 0 1.8 0a0.9 0.9 0 1 0 -1.8 0z" fill="#a673ae" stroke="none"/>
<polyline points="461,92.5 468.5,100.8 479.3,109.6 491,115.5 500.8,118 515.5,122.9 525.3,129.8 535.2,134.7 543,138.6" stroke="#f5a1ad"/>
<path d="M461.5 94.9h2.2l-1.1 -1.8zM466.4 100.4h2.2l-1.1 -1.8zM471.4 104.8h2.2l-1.1 -1.8zM476.4 108.8h2.2l-1.1 -1.8zM481.4 111.9h2.2l-1.1 -1.8zM486.4 114.4h2.2l-1.1 -1.8zM491.4 116.5h2.2l-1.1 -1.8zM496.4 117.8h2.2l-1.1 -1.8zM501.4 119.2h2.2l-1.1 -1.8zM506.4 120.9h2.2l-1.1 -1.8zM511.4 122.5h2.2l-1.1 -1.8zM516.4 124.9h2.2l-1.1 -1.8zM521.3 128.4h2.2l-1.1 -1.8zM526.3 131.5h2.2l-1.1 -1.8zM531.3 134.0h2.2l-1.1 -1.8zM536.3 136.5h2.2l-1.1 -1.8zM541.3 139.0h2.2l-1.1 -1.8z" fill="#f5a1ad" stroke="none"/>
<polyline points="457.7,92.9 464.5,100.8 474.3,106.7 491,111.6 515.5,114.5 523.4,116.5 530.3,120.4 534.2,124 538.1,126.8 543,130.8" stroke="#9f6e57"/>
<path d="M461.7 97.7h1.7v1.7h-1.7zM466.7 101.8h1.7v1.7h-1.7zM471.7 104.8h1.7v1.7h-1.7zM476.7 106.8h1.7v1.7h-1.7zM481.7 108.3h1.7v1.7h-1.7zM486.7 109.7h1.7v1.7h-1.7zM491.6 110.9h1.7v1.7h-1.7zM496.6 111.5h1.7v1.7h-1.7zM501.6 112.1h1.7v1.7h-1.7zM506.6 112.7h1.7v1.7h-1.7zM511.6 113.3h1.7v1.7h-1.7zM516.6 114.1h1.7v1.7h-1.7zM521.6 115.4h1.7v1.7h-1.7zM526.6 117.9h1.7v1.7h-1.7zM531.6 121.5h1.7v1.7h-1.7zM536.6 125.5h1.7v1.7h-1.7zM541.5 129.5h1.7v1.7h-1.7z" fill="#9f6e57" stroke="none"/>
</g>
<rect x="442.6" y="92.8" width="99.8" height="53.5" fill="none" stroke="#b4b4b4" stroke-width="0.6"/>
<text x="442.6" y="152.15" font-size="4.1" text-anchor="middle" fill="#2a2a2a" stroke="#2a2a2a" stroke-width="0.25">0</text>
<text x="462.56" y="152.15" font-size="4.1" text-anchor="middle" fill="#2a2a2a" stroke="#2a2a2a" stroke-width="0.25">2</text>
<text x="482.52" y="152.15" font-size="4.1" text-anchor="middle" fill="#2a2a2a" stroke="#2a2a2a" stroke-width="0.25">4</text>
<text x="502.48" y="152.15" font-size="4.1" text-anchor="middle" fill="#2a2a2a" stroke="#2a2a2a" stroke-width="0.25">6</text>
<text x="522.44" y="152.15" font-size="4.1" text-anchor="middle" fill="#2a2a2a" stroke="#2a2a2a" stroke-width="0.25">8</text>
<text x="542.4" y="152.15" font-size="4.1" text-anchor="middle" fill="#2a2a2a" stroke="#2a2a2a" stroke-width="0.25">10</text>
<text x="533" y="159.1" font-size="4.1" fill="#444" stroke="#444" stroke-width="0.15">×10<tspan font-size="3" dy="-1.8">4</tspan></text>
<text x="492.5" y="158.6" font-size="4.65" text-anchor="middle" fill="#1a1a1a" stroke="#1a1a1a" stroke-width="0.22">FEs</text>
<text x="441" y="101" font-size="4.1" text-anchor="end" fill="#2a2a2a" stroke="#2a2a2a" stroke-width="0.25">5000</text>
<text x="441" y="116.1" font-size="4.1" text-anchor="end" fill="#2a2a2a" stroke="#2a2a2a" stroke-width="0.25">4500</text>
<text x="441" y="132.8" font-size="4.1" text-anchor="end" fill="#2a2a2a" stroke="#2a2a2a" stroke-width="0.25">4000</text>
<text transform="translate(430.2,119.55) rotate(-90)" font-size="4.55" text-anchor="middle" fill="#1a1a1a" stroke="#1a1a1a" stroke-width="0.22">Fitness</text>
<text x="492.5" y="91.2" font-size="4.8" text-anchor="middle" fill="#1a1a1a" stroke="#1a1a1a" stroke-width="0.15">CEC2017 F23(100D)</text>
<clipPath id="c8"><rect x="19.35" y="177.1" width="100.05" height="53.35"/></clipPath>
<line x1="39.36" y1="177.1" x2="39.36" y2="230.45" stroke="#e4e4e4" stroke-width="0.5"/>
<line x1="59.37" y1="177.1" x2="59.37" y2="230.45" stroke="#e4e4e4" stroke-width="0.5"/>
<line x1="79.38" y1="177.1" x2="79.38" y2="230.45" stroke="#e4e4e4" stroke-width="0.5"/>
<line x1="99.39" y1="177.1" x2="99.39" y2="230.45" stroke="#e4e4e4" stroke-width="0.5"/>
<line x1="19.35" y1="186.7" x2="119.4" y2="186.7" stroke="#e4e4e4" stroke-width="0.5"/>
<line x1="19.35" y1="196.8" x2="119.4" y2="196.8" stroke="#e4e4e4" stroke-width="0.5"/>
<line x1="19.35" y1="207.7" x2="119.4" y2="207.7" stroke="#e4e4e4" stroke-width="0.5"/>
<line x1="19.35" y1="218.5" x2="119.4" y2="218.5" stroke="#e4e4e4" stroke-width="0.5"/>
<line x1="19.35" y1="227.32" x2="119.4" y2="227.32" stroke="#ececec" stroke-width="0.5"/>
<line x1="19.35" y1="224.33" x2="119.4" y2="224.33" stroke="#ececec" stroke-width="0.5"/>
<line x1="19.35" y1="221.4" x2="119.4" y2="221.4" stroke="#ececec" stroke-width="0.5"/>
<line x1="19.35" y1="218.5" x2="119.4" y2="218.5" stroke="#ececec" stroke-width="0.5"/>
<line x1="19.35" y1="215.65" x2="119.4" y2="215.65" stroke="#ececec" stroke-width="0.5"/>
<line x1="19.35" y1="212.83" x2="119.4" y2="212.83" stroke="#ececec" stroke-width="0.5"/>
<line x1="19.35" y1="210.06" x2="119.4" y2="210.06" stroke="#ececec" stroke-width="0.5"/>
<line x1="19.35" y1="207.33" x2="119.4" y2="207.33" stroke="#ececec" stroke-width="0.5"/>
<line x1="19.35" y1="204.63" x2="119.4" y2="204.63" stroke="#ececec" stroke-width="0.5"/>
<line x1="19.35" y1="201.97" x2="119.4" y2="201.97" stroke="#ececec" stroke-width="0.5"/>
<line x1="19.35" y1="199.35" x2="119.4" y2="199.35" stroke="#ececec" stroke-width="0.5"/>
<line x1="19.35" y1="196.76" x2="119.4" y2="196.76" stroke="#ececec" stroke-width="0.5"/>
<line x1="19.35" y1="194.21" x2="119.4" y2="194.21" stroke="#ececec" stroke-width="0.5"/>
<line x1="19.35" y1="191.69" x2="119.4" y2="191.69" stroke="#ececec" stroke-width="0.5"/>
<line x1="19.35" y1="189.2" x2="119.4" y2="189.2" stroke="#ececec" stroke-width="0.5"/>
<line x1="19.35" y1="186.74" x2="119.4" y2="186.74" stroke="#ececec" stroke-width="0.5"/>
<line x1="19.35" y1="184.31" x2="119.4" y2="184.31" stroke="#ececec" stroke-width="0.5"/>
<line x1="19.35" y1="181.91" x2="119.4" y2="181.91" stroke="#ececec" stroke-width="0.5"/>
<line x1="19.35" y1="179.54" x2="119.4" y2="179.54" stroke="#ececec" stroke-width="0.5"/>
<g clip-path="url(#c8)" fill="none" stroke-width="0.85" stroke-linejoin="round" stroke-linecap="round">
<polyline points="29.7,177 31.7,183.8 34.6,192.6 38.6,199.5 43.5,205.4 46.4,208 55.3,214.8 65.1,218.7 70,220.2 87.6,224.1 107.3,225.1 120,225.6" stroke="#3a6db4"/>
<path d="M33.3 191.2h2.2l-1.1 1.8zM38.3 199.8h2.2l-1.1 1.8zM43.3 205.5h2.2l-1.1 1.8zM48.3 209.6h2.2l-1.1 1.8zM53.3 213.4h2.2l-1.1 1.8zM58.3 215.8h2.2l-1.1 1.8zM63.3 217.8h2.2l-1.1 1.8zM68.3 219.3h2.2l-1.1 1.8zM73.3 220.5h2.2l-1.1 1.8zM78.3 221.6h2.2l-1.1 1.8zM83.3 222.7h2.2l-1.1 1.8zM88.3 223.5h2.2l-1.1 1.8zM93.3 223.8h2.2l-1.1 1.8zM98.3 224.0h2.2l-1.1 1.8zM103.3 224.3h2.2l-1.1 1.8zM108.3 224.5h2.2l-1.1 1.8zM113.3 224.7h2.2l-1.1 1.8zM118.3 224.9h2.2l-1.1 1.8z" fill="#3a6db4" stroke="none"/>
<polyline points="33.2,177 34.6,183.8 37.6,191.7 41.5,197.6 45.4,203.4 50.3,204.4 55.3,207.4 70,211.3 87.6,213.3 107.3,214.3 120,214.3" stroke="#f2913a"/>
<path d="M33.5 182.6a0.9 0.9 0 1 0 1.8 0a0.9 0.9 0 1 0 -1.8 0zM38.5 194.4a0.9 0.9 0 1 0 1.8 0a0.9 0.9 0 1 0 -1.8 0zM43.5 201.9a0.9 0.9 0 1 0 1.8 0a0.9 0.9 0 1 0 -1.8 0zM48.5 204.2a0.9 0.9 0 1 0 1.8 0a0.9 0.9 0 1 0 -1.8 0zM53.5 206.8a0.9 0.9 0 1 0 1.8 0a0.9 0.9 0 1 0 -1.8 0zM58.5 208.5a0.9 0.9 0 1 0 1.8 0a0.9 0.9 0 1 0 -1.8 0zM63.5 209.8a0.9 0.9 0 1 0 1.8 0a0.9 0.9 0 1 0 -1.8 0zM68.5 211.1a0.9 0.9 0 1 0 1.8 0a0.9 0.9 0 1 0 -1.8 0zM73.5 211.8a0.9 0.9 0 1 0 1.8 0a0.9 0.9 0 1 0 -1.8 0zM78.5 212.4a0.9 0.9 0 1 0 1.8 0a0.9 0.9 0 1 0 -1.8 0zM83.5 212.9a0.9 0.9 0 1 0 1.8 0a0.9 0.9 0 1 0 -1.8 0zM88.5 213.4a0.9 0.9 0 1 0 1.8 0a0.9 0.9 0 1 0 -1.8 0zM93.5 213.6a0.9 0.9 0 1 0 1.8 0a0.9 0.9 0 1 0 -1.8 0zM98.5 213.9a0.9 0.9 0 1 0 1.8 0a0.9 0.9 0 1 0 -1.8 0zM103.5 214.2a0.9 0.9 0 1 0 1.8 0a0.9 0.9 0 1 0 -1.8 0zM108.5 214.3a0.9 0.9 0 1 0 1.8 0a0.9 0.9 0 1 0 -1.8 0zM113.5 214.3a0.9 0.9 0 1 0 1.8 0a0.9 0.9 0 1 0 -1.8 0zM118.5 214.3a0.9 0.9 0 1 0 1.8 0a0.9 0.9 0 1 0 -1.8 0z" fill="#f2913a" stroke="none"/>
<polyline points="28.3,177 29.7,183.8 32.7,192.6 35.6,197.6 40.5,202 45.4,206.9 55.3,213.8 65.1,217.7 70,219.2 87.6,221.1 120,221.6" stroke="#e1504f"/>
<path d="M28.3 182.8h2.2l-1.1 -1.8zM33.3 196.1h2.2l-1.1 -1.8zM38.3 201.6h2.2l-1.1 -1.8zM43.3 206.5h2.2l-1.1 -1.8zM48.3 210.3h2.2l-1.1 -1.8zM53.3 213.8h2.2l-1.1 -1.8zM58.3 216.1h2.2l-1.1 -1.8zM63.3 218.1h2.2l-1.1 -1.8zM68.3 219.7h2.2l-1.1 -1.8zM73.3 220.3h2.2l-1.1 -1.8zM78.3 220.9h2.2l-1.1 -1.8zM83.3 221.4h2.2l-1.1 -1.8zM88.3 221.8h2.2l-1.1 -1.8zM93.3 221.9h2.2l-1.1 -1.8zM98.3 221.9h2.2l-1.1 -1.8zM103.3 222.0h2.2l-1.1 -1.8zM108.3 222.1h2.2l-1.1 -1.8zM113.3 222.2h2.2l-1.1 -1.8zM118.3 222.3h2.2l-1.1 -1.8z" fill="#e1504f" stroke="none"/>
<polyline points="31.7,177.9 35.6,184.8 40.5,190.7 50.3,194.6 60.2,197.6 70,199.5 82.7,202 97.4,204.9 120,207.9" stroke="#6cbab2"/>
<path d="M33.5 181.8h1.7v1.7h-1.7zM38.5 188.5h1.7v1.7h-1.7zM43.5 191.4h1.7v1.7h-1.7zM48.5 193.4h1.7v1.7h-1.7zM53.5 195.0h1.7v1.7h-1.7zM58.5 196.5h1.7v1.7h-1.7zM63.5 197.6h1.7v1.7h-1.7zM68.5 198.5h1.7v1.7h-1.7zM73.5 199.5h1.7v1.7h-1.7zM78.5 200.5h1.7v1.7h-1.7zM83.5 201.5h1.7v1.7h-1.7zM88.5 202.5h1.7v1.7h-1.7zM93.5 203.5h1.7v1.7h-1.7zM98.5 204.3h1.7v1.7h-1.7zM103.5 205.0h1.7v1.7h-1.7zM108.5 205.6h1.7v1.7h-1.7zM113.5 206.3h1.7v1.7h-1.7zM118.6 207.0h1.7v1.7h-1.7z" fill="#6cbab2" stroke="none"/>
<polyline points="60.2,177 70,179.9 87.6,184.8 107.3,189.7 120,191.7" stroke="#4aa348"/>
<path d="M64.4 177.1l0.9 1.1l-0.9 1.1l-0.9 -1.1zM69.4 178.6l0.9 1.1l-0.9 1.1l-0.9 -1.1zM74.4 180.0l0.9 1.1l-0.9 1.1l-0.9 -1.1zM79.4 181.4l0.9 1.1l-0.9 1.1l-0.9 -1.1zM84.4 182.8l0.9 1.1l-0.9 1.1l-0.9 -1.1zM89.4 184.1l0.9 1.1l-0.9 1.1l-0.9 -1.1zM94.4 185.4l0.9 1.1l-0.9 1.1l-0.9 -1.1zM99.4 186.6l0.9 1.1l-0.9 1.1l-0.9 -1.1zM104.4 187.9l0.9 1.1l-0.9 1.1l-0.9 -1.1zM109.4 188.9l0.9 1.1l-0.9 1.1l-0.9 -1.1zM114.4 189.7l0.9 1.1l-0.9 1.1l-0.9 -1.1zM119.4 190.5l0.9 1.1l-0.9 1.1l-0.9 -1.1z" fill="#4aa348" stroke="none"/>
<polyline points="105.3,177 120,180.9" stroke="#f1c540"/>
<path d="M108.3 177.4h2.2l-1.1 1.8zM113.3 178.8h2.2l-1.1 1.8zM118.3 180.1h2.2l-1.1 1.8z" fill="#f1c540" stroke="none"/>
<polyline points="43.5,177 48.4,182.8 55.3,186.8 63.1,188.7 70,190.2 87.6,193.6 107.3,195.1 120,195.1" stroke="#a673ae"/>
<path d="M43.5 178.0a0.9 0.9 0 1 0 1.8 0a0.9 0.9 0 1 0 -1.8 0zM48.5 183.4a0.9 0.9 0 1 0 1.8 0a0.9 0.9 0 1 0 -1.8 0zM53.5 186.3a0.9 0.9 0 1 0 1.8 0a0.9 0.9 0 1 0 -1.8 0zM58.5 187.8a0.9 0.9 0 1 0 1.8 0a0.9 0.9 0 1 0 -1.8 0zM63.5 189.0a0.9 0.9 0 1 0 1.8 0a0.9 0.9 0 1 0 -1.8 0zM68.5 190.1a0.9 0.9 0 1 0 1.8 0a0.9 0.9 0 1 0 -1.8 0zM73.5 191.0a0.9 0.9 0 1 0 1.8 0a0.9 0.9 0 1 0 -1.8 0zM78.5 192.0a0.9 0.9 0 1 0 1.8 0a0.9 0.9 0 1 0 -1.8 0zM83.5 193.0a0.9 0.9 0 1 0 1.8 0a0.9 0.9 0 1 0 -1.8 0zM88.5 193.7a0.9 0.9 0 1 0 1.8 0a0.9 0.9 0 1 0 -1.8 0zM93.5 194.1a0.9 0.9 0 1 0 1.8 0a0.9 0.9 0 1 0 -1.8 0zM98.5 194.5a0.9 0.9 0 1 0 1.8 0a0.9 0.9 0 1 0 -1.8 0zM103.5 194.9a0.9 0.9 0 1 0 1.8 0a0.9 0.9 0 1 0 -1.8 0zM108.5 195.1a0.9 0.9 0 1 0 1.8 0a0.9 0.9 0 1 0 -1.8 0zM113.5 195.1a0.9 0.9 0 1 0 1.8 0a0.9 0.9 0 1 0 -1.8 0zM118.5 195.1a0.9 0.9 0 1 0 1.8 0a0.9 0.9 0 1 0 -1.8 0z" fill="#a673ae" stroke="none"/>
<polyline points="51.3,177 58.2,183.8 65.1,188.7 70,193.6 77.8,198.5 89.6,208 92.5,208.9 107.3,213.8 120,216.2" stroke="#f5a1ad"/>
<path d="M53.3 180.7h2.2l-1.1 -1.8zM58.3 185.3h2.2l-1.1 -1.8zM63.3 188.8h2.2l-1.1 -1.8zM68.3 193.6h2.2l-1.1 -1.8zM73.3 197.0h2.2l-1.1 -1.8zM78.3 200.4h2.2l-1.1 -1.8zM83.3 204.5h2.2l-1.1 -1.8zM88.3 208.5h2.2l-1.1 -1.8zM93.3 210.2h2.2l-1.1 -1.8zM98.3 211.8h2.2l-1.1 -1.8zM103.3 213.5h2.2l-1.1 -1.8zM108.3 214.9h2.2l-1.1 -1.8zM113.3 215.8h2.2l-1.1 -1.8zM118.3 216.7h2.2l-1.1 -1.8z" fill="#f5a1ad" stroke="none"/>
<polyline points="37.6,177 43.5,184.8 50.3,190.7 60.2,196.6 70,200.5 87.6,207.9 107.3,212.8 120,214.8" stroke="#9f6e57"/>
<path d="M38.5 178.5h1.7v1.7h-1.7zM43.5 184.7h1.7v1.7h-1.7zM48.5 189.0h1.7v1.7h-1.7zM53.5 192.3h1.7v1.7h-1.7zM58.5 195.3h1.7v1.7h-1.7zM63.5 197.4h1.7v1.7h-1.7zM68.5 199.4h1.7v1.7h-1.7zM73.5 201.5h1.7v1.7h-1.7zM78.5 203.6h1.7v1.7h-1.7zM83.5 205.7h1.7v1.7h-1.7zM88.5 207.5h1.7v1.7h-1.7zM93.5 208.7h1.7v1.7h-1.7zM98.5 210.0h1.7v1.7h-1.7zM103.5 211.2h1.7v1.7h-1.7zM108.5 212.3h1.7v1.7h-1.7zM113.5 213.1h1.7v1.7h-1.7zM118.6 213.9h1.7v1.7h-1.7z" fill="#9f6e57" stroke="none"/>
<polyline points="30.7,177 33.2,188.7 34.6,202 37.6,216.7 40.5,226.5 45.4,230.5" stroke="#bbb3ad"/>
<path d="M34.4 198.6l0.9 1.1l-0.9 1.1l-0.9 -1.1zM39.4 221.5l0.9 1.1l-0.9 1.1l-0.9 -1.1zM44.4 228.6l0.9 1.1l-0.9 1.1l-0.9 -1.1z" fill="#bbb3ad" stroke="none"/>
</g>
<rect x="19.35" y="177.1" width="100.05" height="53.35" fill="none" stroke="#b4b4b4" stroke-width="0.6"/>
<text x="19.35" y="236.3" font-size="4.1" text-anchor="middle" fill="#2a2a2a" stroke="#2a2a2a" stroke-width="0.25">0</text>
<text x="39.36" y="236.3" font-size="4.1" text-anchor="middle" fill="#2a2a2a" stroke="#2a2a2a" stroke-width="0.25">1</text>
<text x="59.37" y="236.3" font-size="4.1" text-anchor="middle" fill="#2a2a2a" stroke="#2a2a2a" stroke-width="0.25">2</text>
<text x="79.38" y="236.3" font-size="4.1" text-anchor="middle" fill="#2a2a2a" stroke="#2a2a2a" stroke-width="0.25">3</text>
<text x="99.39" y="236.3" font-size="4.1" text-anchor="middle" fill="#2a2a2a" stroke="#2a2a2a" stroke-width="0.25">4</text>
<text x="119.4" y="236.3" font-size="4.1" text-anchor="middle" fill="#2a2a2a" stroke="#2a2a2a" stroke-width="0.25">5</text>
<text x="110" y="243.25" font-size="4.1" fill="#444" stroke="#444" stroke-width="0.15">×10<tspan font-size="3" dy="-1.8">4</tspan></text>
<text x="69.38" y="242.75" font-size="4.65" text-anchor="middle" fill="#1a1a1a" stroke="#1a1a1a" stroke-width="0.22">FEs</text>
<text x="17.75" y="188.1" font-size="4.1" text-anchor="end" fill="#2a2a2a" stroke="#2a2a2a" stroke-width="0.25">4000</text>
<text x="17.75" y="198.2" font-size="4.1" text-anchor="end" fill="#2a2a2a" stroke="#2a2a2a" stroke-width="0.25">3800</text>
<text x="17.75" y="209.1" font-size="4.1" text-anchor="end" fill="#2a2a2a" stroke="#2a2a2a" stroke-width="0.25">3600</text>
<text x="17.75" y="219.9" font-size="4.1" text-anchor="end" fill="#2a2a2a" stroke="#2a2a2a" stroke-width="0.25">3400</text>
<text transform="translate(7.1,203.77) rotate(-90)" font-size="4.55" text-anchor="middle" fill="#1a1a1a" stroke="#1a1a1a" stroke-width="0.22">Fitness</text>
<text x="69.38" y="175.5" font-size="4.8" text-anchor="middle" fill="#1a1a1a" stroke="#1a1a1a" stroke-width="0.15">CEC2017 F26(50D)</text>
<clipPath id="c9"><rect x="160.4" y="177.2" width="100" height="53.1"/></clipPath>
<line x1="180.4" y1="177.2" x2="180.4" y2="230.3" stroke="#e4e4e4" stroke-width="0.5"/>
<line x1="200.4" y1="177.2" x2="200.4" y2="230.3" stroke="#e4e4e4" stroke-width="0.5"/>
<line x1="220.4" y1="177.2" x2="220.4" y2="230.3" stroke="#e4e4e4" stroke-width="0.5"/>
<line x1="240.4" y1="177.2" x2="240.4" y2="230.3" stroke="#e4e4e4" stroke-width="0.5"/>
<line x1="160.4" y1="183.6" x2="260.4" y2="183.6" stroke="#e4e4e4" stroke-width="0.5"/>
<line x1="160.4" y1="196" x2="260.4" y2="196" stroke="#e4e4e4" stroke-width="0.5"/>
<line x1="160.4" y1="210" x2="260.4" y2="210" stroke="#e4e4e4" stroke-width="0.5"/>
<line x1="160.4" y1="227" x2="260.4" y2="227" stroke="#e4e4e4" stroke-width="0.5"/>
<line x1="160.4" y1="227" x2="260.4" y2="227" stroke="#ececec" stroke-width="0.5"/>
<line x1="160.4" y1="223.22" x2="260.4" y2="223.22" stroke="#ececec" stroke-width="0.5"/>
<line x1="160.4" y1="219.61" x2="260.4" y2="219.61" stroke="#ececec" stroke-width="0.5"/>
<line x1="160.4" y1="216.16" x2="260.4" y2="216.16" stroke="#ececec" stroke-width="0.5"/>
<line x1="160.4" y1="212.86" x2="260.4" y2="212.86" stroke="#ececec" stroke-width="0.5"/>
<line x1="160.4" y1="209.69" x2="260.4" y2="209.69" stroke="#ececec" stroke-width="0.5"/>
<line x1="160.4" y1="206.65" x2="260.4" y2="206.65" stroke="#ececec" stroke-width="0.5"/>
<line x1="160.4" y1="203.72" x2="260.4" y2="203.72" stroke="#ececec" stroke-width="0.5"/>
<line x1="160.4" y1="200.9" x2="260.4" y2="200.9" stroke="#ececec" stroke-width="0.5"/>
<line x1="160.4" y1="198.18" x2="260.4" y2="198.18" stroke="#ececec" stroke-width="0.5"/>
<line x1="160.4" y1="195.55" x2="260.4" y2="195.55" stroke="#ececec" stroke-width="0.5"/>
<line x1="160.4" y1="193.01" x2="260.4" y2="193.01" stroke="#ececec" stroke-width="0.5"/>
<line x1="160.4" y1="190.54" x2="260.4" y2="190.54" stroke="#ececec" stroke-width="0.5"/>
<line x1="160.4" y1="188.16" x2="260.4" y2="188.16" stroke="#ececec" stroke-width="0.5"/>
<line x1="160.4" y1="185.84" x2="260.4" y2="185.84" stroke="#ececec" stroke-width="0.5"/>
<line x1="160.4" y1="183.59" x2="260.4" y2="183.59" stroke="#ececec" stroke-width="0.5"/>
<line x1="160.4" y1="181.41" x2="260.4" y2="181.41" stroke="#ececec" stroke-width="0.5"/>
<line x1="160.4" y1="179.28" x2="260.4" y2="179.28" stroke="#ececec" stroke-width="0.5"/>
<g clip-path="url(#c9)" fill="none" stroke-width="0.85" stroke-linejoin="round" stroke-linecap="round">
<polyline points="171.7,177 175.6,188.7 181.5,193.6 186.4,198.5 191.3,202 196.3,206.4 202.1,208.9 207,212.8 212.9,214.8 217.8,218.7 222.7,221.6 227.6,225.1 237.4,228 247.3,229.5 260,230.5" stroke="#3a6db4"/>
<path d="M174.3 187.4h2.2l-1.1 1.8zM179.3 192.0h2.2l-1.1 1.8zM184.3 196.8h2.2l-1.1 1.8zM189.3 200.7h2.2l-1.1 1.8zM194.3 204.9h2.2l-1.1 1.8zM199.3 207.5h2.2l-1.1 1.8zM204.3 210.9h2.2l-1.1 1.8zM209.3 213.3h2.2l-1.1 1.8zM214.3 216.1h2.2l-1.1 1.8zM219.3 219.6h2.2l-1.1 1.8zM224.3 222.9h2.2l-1.1 1.8zM229.3 225.3h2.2l-1.1 1.8zM234.3 226.7h2.2l-1.1 1.8zM239.3 227.8h2.2l-1.1 1.8zM244.3 228.6h2.2l-1.1 1.8zM249.3 229.1h2.2l-1.1 1.8zM254.3 229.5h2.2l-1.1 1.8z" fill="#3a6db4" stroke="none"/>
<polyline points="173.5,177 175.6,184.8 181.5,193 186.4,198 191.3,200 196.3,205 199.2,208 202,208.8 207,211.5 211,211 227.6,212.8 242.3,214.3 260,214.3" stroke="#f2913a"/>
<path d="M174.5 184.1a0.9 0.9 0 1 0 1.8 0a0.9 0.9 0 1 0 -1.8 0zM179.5 191.5a0.9 0.9 0 1 0 1.8 0a0.9 0.9 0 1 0 -1.8 0zM184.5 197.0a0.9 0.9 0 1 0 1.8 0a0.9 0.9 0 1 0 -1.8 0zM189.5 199.6a0.9 0.9 0 1 0 1.8 0a0.9 0.9 0 1 0 -1.8 0zM194.5 204.1a0.9 0.9 0 1 0 1.8 0a0.9 0.9 0 1 0 -1.8 0zM199.5 208.3a0.9 0.9 0 1 0 1.8 0a0.9 0.9 0 1 0 -1.8 0zM204.5 210.6a0.9 0.9 0 1 0 1.8 0a0.9 0.9 0 1 0 -1.8 0zM209.5 211.1a0.9 0.9 0 1 0 1.8 0a0.9 0.9 0 1 0 -1.8 0zM214.5 211.5a0.9 0.9 0 1 0 1.8 0a0.9 0.9 0 1 0 -1.8 0zM219.5 212.0a0.9 0.9 0 1 0 1.8 0a0.9 0.9 0 1 0 -1.8 0zM224.5 212.6a0.9 0.9 0 1 0 1.8 0a0.9 0.9 0 1 0 -1.8 0zM229.5 213.1a0.9 0.9 0 1 0 1.8 0a0.9 0.9 0 1 0 -1.8 0zM234.5 213.6a0.9 0.9 0 1 0 1.8 0a0.9 0.9 0 1 0 -1.8 0zM239.5 214.1a0.9 0.9 0 1 0 1.8 0a0.9 0.9 0 1 0 -1.8 0zM244.5 214.3a0.9 0.9 0 1 0 1.8 0a0.9 0.9 0 1 0 -1.8 0zM249.5 214.3a0.9 0.9 0 1 0 1.8 0a0.9 0.9 0 1 0 -1.8 0zM254.5 214.3a0.9 0.9 0 1 0 1.8 0a0.9 0.9 0 1 0 -1.8 0z" fill="#f2913a" stroke="none"/>
<polyline points="169.8,177 170.7,182.8 176.6,189.7 182.5,194.6 191.3,198.5 201.2,203.4 211,207.9 212.9,210.8 222.7,219.7 227.6,224.6 237.4,226.5 260,227" stroke="#e1504f"/>
<path d="M169.3 181.5h2.2l-1.1 -1.8zM174.3 189.0h2.2l-1.1 -1.8zM179.3 193.5h2.2l-1.1 -1.8zM184.3 196.5h2.2l-1.1 -1.8zM189.3 198.8h2.2l-1.1 -1.8zM194.3 201.2h2.2l-1.1 -1.8zM199.3 203.7h2.2l-1.1 -1.8zM204.3 206.0h2.2l-1.1 -1.8zM209.3 208.3h2.2l-1.1 -1.8zM214.3 213.7h2.2l-1.1 -1.8zM219.3 218.3h2.2l-1.1 -1.8zM224.3 223.1h2.2l-1.1 -1.8zM229.3 225.8h2.2l-1.1 -1.8zM234.3 226.8h2.2l-1.1 -1.8zM239.3 227.2h2.2l-1.1 -1.8zM244.3 227.3h2.2l-1.1 -1.8zM249.3 227.4h2.2l-1.1 -1.8zM254.3 227.6h2.2l-1.1 -1.8z" fill="#e1504f" stroke="none"/>
<polyline points="174.7,177.9 181.5,183.8 191.3,187.7 201.2,189.7 208,190.2 222.7,192.6 237.4,194.6 260,197.1" stroke="#6cbab2"/>
<path d="M174.6 177.7h1.7v1.7h-1.7zM179.6 182.0h1.7v1.7h-1.7zM184.6 184.5h1.7v1.7h-1.7zM189.6 186.5h1.7v1.7h-1.7zM194.5 187.7h1.7v1.7h-1.7zM199.5 188.7h1.7v1.7h-1.7zM204.5 189.2h1.7v1.7h-1.7zM209.5 189.7h1.7v1.7h-1.7zM214.5 190.6h1.7v1.7h-1.7zM219.5 191.4h1.7v1.7h-1.7zM224.5 192.1h1.7v1.7h-1.7zM229.5 192.8h1.7v1.7h-1.7zM234.5 193.5h1.7v1.7h-1.7zM239.5 194.1h1.7v1.7h-1.7zM244.5 194.6h1.7v1.7h-1.7zM249.5 195.2h1.7v1.7h-1.7zM254.5 195.7h1.7v1.7h-1.7z" fill="#6cbab2" stroke="none"/>
<polyline points="173.7,177 178,181.5 185.9,185.6 195,191.5 205.2,197.1 214,201.3 224.4,204.8 235,207 243.7,208.7 260,210.8" stroke="#4aa348"/>
<path d="M175.4 177.7l0.9 1.1l-0.9 1.1l-0.9 -1.1zM180.4 181.6l0.9 1.1l-0.9 1.1l-0.9 -1.1zM185.4 184.2l0.9 1.1l-0.9 1.1l-0.9 -1.1zM190.4 187.4l0.9 1.1l-0.9 1.1l-0.9 -1.1zM195.4 190.6l0.9 1.1l-0.9 1.1l-0.9 -1.1zM200.4 193.4l0.9 1.1l-0.9 1.1l-0.9 -1.1zM205.4 196.1l0.9 1.1l-0.9 1.1l-0.9 -1.1zM210.4 198.5l0.9 1.1l-0.9 1.1l-0.9 -1.1zM215.4 200.7l0.9 1.1l-0.9 1.1l-0.9 -1.1zM220.4 202.4l0.9 1.1l-0.9 1.1l-0.9 -1.1zM225.4 203.9l0.9 1.1l-0.9 1.1l-0.9 -1.1zM230.4 204.9l0.9 1.1l-0.9 1.1l-0.9 -1.1zM235.4 206.0l0.9 1.1l-0.9 1.1l-0.9 -1.1zM240.4 207.0l0.9 1.1l-0.9 1.1l-0.9 -1.1zM245.4 207.8l0.9 1.1l-0.9 1.1l-0.9 -1.1zM250.4 208.5l0.9 1.1l-0.9 1.1l-0.9 -1.1zM255.4 209.1l0.9 1.1l-0.9 1.1l-0.9 -1.1z" fill="#4aa348" stroke="none"/>
<polyline points="240.4,177 260,180.4" stroke="#f1c540"/>
<path d="M244.3 177.2h2.2l-1.1 1.8zM249.3 178.1h2.2l-1.1 1.8zM254.3 178.9h2.2l-1.1 1.8z" fill="#f1c540" stroke="none"/>
<polyline points="199.2,177 203.1,182.8 208,187.2 217.8,191.7 227.6,198.5 242.3,202.5 260,203.4" stroke="#a673ae"/>
<path d="M199.5 178.8a0.9 0.9 0 1 0 1.8 0a0.9 0.9 0 1 0 -1.8 0zM204.5 184.9a0.9 0.9 0 1 0 1.8 0a0.9 0.9 0 1 0 -1.8 0zM209.5 188.3a0.9 0.9 0 1 0 1.8 0a0.9 0.9 0 1 0 -1.8 0zM214.5 190.6a0.9 0.9 0 1 0 1.8 0a0.9 0.9 0 1 0 -1.8 0zM219.5 193.5a0.9 0.9 0 1 0 1.8 0a0.9 0.9 0 1 0 -1.8 0zM224.5 197.0a0.9 0.9 0 1 0 1.8 0a0.9 0.9 0 1 0 -1.8 0zM229.5 199.3a0.9 0.9 0 1 0 1.8 0a0.9 0.9 0 1 0 -1.8 0zM234.5 200.6a0.9 0.9 0 1 0 1.8 0a0.9 0.9 0 1 0 -1.8 0zM239.5 202.0a0.9 0.9 0 1 0 1.8 0a0.9 0.9 0 1 0 -1.8 0zM244.5 202.7a0.9 0.9 0 1 0 1.8 0a0.9 0.9 0 1 0 -1.8 0zM249.5 202.9a0.9 0.9 0 1 0 1.8 0a0.9 0.9 0 1 0 -1.8 0zM254.5 203.2a0.9 0.9 0 1 0 1.8 0a0.9 0.9 0 1 0 -1.8 0z" fill="#a673ae" stroke="none"/>
<polyline points="178.6,177 186.4,183.8 196.3,189.7 208,195.6 225.7,202 237.4,209.9 247.3,217.7 260,221.6" stroke="#f5a1ad"/>
<path d="M179.3 179.2h2.2l-1.1 -1.8zM184.3 183.6h2.2l-1.1 -1.8zM189.3 186.8h2.2l-1.1 -1.8zM194.3 189.8h2.2l-1.1 -1.8zM199.3 192.4h2.2l-1.1 -1.8zM204.3 194.9h2.2l-1.1 -1.8zM209.3 197.1h2.2l-1.1 -1.8zM214.3 198.9h2.2l-1.1 -1.8zM219.3 200.7h2.2l-1.1 -1.8zM224.3 202.6h2.2l-1.1 -1.8zM229.3 205.8h2.2l-1.1 -1.8zM234.3 209.2h2.2l-1.1 -1.8zM239.3 212.9h2.2l-1.1 -1.8zM244.3 216.9h2.2l-1.1 -1.8zM249.3 219.3h2.2l-1.1 -1.8zM254.3 220.8h2.2l-1.1 -1.8z" fill="#f5a1ad" stroke="none"/>
<polyline points="171.7,177 175,181 185.9,189.4 195,194.5 205.2,199 214,202.8 224.4,206.8 235,211.5 243.7,215.4 252,219.5 260,222.6" stroke="#9f6e57"/>
<path d="M174.6 180.5h1.7v1.7h-1.7zM179.6 184.3h1.7v1.7h-1.7zM184.6 188.2h1.7v1.7h-1.7zM189.6 191.1h1.7v1.7h-1.7zM194.5 193.8h1.7v1.7h-1.7zM199.5 196.0h1.7v1.7h-1.7zM204.5 198.2h1.7v1.7h-1.7zM209.5 200.4h1.7v1.7h-1.7zM214.5 202.5h1.7v1.7h-1.7zM219.5 204.4h1.7v1.7h-1.7zM224.5 206.4h1.7v1.7h-1.7zM229.5 208.6h1.7v1.7h-1.7zM234.5 210.8h1.7v1.7h-1.7zM239.5 213.1h1.7v1.7h-1.7zM244.5 215.4h1.7v1.7h-1.7zM249.5 217.9h1.7v1.7h-1.7zM254.5 220.0h1.7v1.7h-1.7z" fill="#9f6e57" stroke="none"/>
</g>
<rect x="160.4" y="177.2" width="100" height="53.1" fill="none" stroke="#b4b4b4" stroke-width="0.6"/>
<text x="160.4" y="236.15" font-size="4.1" text-anchor="middle" fill="#2a2a2a" stroke="#2a2a2a" stroke-width="0.25">0</text>
<text x="180.4" y="236.15" font-size="4.1" text-anchor="middle" fill="#2a2a2a" stroke="#2a2a2a" stroke-width="0.25">1</text>
<text x="200.4" y="236.15" font-size="4.1" text-anchor="middle" fill="#2a2a2a" stroke="#2a2a2a" stroke-width="0.25">2</text>
<text x="220.4" y="236.15" font-size="4.1" text-anchor="middle" fill="#2a2a2a" stroke="#2a2a2a" stroke-width="0.25">3</text>
<text x="240.4" y="236.15" font-size="4.1" text-anchor="middle" fill="#2a2a2a" stroke="#2a2a2a" stroke-width="0.25">4</text>
<text x="260.4" y="236.15" font-size="4.1" text-anchor="middle" fill="#2a2a2a" stroke="#2a2a2a" stroke-width="0.25">5</text>
<text x="251" y="243.1" font-size="4.1" fill="#444" stroke="#444" stroke-width="0.15">×10<tspan font-size="3" dy="-1.8">4</tspan></text>
<text x="210.4" y="242.6" font-size="4.65" text-anchor="middle" fill="#1a1a1a" stroke="#1a1a1a" stroke-width="0.22">FEs</text>
<text x="158.8" y="185" font-size="4.1" text-anchor="end" fill="#2a2a2a" stroke="#2a2a2a" stroke-width="0.25">7000</text>
<text x="158.8" y="197.4" font-size="4.1" text-anchor="end" fill="#2a2a2a" stroke="#2a2a2a" stroke-width="0.25">6000</text>
<text x="158.8" y="211.4" font-size="4.1" text-anchor="end" fill="#2a2a2a" stroke="#2a2a2a" stroke-width="0.25">5000</text>
<text x="158.8" y="228.4" font-size="4.1" text-anchor="end" fill="#2a2a2a" stroke="#2a2a2a" stroke-width="0.25">4000</text>
<text transform="translate(147.9,203.75) rotate(-90)" font-size="4.55" text-anchor="middle" fill="#1a1a1a" stroke="#1a1a1a" stroke-width="0.22">Fitness</text>
<text x="210.4" y="175.6" font-size="4.8" text-anchor="middle" fill="#1a1a1a" stroke="#1a1a1a" stroke-width="0.15">CEC2017 F28(50D)</text>
<clipPath id="c10"><rect x="301" y="177.2" width="100.7" height="54.1"/></clipPath>
<line x1="321.14" y1="177.2" x2="321.14" y2="231.3" stroke="#e4e4e4" stroke-width="0.5"/>
<line x1="341.28" y1="177.2" x2="341.28" y2="231.3" stroke="#e4e4e4" stroke-width="0.5"/>
<line x1="361.42" y1="177.2" x2="361.42" y2="231.3" stroke="#e4e4e4" stroke-width="0.5"/>
<line x1="381.56" y1="177.2" x2="381.56" y2="231.3" stroke="#e4e4e4" stroke-width="0.5"/>
<line x1="301" y1="179" x2="401.7" y2="179" stroke="#e4e4e4" stroke-width="0.5"/>
<line x1="301" y1="213.9" x2="401.7" y2="213.9" stroke="#e4e4e4" stroke-width="0.5"/>
<line x1="301" y1="226.1" x2="401.7" y2="226.1" stroke="#ececec" stroke-width="0.5"/>
<line x1="301" y1="223.02" x2="401.7" y2="223.02" stroke="#ececec" stroke-width="0.5"/>
<line x1="301" y1="220.84" x2="401.7" y2="220.84" stroke="#ececec" stroke-width="0.5"/>
<line x1="301" y1="219.15" x2="401.7" y2="219.15" stroke="#ececec" stroke-width="0.5"/>
<line x1="301" y1="217.77" x2="401.7" y2="217.77" stroke="#ececec" stroke-width="0.5"/>
<line x1="301" y1="216.6" x2="401.7" y2="216.6" stroke="#ececec" stroke-width="0.5"/>
<line x1="301" y1="215.59" x2="401.7" y2="215.59" stroke="#ececec" stroke-width="0.5"/>
<line x1="301" y1="214.7" x2="401.7" y2="214.7" stroke="#ececec" stroke-width="0.5"/>
<line x1="301" y1="208.65" x2="401.7" y2="208.65" stroke="#ececec" stroke-width="0.5"/>
<line x1="301" y1="205.57" x2="401.7" y2="205.57" stroke="#ececec" stroke-width="0.5"/>
<line x1="301" y1="203.39" x2="401.7" y2="203.39" stroke="#ececec" stroke-width="0.5"/>
<line x1="301" y1="201.7" x2="401.7" y2="201.7" stroke="#ececec" stroke-width="0.5"/>
<line x1="301" y1="200.32" x2="401.7" y2="200.32" stroke="#ececec" stroke-width="0.5"/>
<line x1="301" y1="199.15" x2="401.7" y2="199.15" stroke="#ececec" stroke-width="0.5"/>
<line x1="301" y1="198.14" x2="401.7" y2="198.14" stroke="#ececec" stroke-width="0.5"/>
<line x1="301" y1="197.25" x2="401.7" y2="197.25" stroke="#ececec" stroke-width="0.5"/>
<line x1="301" y1="191.2" x2="401.7" y2="191.2" stroke="#ececec" stroke-width="0.5"/>
<line x1="301" y1="188.12" x2="401.7" y2="188.12" stroke="#ececec" stroke-width="0.5"/>
<line x1="301" y1="185.94" x2="401.7" y2="185.94" stroke="#ececec" stroke-width="0.5"/>
<line x1="301" y1="184.25" x2="401.7" y2="184.25" stroke="#ececec" stroke-width="0.5"/>
<line x1="301" y1="182.87" x2="401.7" y2="182.87" stroke="#ececec" stroke-width="0.5"/>
<line x1="301" y1="181.7" x2="401.7" y2="181.7" stroke="#ececec" stroke-width="0.5"/>
<line x1="301" y1="180.69" x2="401.7" y2="180.69" stroke="#ececec" stroke-width="0.5"/>
<line x1="301" y1="179.8" x2="401.7" y2="179.8" stroke="#ececec" stroke-width="0.5"/>
<g clip-path="url(#c10)" fill="none" stroke-width="0.85" stroke-linejoin="round" stroke-linecap="round">
<polyline points="312.5,176.9 322.1,195.2 330,207.5 337.5,219.3 345.2,224.1 352.9,228 366.4,229.9 380,230.6 401.7,230.9" stroke="#3a6db4"/>
<path d="M315.0 183.1h2.2l-1.1 1.8zM320.0 192.7h2.2l-1.1 1.8zM325.1 200.9h2.2l-1.1 1.8zM330.1 208.7h2.2l-1.1 1.8zM335.1 216.7h2.2l-1.1 1.8zM340.2 221.0h2.2l-1.1 1.8zM345.2 224.0h2.2l-1.1 1.8zM350.2 226.6h2.2l-1.1 1.8zM355.3 227.8h2.2l-1.1 1.8zM360.3 228.5h2.2l-1.1 1.8zM365.4 229.2h2.2l-1.1 1.8zM370.4 229.5h2.2l-1.1 1.8zM375.4 229.8h2.2l-1.1 1.8zM380.5 230.0h2.2l-1.1 1.8zM385.5 230.0h2.2l-1.1 1.8zM390.5 230.1h2.2l-1.1 1.8zM395.6 230.2h2.2l-1.1 1.8zM400.6 230.2h2.2l-1.1 1.8z" fill="#3a6db4" stroke="none"/>
<polyline points="318.6,177 328.4,184.8 343.2,193.6 353,202 359.8,207.9 369.6,215.7 379.4,223.6 389.3,228 402,228.5" stroke="#f2913a"/>
<path d="M320.2 179.0a0.9 0.9 0 1 0 1.8 0a0.9 0.9 0 1 0 -1.8 0zM325.3 183.0a0.9 0.9 0 1 0 1.8 0a0.9 0.9 0 1 0 -1.8 0zM330.3 186.5a0.9 0.9 0 1 0 1.8 0a0.9 0.9 0 1 0 -1.8 0zM335.3 189.5a0.9 0.9 0 1 0 1.8 0a0.9 0.9 0 1 0 -1.8 0zM340.4 192.5a0.9 0.9 0 1 0 1.8 0a0.9 0.9 0 1 0 -1.8 0zM345.4 196.3a0.9 0.9 0 1 0 1.8 0a0.9 0.9 0 1 0 -1.8 0zM350.5 200.6a0.9 0.9 0 1 0 1.8 0a0.9 0.9 0 1 0 -1.8 0zM355.5 204.9a0.9 0.9 0 1 0 1.8 0a0.9 0.9 0 1 0 -1.8 0zM360.5 209.2a0.9 0.9 0 1 0 1.8 0a0.9 0.9 0 1 0 -1.8 0zM365.6 213.2a0.9 0.9 0 1 0 1.8 0a0.9 0.9 0 1 0 -1.8 0zM370.6 217.2a0.9 0.9 0 1 0 1.8 0a0.9 0.9 0 1 0 -1.8 0zM375.6 221.3a0.9 0.9 0 1 0 1.8 0a0.9 0.9 0 1 0 -1.8 0zM380.7 224.6a0.9 0.9 0 1 0 1.8 0a0.9 0.9 0 1 0 -1.8 0zM385.7 226.8a0.9 0.9 0 1 0 1.8 0a0.9 0.9 0 1 0 -1.8 0zM390.7 228.1a0.9 0.9 0 1 0 1.8 0a0.9 0.9 0 1 0 -1.8 0zM395.8 228.3a0.9 0.9 0 1 0 1.8 0a0.9 0.9 0 1 0 -1.8 0zM400.8 228.5a0.9 0.9 0 1 0 1.8 0a0.9 0.9 0 1 0 -1.8 0z" fill="#f2913a" stroke="none"/>
<polyline points="315.7,177.9 328.4,185.8 343.2,192.6 350,197.1 357.9,202 369.6,208.9 379.4,218.7 389.3,223.6 402,226.5" stroke="#e1504f"/>
<path d="M315.0 178.8h2.2l-1.1 -1.8zM320.0 181.9h2.2l-1.1 -1.8zM325.1 185.1h2.2l-1.1 -1.8zM330.1 187.8h2.2l-1.1 -1.8zM335.1 190.1h2.2l-1.1 -1.8zM340.2 192.4h2.2l-1.1 -1.8zM345.2 195.3h2.2l-1.1 -1.8zM350.2 198.6h2.2l-1.1 -1.8zM355.3 201.7h2.2l-1.1 -1.8zM360.3 204.7h2.2l-1.1 -1.8zM365.4 207.7h2.2l-1.1 -1.8zM370.4 211.4h2.2l-1.1 -1.8zM375.4 216.5h2.2l-1.1 -1.8zM380.5 220.4h2.2l-1.1 -1.8zM385.5 222.9h2.2l-1.1 -1.8zM390.5 224.8h2.2l-1.1 -1.8zM395.6 225.9h2.2l-1.1 -1.8zM400.6 227.1h2.2l-1.1 -1.8z" fill="#e1504f" stroke="none"/>
<polyline points="313.7,177 328.4,184.8 343.2,189.7 350,191.7 364.7,194.6 374.5,198 384.3,202 402,208" stroke="#6cbab2"/>
<path d="M315.3 177.4h1.7v1.7h-1.7zM320.3 180.1h1.7v1.7h-1.7zM325.3 182.8h1.7v1.7h-1.7zM330.4 184.9h1.7v1.7h-1.7zM335.4 186.5h1.7v1.7h-1.7zM340.4 188.2h1.7v1.7h-1.7zM345.5 189.8h1.7v1.7h-1.7zM350.5 191.1h1.7v1.7h-1.7zM355.5 192.1h1.7v1.7h-1.7zM360.6 193.1h1.7v1.7h-1.7zM365.6 194.4h1.7v1.7h-1.7zM370.6 196.1h1.7v1.7h-1.7zM375.7 198.0h1.7v1.7h-1.7zM380.7 200.0h1.7v1.7h-1.7zM385.7 201.9h1.7v1.7h-1.7zM390.8 203.6h1.7v1.7h-1.7zM395.8 205.3h1.7v1.7h-1.7zM400.8 207.0h1.7v1.7h-1.7z" fill="#6cbab2" stroke="none"/>
<polyline points="311.8,177 323.5,183.8 338.3,190.7 350,194.1 369.6,199 389.3,203.9 402,207.4" stroke="#4aa348"/>
<path d="M316.1 178.4l0.9 1.1l-0.9 1.1l-0.9 -1.1zM321.1 181.3l0.9 1.1l-0.9 1.1l-0.9 -1.1zM326.2 183.9l0.9 1.1l-0.9 1.1l-0.9 -1.1zM331.2 186.3l0.9 1.1l-0.9 1.1l-0.9 -1.1zM336.2 188.6l0.9 1.1l-0.9 1.1l-0.9 -1.1zM341.3 190.5l0.9 1.1l-0.9 1.1l-0.9 -1.1zM346.3 191.9l0.9 1.1l-0.9 1.1l-0.9 -1.1zM351.4 193.3l0.9 1.1l-0.9 1.1l-0.9 -1.1zM356.4 194.6l0.9 1.1l-0.9 1.1l-0.9 -1.1zM361.4 195.9l0.9 1.1l-0.9 1.1l-0.9 -1.1zM366.5 197.1l0.9 1.1l-0.9 1.1l-0.9 -1.1zM371.5 198.4l0.9 1.1l-0.9 1.1l-0.9 -1.1zM376.5 199.6l0.9 1.1l-0.9 1.1l-0.9 -1.1zM381.6 200.9l0.9 1.1l-0.9 1.1l-0.9 -1.1zM386.6 202.1l0.9 1.1l-0.9 1.1l-0.9 -1.1zM391.6 203.4l0.9 1.1l-0.9 1.1l-0.9 -1.1zM396.7 204.8l0.9 1.1l-0.9 1.1l-0.9 -1.1zM401.7 206.2l0.9 1.1l-0.9 1.1l-0.9 -1.1z" fill="#4aa348" stroke="none"/>
<polyline points="323.5,177.9 338.3,182.8 350,185.3 369.6,187.2 389.3,189.2 402,190.2" stroke="#f1c540"/>
<path d="M325.1 178.1h2.2l-1.1 1.8zM330.1 179.8h2.2l-1.1 1.8zM335.1 181.5h2.2l-1.1 1.8zM340.2 182.8h2.2l-1.1 1.8zM345.2 183.9h2.2l-1.1 1.8zM350.2 184.8h2.2l-1.1 1.8zM355.3 185.3h2.2l-1.1 1.8zM360.3 185.7h2.2l-1.1 1.8zM365.4 186.2h2.2l-1.1 1.8zM370.4 186.7h2.2l-1.1 1.8zM375.4 187.2h2.2l-1.1 1.8zM380.5 187.8h2.2l-1.1 1.8zM385.5 188.3h2.2l-1.1 1.8zM390.5 188.7h2.2l-1.1 1.8zM395.6 189.1h2.2l-1.1 1.8zM400.6 189.5h2.2l-1.1 1.8z" fill="#f1c540" stroke="none"/>
<polyline points="340,176 354.9,177 369.6,179.4 389.3,181.4 402,182.3" stroke="#a673ae"/>
<path d="M350.5 176.8a0.9 0.9 0 1 0 1.8 0a0.9 0.9 0 1 0 -1.8 0zM355.5 177.2a0.9 0.9 0 1 0 1.8 0a0.9 0.9 0 1 0 -1.8 0zM360.5 178.1a0.9 0.9 0 1 0 1.8 0a0.9 0.9 0 1 0 -1.8 0zM365.6 178.9a0.9 0.9 0 1 0 1.8 0a0.9 0.9 0 1 0 -1.8 0zM370.6 179.6a0.9 0.9 0 1 0 1.8 0a0.9 0.9 0 1 0 -1.8 0zM375.6 180.1a0.9 0.9 0 1 0 1.8 0a0.9 0.9 0 1 0 -1.8 0zM380.7 180.6a0.9 0.9 0 1 0 1.8 0a0.9 0.9 0 1 0 -1.8 0zM385.7 181.1a0.9 0.9 0 1 0 1.8 0a0.9 0.9 0 1 0 -1.8 0zM390.7 181.6a0.9 0.9 0 1 0 1.8 0a0.9 0.9 0 1 0 -1.8 0zM395.8 181.9a0.9 0.9 0 1 0 1.8 0a0.9 0.9 0 1 0 -1.8 0zM400.8 182.3a0.9 0.9 0 1 0 1.8 0a0.9 0.9 0 1 0 -1.8 0z" fill="#a673ae" stroke="none"/>
<polyline points="318,176.5 333,181.5 347.2,185.6 366.4,193.3 379.9,201 391.5,208.7 401.7,214.5" stroke="#f5a1ad"/>
<path d="M320.0 178.2h2.2l-1.1 -1.8zM325.1 179.9h2.2l-1.1 -1.8zM330.1 181.6h2.2l-1.1 -1.8zM335.1 183.1h2.2l-1.1 -1.8zM340.2 184.6h2.2l-1.1 -1.8zM345.2 186.0h2.2l-1.1 -1.8zM350.2 187.9h2.2l-1.1 -1.8zM355.3 189.9h2.2l-1.1 -1.8zM360.3 192.0h2.2l-1.1 -1.8zM365.4 194.0h2.2l-1.1 -1.8zM370.4 196.9h2.2l-1.1 -1.8zM375.4 199.7h2.2l-1.1 -1.8zM380.5 202.8h2.2l-1.1 -1.8zM385.5 206.1h2.2l-1.1 -1.8zM390.5 209.4h2.2l-1.1 -1.8zM395.6 212.3h2.2l-1.1 -1.8zM400.6 215.2h2.2l-1.1 -1.8z" fill="#f5a1ad" stroke="none"/>
<polyline points="314.7,177.9 323.5,184.8 338.3,191.7 350,197.6 359.8,207.9 369.6,213.8 379.4,218.7 389.3,223.1 402,225.6" stroke="#9f6e57"/>
<path d="M315.3 178.2h1.7v1.7h-1.7zM320.3 182.1h1.7v1.7h-1.7zM325.3 185.2h1.7v1.7h-1.7zM330.4 187.5h1.7v1.7h-1.7zM335.4 189.9h1.7v1.7h-1.7zM340.4 192.4h1.7v1.7h-1.7zM345.5 194.9h1.7v1.7h-1.7zM350.5 198.2h1.7v1.7h-1.7zM355.5 203.5h1.7v1.7h-1.7zM360.6 208.0h1.7v1.7h-1.7zM365.6 211.1h1.7v1.7h-1.7zM370.6 213.9h1.7v1.7h-1.7zM375.7 216.4h1.7v1.7h-1.7zM380.7 218.8h1.7v1.7h-1.7zM385.7 221.0h1.7v1.7h-1.7zM390.8 222.7h1.7v1.7h-1.7zM395.8 223.7h1.7v1.7h-1.7zM400.8 224.7h1.7v1.7h-1.7z" fill="#9f6e57" stroke="none"/>
</g>
<rect x="301" y="177.2" width="100.7" height="54.1" fill="none" stroke="#b4b4b4" stroke-width="0.6"/>
<text x="301" y="236.75" font-size="4.1" text-anchor="middle" fill="#2a2a2a" stroke="#2a2a2a" stroke-width="0.25">0</text>
<text x="321.14" y="236.75" font-size="4.1" text-anchor="middle" fill="#2a2a2a" stroke="#2a2a2a" stroke-width="0.25">2000</text>
<text x="341.28" y="236.75" font-size="4.1" text-anchor="middle" fill="#2a2a2a" stroke="#2a2a2a" stroke-width="0.25">4000</text>
<text x="361.42" y="236.75" font-size="4.1" text-anchor="middle" fill="#2a2a2a" stroke="#2a2a2a" stroke-width="0.25">6000</text>
<text x="381.56" y="236.75" font-size="4.1" text-anchor="middle" fill="#2a2a2a" stroke="#2a2a2a" stroke-width="0.25">8000</text>
<text x="401.7" y="236.75" font-size="4.1" text-anchor="middle" fill="#2a2a2a" stroke="#2a2a2a" stroke-width="0.25">10000</text>
<text x="351.35" y="243.6" font-size="4.65" text-anchor="middle" fill="#1a1a1a" stroke="#1a1a1a" stroke-width="0.22">FEs</text>
<text x="299.3" y="178.5" font-size="2.8" text-anchor="end" fill="#2a2a2a" stroke="#2a2a2a" stroke-width="0.25">4</text><text x="297.34" y="180.4" font-size="4.1" text-anchor="end" fill="#2a2a2a" stroke="#2a2a2a" stroke-width="0.25">10</text>
<text x="299.3" y="213.4" font-size="2.8" text-anchor="end" fill="#2a2a2a" stroke="#2a2a2a" stroke-width="0.25">2</text><text x="297.34" y="215.3" font-size="4.1" text-anchor="end" fill="#2a2a2a" stroke="#2a2a2a" stroke-width="0.25">10</text>
<text transform="translate(291.3,204.25) rotate(-90)" font-size="4.55" text-anchor="middle" fill="#1a1a1a" stroke="#1a1a1a" stroke-width="0.22">Fitness</text>
<text x="351.35" y="175.6" font-size="4.8" text-anchor="middle" fill="#1a1a1a" stroke="#1a1a1a" stroke-width="0.15">CEC2022 F1(10D)</text>
<clipPath id="c11"><rect x="442.2" y="177.2" width="100.5" height="54.1"/></clipPath>
<line x1="462.3" y1="177.2" x2="462.3" y2="231.3" stroke="#e4e4e4" stroke-width="0.5"/>
<line x1="482.4" y1="177.2" x2="482.4" y2="231.3" stroke="#e4e4e4" stroke-width="0.5"/>
<line x1="502.5" y1="177.2" x2="502.5" y2="231.3" stroke="#e4e4e4" stroke-width="0.5"/>
<line x1="522.6" y1="177.2" x2="522.6" y2="231.3" stroke="#e4e4e4" stroke-width="0.5"/>
<line x1="442.2" y1="177.4" x2="542.7" y2="177.4" stroke="#e4e4e4" stroke-width="0.5"/>
<line x1="442.2" y1="186.3" x2="542.7" y2="186.3" stroke="#e4e4e4" stroke-width="0.5"/>
<line x1="442.2" y1="195" x2="542.7" y2="195" stroke="#e4e4e4" stroke-width="0.5"/>
<line x1="442.2" y1="203.8" x2="542.7" y2="203.8" stroke="#e4e4e4" stroke-width="0.5"/>
<line x1="442.2" y1="212.8" x2="542.7" y2="212.8" stroke="#e4e4e4" stroke-width="0.5"/>
<line x1="442.2" y1="222" x2="542.7" y2="222" stroke="#e4e4e4" stroke-width="0.5"/>
<line x1="442.2" y1="179.18" x2="542.7" y2="179.18" stroke="#ececec" stroke-width="0.5"/>
<line x1="442.2" y1="180.97" x2="542.7" y2="180.97" stroke="#ececec" stroke-width="0.5"/>
<line x1="442.2" y1="182.75" x2="542.7" y2="182.75" stroke="#ececec" stroke-width="0.5"/>
<line x1="442.2" y1="184.54" x2="542.7" y2="184.54" stroke="#ececec" stroke-width="0.5"/>
<line x1="442.2" y1="186.32" x2="542.7" y2="186.32" stroke="#ececec" stroke-width="0.5"/>
<line x1="442.2" y1="188.1" x2="542.7" y2="188.1" stroke="#ececec" stroke-width="0.5"/>
<line x1="442.2" y1="189.89" x2="542.7" y2="189.89" stroke="#ececec" stroke-width="0.5"/>
<line x1="442.2" y1="191.67" x2="542.7" y2="191.67" stroke="#ececec" stroke-width="0.5"/>
<line x1="442.2" y1="193.46" x2="542.7" y2="193.46" stroke="#ececec" stroke-width="0.5"/>
<line x1="442.2" y1="195.24" x2="542.7" y2="195.24" stroke="#ececec" stroke-width="0.5"/>
<line x1="442.2" y1="197.02" x2="542.7" y2="197.02" stroke="#ececec" stroke-width="0.5"/>
<line x1="442.2" y1="198.81" x2="542.7" y2="198.81" stroke="#ececec" stroke-width="0.5"/>
<line x1="442.2" y1="200.59" x2="542.7" y2="200.59" stroke="#ececec" stroke-width="0.5"/>
<line x1="442.2" y1="202.38" x2="542.7" y2="202.38" stroke="#ececec" stroke-width="0.5"/>
<line x1="442.2" y1="204.16" x2="542.7" y2="204.16" stroke="#ececec" stroke-width="0.5"/>
<line x1="442.2" y1="205.94" x2="542.7" y2="205.94" stroke="#ececec" stroke-width="0.5"/>
<line x1="442.2" y1="207.73" x2="542.7" y2="207.73" stroke="#ececec" stroke-width="0.5"/>
<line x1="442.2" y1="209.51" x2="542.7" y2="209.51" stroke="#ececec" stroke-width="0.5"/>
<line x1="442.2" y1="211.3" x2="542.7" y2="211.3" stroke="#ececec" stroke-width="0.5"/>
<line x1="442.2" y1="213.08" x2="542.7" y2="213.08" stroke="#ececec" stroke-width="0.5"/>
<line x1="442.2" y1="214.86" x2="542.7" y2="214.86" stroke="#ececec" stroke-width="0.5"/>
<line x1="442.2" y1="216.65" x2="542.7" y2="216.65" stroke="#ececec" stroke-width="0.5"/>
<line x1="442.2" y1="218.43" x2="542.7" y2="218.43" stroke="#ececec" stroke-width="0.5"/>
<line x1="442.2" y1="220.22" x2="542.7" y2="220.22" stroke="#ececec" stroke-width="0.5"/>
<line x1="442.2" y1="222" x2="542.7" y2="222" stroke="#ececec" stroke-width="0.5"/>
<line x1="442.2" y1="223.78" x2="542.7" y2="223.78" stroke="#ececec" stroke-width="0.5"/>
<line x1="442.2" y1="225.57" x2="542.7" y2="225.57" stroke="#ececec" stroke-width="0.5"/>
<line x1="442.2" y1="227.35" x2="542.7" y2="227.35" stroke="#ececec" stroke-width="0.5"/>
<line x1="442.2" y1="229.14" x2="542.7" y2="229.14" stroke="#ececec" stroke-width="0.5"/>
<line x1="442.2" y1="230.92" x2="542.7" y2="230.92" stroke="#ececec" stroke-width="0.5"/>
<g clip-path="url(#c11)" fill="none" stroke-width="0.85" stroke-linejoin="round" stroke-linecap="round">
<polyline points="451.8,177 453.7,186.8 455.7,193.6 457.7,202.5 462.6,209.9 468.5,218.7 474,223 480,226.3 492.2,228.1 504.3,230 520,230.8 542.7,231.2" stroke="#3a6db4"/>
<path d="M451.1 178.7h2.2l-1.1 1.8zM456.2 199.9h2.2l-1.1 1.8zM461.2 208.8h2.2l-1.1 1.8zM466.2 216.3h2.2l-1.1 1.8zM471.2 221.1h2.2l-1.1 1.8zM476.3 224.2h2.2l-1.1 1.8zM481.3 226.0h2.2l-1.1 1.8zM486.3 226.7h2.2l-1.1 1.8zM491.4 227.5h2.2l-1.1 1.8zM496.4 228.3h2.2l-1.1 1.8zM501.4 229.1h2.2l-1.1 1.8zM506.4 229.5h2.2l-1.1 1.8zM511.5 229.8h2.2l-1.1 1.8zM516.5 230.0h2.2l-1.1 1.8zM521.5 230.2h2.2l-1.1 1.8zM526.5 230.3h2.2l-1.1 1.8zM531.6 230.4h2.2l-1.1 1.8zM536.6 230.5h2.2l-1.1 1.8zM541.6 230.5h2.2l-1.1 1.8z" fill="#3a6db4" stroke="none"/>
<polyline points="452.8,177 454.7,183.8 457.7,195.6 461.6,203.4 468.5,212.8 474.3,214.8 480,220.2 492.2,222.1 504.3,223.3 516.5,223.9 542.7,225.1" stroke="#f2913a"/>
<path d="M456.4 193.9a0.9 0.9 0 1 0 1.8 0a0.9 0.9 0 1 0 -1.8 0zM461.4 204.4a0.9 0.9 0 1 0 1.8 0a0.9 0.9 0 1 0 -1.8 0zM466.4 211.2a0.9 0.9 0 1 0 1.8 0a0.9 0.9 0 1 0 -1.8 0zM471.5 214.1a0.9 0.9 0 1 0 1.8 0a0.9 0.9 0 1 0 -1.8 0zM476.5 217.7a0.9 0.9 0 1 0 1.8 0a0.9 0.9 0 1 0 -1.8 0zM481.5 220.6a0.9 0.9 0 1 0 1.8 0a0.9 0.9 0 1 0 -1.8 0zM486.5 221.4a0.9 0.9 0 1 0 1.8 0a0.9 0.9 0 1 0 -1.8 0zM491.6 222.1a0.9 0.9 0 1 0 1.8 0a0.9 0.9 0 1 0 -1.8 0zM496.6 222.6a0.9 0.9 0 1 0 1.8 0a0.9 0.9 0 1 0 -1.8 0zM501.6 223.1a0.9 0.9 0 1 0 1.8 0a0.9 0.9 0 1 0 -1.8 0zM506.6 223.5a0.9 0.9 0 1 0 1.8 0a0.9 0.9 0 1 0 -1.8 0zM511.7 223.7a0.9 0.9 0 1 0 1.8 0a0.9 0.9 0 1 0 -1.8 0zM516.7 223.9a0.9 0.9 0 1 0 1.8 0a0.9 0.9 0 1 0 -1.8 0zM521.7 224.2a0.9 0.9 0 1 0 1.8 0a0.9 0.9 0 1 0 -1.8 0zM526.7 224.4a0.9 0.9 0 1 0 1.8 0a0.9 0.9 0 1 0 -1.8 0zM531.8 224.6a0.9 0.9 0 1 0 1.8 0a0.9 0.9 0 1 0 -1.8 0zM536.8 224.9a0.9 0.9 0 1 0 1.8 0a0.9 0.9 0 1 0 -1.8 0zM541.8 225.1a0.9 0.9 0 1 0 1.8 0a0.9 0.9 0 1 0 -1.8 0z" fill="#f2913a" stroke="none"/>
<polyline points="451.5,177 452.7,183.8 455.7,193.6 458.6,203 463.6,209.9 468.5,214.8 474,219 480,222.7 492.2,225.1 504.3,226.9 542.7,227.5" stroke="#e1504f"/>
<path d="M451.1 181.9h2.2l-1.1 -1.8zM456.2 199.4h2.2l-1.1 -1.8zM461.2 208.8h2.2l-1.1 -1.8zM466.2 214.3h2.2l-1.1 -1.8zM471.2 218.4h2.2l-1.1 -1.8zM476.3 221.7h2.2l-1.1 -1.8zM481.3 223.8h2.2l-1.1 -1.8zM486.3 224.8h2.2l-1.1 -1.8zM491.4 225.8h2.2l-1.1 -1.8zM496.4 226.5h2.2l-1.1 -1.8zM501.4 227.3h2.2l-1.1 -1.8zM506.4 227.6h2.2l-1.1 -1.8zM511.5 227.7h2.2l-1.1 -1.8zM516.5 227.8h2.2l-1.1 -1.8zM521.5 227.8h2.2l-1.1 -1.8zM526.5 227.9h2.2l-1.1 -1.8zM531.6 228.0h2.2l-1.1 -1.8zM536.6 228.1h2.2l-1.1 -1.8zM541.6 228.2h2.2l-1.1 -1.8z" fill="#e1504f" stroke="none"/>
<polyline points="454.7,177.9 458,185 462.6,191.3 467,195 472,198 480,202.6 490.9,206.8 504.3,211 516.5,214.6 528.6,218.5 542.7,223.9" stroke="#6cbab2"/>
<path d="M456.4 182.6h1.7v1.7h-1.7zM461.4 190.0h1.7v1.7h-1.7zM466.5 194.3h1.7v1.7h-1.7zM471.5 197.4h1.7v1.7h-1.7zM476.5 200.2h1.7v1.7h-1.7zM481.6 202.7h1.7v1.7h-1.7zM486.6 204.6h1.7v1.7h-1.7zM491.6 206.4h1.7v1.7h-1.7zM496.6 208.0h1.7v1.7h-1.7zM501.6 209.6h1.7v1.7h-1.7zM506.7 211.1h1.7v1.7h-1.7zM511.7 212.6h1.7v1.7h-1.7zM516.7 214.1h1.7v1.7h-1.7zM521.8 215.7h1.7v1.7h-1.7zM526.8 217.3h1.7v1.7h-1.7zM531.8 219.2h1.7v1.7h-1.7zM536.8 221.1h1.7v1.7h-1.7zM541.9 223.1h1.7v1.7h-1.7z" fill="#6cbab2" stroke="none"/>
<polyline points="453.7,177 456.7,185.8 460.6,193.6 465.5,200.5 474.3,209.9 480,213.6 492.2,217.2 504.3,219.6 516.5,222.1 528.6,223.9 542.7,225.1" stroke="#4aa348"/>
<path d="M457.3 185.8l0.9 1.1l-0.9 1.1l-0.9 -1.1zM462.3 194.9l0.9 1.1l-0.9 1.1l-0.9 -1.1zM467.3 201.3l0.9 1.1l-0.9 1.1l-0.9 -1.1zM472.4 206.7l0.9 1.1l-0.9 1.1l-0.9 -1.1zM477.4 210.8l0.9 1.1l-0.9 1.1l-0.9 -1.1zM482.4 213.2l0.9 1.1l-0.9 1.1l-0.9 -1.1zM487.4 214.7l0.9 1.1l-0.9 1.1l-0.9 -1.1zM492.5 216.1l0.9 1.1l-0.9 1.1l-0.9 -1.1zM497.5 217.1l0.9 1.1l-0.9 1.1l-0.9 -1.1zM502.5 218.1l0.9 1.1l-0.9 1.1l-0.9 -1.1zM507.5 219.2l0.9 1.1l-0.9 1.1l-0.9 -1.1zM512.6 220.2l0.9 1.1l-0.9 1.1l-0.9 -1.1zM517.6 221.2l0.9 1.1l-0.9 1.1l-0.9 -1.1zM522.6 221.9l0.9 1.1l-0.9 1.1l-0.9 -1.1zM527.6 222.7l0.9 1.1l-0.9 1.1l-0.9 -1.1zM532.7 223.1l0.9 1.1l-0.9 1.1l-0.9 -1.1zM537.7 223.6l0.9 1.1l-0.9 1.1l-0.9 -1.1zM542.7 224.0l0.9 1.1l-0.9 1.1l-0.9 -1.1z" fill="#4aa348" stroke="none"/>
<polyline points="536.1,177 543,177.4" stroke="#f1c540"/>
<path d="M536.6 176.4h2.2l-1.1 1.8zM541.6 176.7h2.2l-1.1 1.8z" fill="#f1c540" stroke="none"/>
<polyline points="465.5,177 470,182 475,187 480,191.5 486,196 492.2,199.6 498,203.5 504.3,207 516.5,211.1 528.6,214.2 542.7,216.6" stroke="#a673ae"/>
<path d="M466.4 179.0a0.9 0.9 0 1 0 1.8 0a0.9 0.9 0 1 0 -1.8 0zM471.5 184.4a0.9 0.9 0 1 0 1.8 0a0.9 0.9 0 1 0 -1.8 0zM476.5 189.1a0.9 0.9 0 1 0 1.8 0a0.9 0.9 0 1 0 -1.8 0zM481.5 193.3a0.9 0.9 0 1 0 1.8 0a0.9 0.9 0 1 0 -1.8 0zM486.5 196.8a0.9 0.9 0 1 0 1.8 0a0.9 0.9 0 1 0 -1.8 0zM491.6 199.8a0.9 0.9 0 1 0 1.8 0a0.9 0.9 0 1 0 -1.8 0zM496.6 203.1a0.9 0.9 0 1 0 1.8 0a0.9 0.9 0 1 0 -1.8 0zM501.6 206.0a0.9 0.9 0 1 0 1.8 0a0.9 0.9 0 1 0 -1.8 0zM506.6 208.1a0.9 0.9 0 1 0 1.8 0a0.9 0.9 0 1 0 -1.8 0zM511.7 209.8a0.9 0.9 0 1 0 1.8 0a0.9 0.9 0 1 0 -1.8 0zM516.7 211.4a0.9 0.9 0 1 0 1.8 0a0.9 0.9 0 1 0 -1.8 0zM521.7 212.7a0.9 0.9 0 1 0 1.8 0a0.9 0.9 0 1 0 -1.8 0zM526.7 214.0a0.9 0.9 0 1 0 1.8 0a0.9 0.9 0 1 0 -1.8 0zM531.8 214.9a0.9 0.9 0 1 0 1.8 0a0.9 0.9 0 1 0 -1.8 0zM536.8 215.7a0.9 0.9 0 1 0 1.8 0a0.9 0.9 0 1 0 -1.8 0zM541.8 216.6a0.9 0.9 0 1 0 1.8 0a0.9 0.9 0 1 0 -1.8 0z" fill="#a673ae" stroke="none"/>
<polyline points="458.6,177 463.6,185.8 469.4,193.6 474,199 480,204 486,207.5 492.2,210.5 504.3,214.8 516.5,217.8 530,221.5 542.7,225.1" stroke="#f5a1ad"/>
<path d="M461.2 184.2h2.2l-1.1 -1.8zM466.2 191.5h2.2l-1.1 -1.8zM471.2 197.7h2.2l-1.1 -1.8zM476.3 202.5h2.2l-1.1 -1.8zM481.3 206.1h2.2l-1.1 -1.8zM486.3 208.8h2.2l-1.1 -1.8zM491.4 211.2h2.2l-1.1 -1.8zM496.4 213.0h2.2l-1.1 -1.8zM501.4 214.8h2.2l-1.1 -1.8zM506.4 216.3h2.2l-1.1 -1.8zM511.5 217.5h2.2l-1.1 -1.8zM516.5 218.8h2.2l-1.1 -1.8zM521.5 220.1h2.2l-1.1 -1.8zM526.5 221.5h2.2l-1.1 -1.8zM531.6 222.9h2.2l-1.1 -1.8zM536.6 224.3h2.2l-1.1 -1.8zM541.6 225.8h2.2l-1.1 -1.8z" fill="#f5a1ad" stroke="none"/>
<polyline points="455.7,177 459.6,188.7 464.5,196.6 469.4,202 474,205.5 480,208.8 492.2,213 504.3,216 516.5,219 528.6,221.5 542.7,224.5" stroke="#9f6e57"/>
<path d="M456.4 180.9h1.7v1.7h-1.7zM461.4 192.2h1.7v1.7h-1.7zM466.5 198.9h1.7v1.7h-1.7zM471.5 203.4h1.7v1.7h-1.7zM476.5 206.5h1.7v1.7h-1.7zM481.6 208.8h1.7v1.7h-1.7zM486.6 210.5h1.7v1.7h-1.7zM491.6 212.2h1.7v1.7h-1.7zM496.6 213.5h1.7v1.7h-1.7zM501.6 214.7h1.7v1.7h-1.7zM506.7 215.9h1.7v1.7h-1.7zM511.7 217.2h1.7v1.7h-1.7zM516.7 218.4h1.7v1.7h-1.7zM521.8 219.4h1.7v1.7h-1.7zM526.8 220.4h1.7v1.7h-1.7zM531.8 221.5h1.7v1.7h-1.7zM536.8 222.6h1.7v1.7h-1.7zM541.9 223.7h1.7v1.7h-1.7z" fill="#9f6e57" stroke="none"/>
<polyline points="476.3,177 483.6,185 492.2,192.3 504.3,202 516.5,208.7 528.6,213 542.7,215.4" stroke="#bbb3ad"/>
<path d="M477.4 177.1l0.9 1.1l-0.9 1.1l-0.9 -1.1zM482.4 182.6l0.9 1.1l-0.9 1.1l-0.9 -1.1zM487.4 187.1l0.9 1.1l-0.9 1.1l-0.9 -1.1zM492.5 191.4l0.9 1.1l-0.9 1.1l-0.9 -1.1zM497.5 195.4l0.9 1.1l-0.9 1.1l-0.9 -1.1zM502.5 199.5l0.9 1.1l-0.9 1.1l-0.9 -1.1zM507.5 202.7l0.9 1.1l-0.9 1.1l-0.9 -1.1zM512.6 205.4l0.9 1.1l-0.9 1.1l-0.9 -1.1zM517.6 208.0l0.9 1.1l-0.9 1.1l-0.9 -1.1zM522.6 209.8l0.9 1.1l-0.9 1.1l-0.9 -1.1zM527.6 211.6l0.9 1.1l-0.9 1.1l-0.9 -1.1zM532.7 212.6l0.9 1.1l-0.9 1.1l-0.9 -1.1zM537.7 213.4l0.9 1.1l-0.9 1.1l-0.9 -1.1zM542.7 214.3l0.9 1.1l-0.9 1.1l-0.9 -1.1z" fill="#bbb3ad" stroke="none"/>
</g>
<rect x="442.2" y="177.2" width="100.5" height="54.1" fill="none" stroke="#b4b4b4" stroke-width="0.6"/>
<text x="442.2" y="236.75" font-size="4.1" text-anchor="middle" fill="#2a2a2a" stroke="#2a2a2a" stroke-width="0.25">0</text>
<text x="462.3" y="236.75" font-size="4.1" text-anchor="middle" fill="#2a2a2a" stroke="#2a2a2a" stroke-width="0.25">2000</text>
<text x="482.4" y="236.75" font-size="4.1" text-anchor="middle" fill="#2a2a2a" stroke="#2a2a2a" stroke-width="0.25">4000</text>
<text x="502.5" y="236.75" font-size="4.1" text-anchor="middle" fill="#2a2a2a" stroke="#2a2a2a" stroke-width="0.25">6000</text>
<text x="522.6" y="236.75" font-size="4.1" text-anchor="middle" fill="#2a2a2a" stroke="#2a2a2a" stroke-width="0.25">8000</text>
<text x="542.7" y="236.75" font-size="4.1" text-anchor="middle" fill="#2a2a2a" stroke="#2a2a2a" stroke-width="0.25">10000</text>
<text x="492.45" y="243.6" font-size="4.65" text-anchor="middle" fill="#1a1a1a" stroke="#1a1a1a" stroke-width="0.22">FEs</text>
<text x="440.6" y="178.8" font-size="4.1" text-anchor="end" fill="#2a2a2a" stroke="#2a2a2a" stroke-width="0.25">630</text>
<text x="440.6" y="187.7" font-size="4.1" text-anchor="end" fill="#2a2a2a" stroke="#2a2a2a" stroke-width="0.25">625</text>
<text x="440.6" y="196.4" font-size="4.1" text-anchor="end" fill="#2a2a2a" stroke="#2a2a2a" stroke-width="0.25">620</text>
<text x="440.6" y="205.2" font-size="4.1" text-anchor="end" fill="#2a2a2a" stroke="#2a2a2a" stroke-width="0.25">615</text>
<text x="440.6" y="214.2" font-size="4.1" text-anchor="end" fill="#2a2a2a" stroke="#2a2a2a" stroke-width="0.25">610</text>
<text x="440.6" y="223.4" font-size="4.1" text-anchor="end" fill="#2a2a2a" stroke="#2a2a2a" stroke-width="0.25">605</text>
<text transform="translate(431.7,204.25) rotate(-90)" font-size="4.55" text-anchor="middle" fill="#1a1a1a" stroke="#1a1a1a" stroke-width="0.22">Fitness</text>
<text x="492.45" y="175.6" font-size="4.8" text-anchor="middle" fill="#1a1a1a" stroke="#1a1a1a" stroke-width="0.15">CEC2022 F3(10D)</text>
<clipPath id="c12"><rect x="19.6" y="261.1" width="100" height="53.4"/></clipPath>
<line x1="44.6" y1="261.1" x2="44.6" y2="314.5" stroke="#e4e4e4" stroke-width="0.5"/>
<line x1="69.6" y1="261.1" x2="69.6" y2="314.5" stroke="#e4e4e4" stroke-width="0.5"/>
<line x1="94.6" y1="261.1" x2="94.6" y2="314.5" stroke="#e4e4e4" stroke-width="0.5"/>
<line x1="19.6" y1="263.4" x2="119.6" y2="263.4" stroke="#e4e4e4" stroke-width="0.5"/>
<line x1="19.6" y1="269.2" x2="119.6" y2="269.2" stroke="#e4e4e4" stroke-width="0.5"/>
<line x1="19.6" y1="276.2" x2="119.6" y2="276.2" stroke="#e4e4e4" stroke-width="0.5"/>
<line x1="19.6" y1="284.7" x2="119.6" y2="284.7" stroke="#e4e4e4" stroke-width="0.5"/>
<line x1="19.6" y1="295.5" x2="119.6" y2="295.5" stroke="#e4e4e4" stroke-width="0.5"/>
<line x1="19.6" y1="310.3" x2="119.6" y2="310.3" stroke="#e4e4e4" stroke-width="0.5"/>
<line x1="19.6" y1="314.19" x2="119.6" y2="314.19" stroke="#ececec" stroke-width="0.5"/>
<line x1="19.6" y1="310.3" x2="119.6" y2="310.3" stroke="#ececec" stroke-width="0.5"/>
<line x1="19.6" y1="306.78" x2="119.6" y2="306.78" stroke="#ececec" stroke-width="0.5"/>
<line x1="19.6" y1="303.57" x2="119.6" y2="303.57" stroke="#ececec" stroke-width="0.5"/>
<line x1="19.6" y1="300.61" x2="119.6" y2="300.61" stroke="#ececec" stroke-width="0.5"/>
<line x1="19.6" y1="297.88" x2="119.6" y2="297.88" stroke="#ececec" stroke-width="0.5"/>
<line x1="19.6" y1="295.33" x2="119.6" y2="295.33" stroke="#ececec" stroke-width="0.5"/>
<line x1="19.6" y1="292.95" x2="119.6" y2="292.95" stroke="#ececec" stroke-width="0.5"/>
<line x1="19.6" y1="290.71" x2="119.6" y2="290.71" stroke="#ececec" stroke-width="0.5"/>
<line x1="19.6" y1="288.6" x2="119.6" y2="288.6" stroke="#ececec" stroke-width="0.5"/>
<line x1="19.6" y1="286.61" x2="119.6" y2="286.61" stroke="#ececec" stroke-width="0.5"/>
<line x1="19.6" y1="284.71" x2="119.6" y2="284.71" stroke="#ececec" stroke-width="0.5"/>
<line x1="19.6" y1="282.91" x2="119.6" y2="282.91" stroke="#ececec" stroke-width="0.5"/>
<line x1="19.6" y1="281.19" x2="119.6" y2="281.19" stroke="#ececec" stroke-width="0.5"/>
<line x1="19.6" y1="279.55" x2="119.6" y2="279.55" stroke="#ececec" stroke-width="0.5"/>
<line x1="19.6" y1="277.98" x2="119.6" y2="277.98" stroke="#ececec" stroke-width="0.5"/>
<line x1="19.6" y1="276.48" x2="119.6" y2="276.48" stroke="#ececec" stroke-width="0.5"/>
<line x1="19.6" y1="275.03" x2="119.6" y2="275.03" stroke="#ececec" stroke-width="0.5"/>
<line x1="19.6" y1="273.63" x2="119.6" y2="273.63" stroke="#ececec" stroke-width="0.5"/>
<line x1="19.6" y1="272.29" x2="119.6" y2="272.29" stroke="#ececec" stroke-width="0.5"/>
<line x1="19.6" y1="271" x2="119.6" y2="271" stroke="#ececec" stroke-width="0.5"/>
<line x1="19.6" y1="269.74" x2="119.6" y2="269.74" stroke="#ececec" stroke-width="0.5"/>
<line x1="19.6" y1="268.53" x2="119.6" y2="268.53" stroke="#ececec" stroke-width="0.5"/>
<line x1="19.6" y1="267.36" x2="119.6" y2="267.36" stroke="#ececec" stroke-width="0.5"/>
<line x1="19.6" y1="266.23" x2="119.6" y2="266.23" stroke="#ececec" stroke-width="0.5"/>
<line x1="19.6" y1="265.12" x2="119.6" y2="265.12" stroke="#ececec" stroke-width="0.5"/>
<line x1="19.6" y1="264.05" x2="119.6" y2="264.05" stroke="#ececec" stroke-width="0.5"/>
<line x1="19.6" y1="263.01" x2="119.6" y2="263.01" stroke="#ececec" stroke-width="0.5"/>
<line x1="19.6" y1="262" x2="119.6" y2="262" stroke="#ececec" stroke-width="0.5"/>
<g clip-path="url(#c12)" fill="none" stroke-width="0.85" stroke-linejoin="round" stroke-linecap="round">
<polyline points="28.8,261 31.7,271.7 34.6,281.6 35.6,286 40.5,295.8 45.4,303.7 55.3,311.5 70,313.8 120,314.6" stroke="#3a6db4"/>
<path d="M28.5 263.3h2.2l-1.1 1.8zM33.5 280.9h2.2l-1.1 1.8zM38.5 293.3h2.2l-1.1 1.8zM43.5 301.8h2.2l-1.1 1.8zM48.5 306.3h2.2l-1.1 1.8zM53.5 310.3h2.2l-1.1 1.8zM58.5 311.5h2.2l-1.1 1.8zM63.5 312.3h2.2l-1.1 1.8zM68.5 313.1h2.2l-1.1 1.8zM73.5 313.2h2.2l-1.1 1.8zM78.5 313.3h2.2l-1.1 1.8zM83.5 313.4h2.2l-1.1 1.8zM88.5 313.5h2.2l-1.1 1.8zM93.5 313.5h2.2l-1.1 1.8zM98.5 313.6h2.2l-1.1 1.8zM103.5 313.7h2.2l-1.1 1.8zM108.5 313.8h2.2l-1.1 1.8zM113.5 313.9h2.2l-1.1 1.8zM118.5 313.9h2.2l-1.1 1.8z" fill="#3a6db4" stroke="none"/>
<polyline points="33.7,261 35.6,266.8 40.5,274.7 45.4,282.5 48.4,286 55.3,293.9 65.1,299.8 70,301.2 87.6,304.6 107.3,306.6 120,307.1" stroke="#f2913a"/>
<path d="M33.7 263.7a0.9 0.9 0 1 0 1.8 0a0.9 0.9 0 1 0 -1.8 0zM38.7 273.2a0.9 0.9 0 1 0 1.8 0a0.9 0.9 0 1 0 -1.8 0zM43.7 281.2a0.9 0.9 0 1 0 1.8 0a0.9 0.9 0 1 0 -1.8 0zM48.7 287.4a0.9 0.9 0 1 0 1.8 0a0.9 0.9 0 1 0 -1.8 0zM53.7 293.1a0.9 0.9 0 1 0 1.8 0a0.9 0.9 0 1 0 -1.8 0zM58.7 296.5a0.9 0.9 0 1 0 1.8 0a0.9 0.9 0 1 0 -1.8 0zM63.7 299.5a0.9 0.9 0 1 0 1.8 0a0.9 0.9 0 1 0 -1.8 0zM68.7 301.1a0.9 0.9 0 1 0 1.8 0a0.9 0.9 0 1 0 -1.8 0zM73.7 302.1a0.9 0.9 0 1 0 1.8 0a0.9 0.9 0 1 0 -1.8 0zM78.7 303.1a0.9 0.9 0 1 0 1.8 0a0.9 0.9 0 1 0 -1.8 0zM83.7 304.0a0.9 0.9 0 1 0 1.8 0a0.9 0.9 0 1 0 -1.8 0zM88.7 304.8a0.9 0.9 0 1 0 1.8 0a0.9 0.9 0 1 0 -1.8 0zM93.7 305.3a0.9 0.9 0 1 0 1.8 0a0.9 0.9 0 1 0 -1.8 0zM98.7 305.8a0.9 0.9 0 1 0 1.8 0a0.9 0.9 0 1 0 -1.8 0zM103.7 306.3a0.9 0.9 0 1 0 1.8 0a0.9 0.9 0 1 0 -1.8 0zM108.7 306.7a0.9 0.9 0 1 0 1.8 0a0.9 0.9 0 1 0 -1.8 0zM113.7 306.9a0.9 0.9 0 1 0 1.8 0a0.9 0.9 0 1 0 -1.8 0zM118.7 307.1a0.9 0.9 0 1 0 1.8 0a0.9 0.9 0 1 0 -1.8 0z" fill="#f2913a" stroke="none"/>
<polyline points="25.3,261 27.8,270.8 30.7,280.6 32.7,286 37.6,298.8 45.4,305.6 55.3,310.5 70,313.5 120,314.5" stroke="#e1504f"/>
<path d="M28.5 277.5h2.2l-1.1 -1.8zM33.5 291.6h2.2l-1.1 -1.8zM38.5 301.2h2.2l-1.1 -1.8zM43.5 305.6h2.2l-1.1 -1.8zM48.5 308.3h2.2l-1.1 -1.8zM53.5 310.8h2.2l-1.1 -1.8zM58.5 312.0h2.2l-1.1 -1.8zM63.5 313.1h2.2l-1.1 -1.8zM68.5 314.1h2.2l-1.1 -1.8zM73.5 314.3h2.2l-1.1 -1.8zM78.5 314.4h2.2l-1.1 -1.8zM83.5 314.5h2.2l-1.1 -1.8zM88.5 314.6h2.2l-1.1 -1.8zM93.5 314.7h2.2l-1.1 -1.8zM98.5 314.8h2.2l-1.1 -1.8zM103.5 314.9h2.2l-1.1 -1.8zM108.5 315.0h2.2l-1.1 -1.8zM113.5 315.1h2.2l-1.1 -1.8zM118.5 315.2h2.2l-1.1 -1.8z" fill="#e1504f" stroke="none"/>
<polyline points="29.7,263.9 35.6,280.6 42.5,286 55.3,295.8 70,299.2 87.6,304.2 107.3,307.1 120,309.6" stroke="#6cbab2"/>
<path d="M33.8 276.9h1.7v1.7h-1.7zM38.8 282.9h1.7v1.7h-1.7zM43.8 286.8h1.7v1.7h-1.7zM48.8 290.6h1.7v1.7h-1.7zM53.8 294.4h1.7v1.7h-1.7zM58.8 295.9h1.7v1.7h-1.7zM63.7 297.1h1.7v1.7h-1.7zM68.8 298.3h1.7v1.7h-1.7zM73.8 299.7h1.7v1.7h-1.7zM78.8 301.1h1.7v1.7h-1.7zM83.8 302.5h1.7v1.7h-1.7zM88.8 303.6h1.7v1.7h-1.7zM93.8 304.4h1.7v1.7h-1.7zM98.8 305.1h1.7v1.7h-1.7zM103.8 305.9h1.7v1.7h-1.7zM108.8 306.7h1.7v1.7h-1.7zM113.8 307.7h1.7v1.7h-1.7zM118.8 308.7h1.7v1.7h-1.7z" fill="#6cbab2" stroke="none"/>
<polyline points="27.8,261 30.7,267.8 40.5,275.7 50.3,280.6 60.2,283.5 70,286 87.6,288.9 107.3,291.4 120,293.4" stroke="#4aa348"/>
<path d="M29.6 264.1l0.9 1.1l-0.9 1.1l-0.9 -1.1zM34.6 269.8l0.9 1.1l-0.9 1.1l-0.9 -1.1zM39.6 273.9l0.9 1.1l-0.9 1.1l-0.9 -1.1zM44.6 276.6l0.9 1.1l-0.9 1.1l-0.9 -1.1zM49.6 279.1l0.9 1.1l-0.9 1.1l-0.9 -1.1zM54.6 280.8l0.9 1.1l-0.9 1.1l-0.9 -1.1zM59.6 282.2l0.9 1.1l-0.9 1.1l-0.9 -1.1zM64.6 283.5l0.9 1.1l-0.9 1.1l-0.9 -1.1zM69.6 284.8l0.9 1.1l-0.9 1.1l-0.9 -1.1zM74.6 285.7l0.9 1.1l-0.9 1.1l-0.9 -1.1zM79.6 286.5l0.9 1.1l-0.9 1.1l-0.9 -1.1zM84.6 287.3l0.9 1.1l-0.9 1.1l-0.9 -1.1zM89.6 288.1l0.9 1.1l-0.9 1.1l-0.9 -1.1zM94.6 288.7l0.9 1.1l-0.9 1.1l-0.9 -1.1zM99.6 289.3l0.9 1.1l-0.9 1.1l-0.9 -1.1zM104.6 290.0l0.9 1.1l-0.9 1.1l-0.9 -1.1zM109.6 290.7l0.9 1.1l-0.9 1.1l-0.9 -1.1zM114.6 291.4l0.9 1.1l-0.9 1.1l-0.9 -1.1zM119.6 292.2l0.9 1.1l-0.9 1.1l-0.9 -1.1z" fill="#4aa348" stroke="none"/>
<polyline points="38.6,261.9 55.3,267.8 68,270.8 87.6,274.2 107.3,277.1 120,279.1" stroke="#f1c540"/>
<path d="M38.5 261.6h2.2l-1.1 1.8zM43.5 263.4h2.2l-1.1 1.8zM48.5 265.1h2.2l-1.1 1.8zM53.5 266.9h2.2l-1.1 1.8zM58.5 268.2h2.2l-1.1 1.8zM63.5 269.3h2.2l-1.1 1.8zM68.5 270.4h2.2l-1.1 1.8zM73.5 271.3h2.2l-1.1 1.8zM78.5 272.2h2.2l-1.1 1.8zM83.5 273.0h2.2l-1.1 1.8zM88.5 273.8h2.2l-1.1 1.8zM93.5 274.6h2.2l-1.1 1.8zM98.5 275.3h2.2l-1.1 1.8zM103.5 276.0h2.2l-1.1 1.8zM108.5 276.8h2.2l-1.1 1.8zM113.5 277.6h2.2l-1.1 1.8zM118.5 278.4h2.2l-1.1 1.8z" fill="#f1c540" stroke="none"/>
<polyline points="37.6,261 45.4,263.9 55.3,268.8 68,275.2 82.7,283.5 92.5,286 107.3,288.9 120,290.4" stroke="#a673ae"/>
<path d="M38.7 261.7a0.9 0.9 0 1 0 1.8 0a0.9 0.9 0 1 0 -1.8 0zM43.7 263.6a0.9 0.9 0 1 0 1.8 0a0.9 0.9 0 1 0 -1.8 0zM48.7 266.0a0.9 0.9 0 1 0 1.8 0a0.9 0.9 0 1 0 -1.8 0zM53.7 268.5a0.9 0.9 0 1 0 1.8 0a0.9 0.9 0 1 0 -1.8 0zM58.7 271.0a0.9 0.9 0 1 0 1.8 0a0.9 0.9 0 1 0 -1.8 0zM63.7 273.5a0.9 0.9 0 1 0 1.8 0a0.9 0.9 0 1 0 -1.8 0zM68.7 276.1a0.9 0.9 0 1 0 1.8 0a0.9 0.9 0 1 0 -1.8 0zM73.7 278.9a0.9 0.9 0 1 0 1.8 0a0.9 0.9 0 1 0 -1.8 0zM78.7 281.7a0.9 0.9 0 1 0 1.8 0a0.9 0.9 0 1 0 -1.8 0zM83.7 284.0a0.9 0.9 0 1 0 1.8 0a0.9 0.9 0 1 0 -1.8 0zM88.7 285.3a0.9 0.9 0 1 0 1.8 0a0.9 0.9 0 1 0 -1.8 0zM93.7 286.4a0.9 0.9 0 1 0 1.8 0a0.9 0.9 0 1 0 -1.8 0zM98.7 287.4a0.9 0.9 0 1 0 1.8 0a0.9 0.9 0 1 0 -1.8 0zM103.7 288.4a0.9 0.9 0 1 0 1.8 0a0.9 0.9 0 1 0 -1.8 0zM108.7 289.2a0.9 0.9 0 1 0 1.8 0a0.9 0.9 0 1 0 -1.8 0zM113.7 289.8a0.9 0.9 0 1 0 1.8 0a0.9 0.9 0 1 0 -1.8 0zM118.7 290.4a0.9 0.9 0 1 0 1.8 0a0.9 0.9 0 1 0 -1.8 0z" fill="#a673ae" stroke="none"/>
<polyline points="29.7,270.8 35.6,276.6 43.5,286 50.3,291.9 60.2,298.8 70,304.6 77.8,308.5 87.6,311.8 120,313.5" stroke="#f5a1ad"/>
<path d="M33.5 276.3h2.2l-1.1 -1.8zM38.5 282.0h2.2l-1.1 -1.8zM43.5 287.6h2.2l-1.1 -1.8zM48.5 292.0h2.2l-1.1 -1.8zM53.5 295.6h2.2l-1.1 -1.8zM58.5 299.0h2.2l-1.1 -1.8zM63.5 302.1h2.2l-1.1 -1.8zM68.5 305.0h2.2l-1.1 -1.8zM73.5 307.6h2.2l-1.1 -1.8zM78.5 309.8h2.2l-1.1 -1.8zM83.5 311.4h2.2l-1.1 -1.8zM88.5 312.6h2.2l-1.1 -1.8zM93.5 312.8h2.2l-1.1 -1.8zM98.5 313.1h2.2l-1.1 -1.8zM103.5 313.4h2.2l-1.1 -1.8zM108.5 313.6h2.2l-1.1 -1.8zM113.5 313.9h2.2l-1.1 -1.8zM118.5 314.1h2.2l-1.1 -1.8z" fill="#f5a1ad" stroke="none"/>
<polyline points="27,261 30,273 34,284 36.6,286.5 40.5,294.8 50.3,301.7 60.2,305.1 70,307.1 87.6,310 107.3,311.5 120,312.5" stroke="#9f6e57"/>
<path d="M28.8 270.5h1.7v1.7h-1.7zM33.8 283.7h1.7v1.7h-1.7zM38.8 292.0h1.7v1.7h-1.7zM43.8 296.8h1.7v1.7h-1.7zM48.8 300.4h1.7v1.7h-1.7zM53.8 302.3h1.7v1.7h-1.7zM58.8 304.0h1.7v1.7h-1.7zM63.7 305.1h1.7v1.7h-1.7zM68.8 306.2h1.7v1.7h-1.7zM73.8 307.0h1.7v1.7h-1.7zM78.8 307.8h1.7v1.7h-1.7zM83.8 308.7h1.7v1.7h-1.7zM88.8 309.3h1.7v1.7h-1.7zM93.8 309.7h1.7v1.7h-1.7zM98.8 310.1h1.7v1.7h-1.7zM103.8 310.4h1.7v1.7h-1.7zM108.8 310.8h1.7v1.7h-1.7zM113.8 311.2h1.7v1.7h-1.7zM118.8 311.6h1.7v1.7h-1.7z" fill="#9f6e57" stroke="none"/>
<polyline points="79.8,261 87.6,265.9 102.3,271.7 120,276.6" stroke="#bbb3ad"/>
<path d="M84.6 262.9l0.9 1.1l-0.9 1.1l-0.9 -1.1zM89.6 265.6l0.9 1.1l-0.9 1.1l-0.9 -1.1zM94.6 267.6l0.9 1.1l-0.9 1.1l-0.9 -1.1zM99.6 269.5l0.9 1.1l-0.9 1.1l-0.9 -1.1zM104.6 271.2l0.9 1.1l-0.9 1.1l-0.9 -1.1zM109.6 272.6l0.9 1.1l-0.9 1.1l-0.9 -1.1zM114.6 274.0l0.9 1.1l-0.9 1.1l-0.9 -1.1zM119.6 275.4l0.9 1.1l-0.9 1.1l-0.9 -1.1z" fill="#bbb3ad" stroke="none"/>
</g>
<rect x="19.6" y="261.1" width="100" height="53.4" fill="none" stroke="#b4b4b4" stroke-width="0.6"/>
<text x="19.6" y="320.35" font-size="4.1" text-anchor="middle" fill="#2a2a2a" stroke="#2a2a2a" stroke-width="0.25">0</text>
<text x="44.6" y="320.35" font-size="4.1" text-anchor="middle" fill="#2a2a2a" stroke="#2a2a2a" stroke-width="0.25">0.5</text>
<text x="69.6" y="320.35" font-size="4.1" text-anchor="middle" fill="#2a2a2a" stroke="#2a2a2a" stroke-width="0.25">1</text>
<text x="94.6" y="320.35" font-size="4.1" text-anchor="middle" fill="#2a2a2a" stroke="#2a2a2a" stroke-width="0.25">1.5</text>
<text x="119.6" y="320.35" font-size="4.1" text-anchor="middle" fill="#2a2a2a" stroke="#2a2a2a" stroke-width="0.25">2</text>
<text x="110.2" y="327.3" font-size="4.1" fill="#444" stroke="#444" stroke-width="0.15">×10<tspan font-size="3" dy="-1.8">4</tspan></text>
<text x="69.6" y="326.8" font-size="4.65" text-anchor="middle" fill="#1a1a1a" stroke="#1a1a1a" stroke-width="0.22">FEs</text>
<text x="18" y="264.8" font-size="4.1" text-anchor="end" fill="#2a2a2a" stroke="#2a2a2a" stroke-width="0.25">3500</text>
<text x="18" y="270.6" font-size="4.1" text-anchor="end" fill="#2a2a2a" stroke="#2a2a2a" stroke-width="0.25">3000</text>
<text x="18" y="277.6" font-size="4.1" text-anchor="end" fill="#2a2a2a" stroke="#2a2a2a" stroke-width="0.25">2500</text>
<text x="18" y="286.1" font-size="4.1" text-anchor="end" fill="#2a2a2a" stroke="#2a2a2a" stroke-width="0.25">2000</text>
<text x="18" y="296.9" font-size="4.1" text-anchor="end" fill="#2a2a2a" stroke="#2a2a2a" stroke-width="0.25">1500</text>
<text x="18" y="311.7" font-size="4.1" text-anchor="end" fill="#2a2a2a" stroke="#2a2a2a" stroke-width="0.25">1000</text>
<text transform="translate(7.1,287.8) rotate(-90)" font-size="4.55" text-anchor="middle" fill="#1a1a1a" stroke="#1a1a1a" stroke-width="0.22">Fitness</text>
<text x="69.6" y="259.5" font-size="4.8" text-anchor="middle" fill="#1a1a1a" stroke="#1a1a1a" stroke-width="0.15">CEC2022 F5(20D)</text>
<clipPath id="c13"><rect x="160.5" y="261.4" width="99.9" height="52.9"/></clipPath>
<line x1="185.47" y1="261.4" x2="185.47" y2="314.3" stroke="#e4e4e4" stroke-width="0.5"/>
<line x1="210.45" y1="261.4" x2="210.45" y2="314.3" stroke="#e4e4e4" stroke-width="0.5"/>
<line x1="235.42" y1="261.4" x2="235.42" y2="314.3" stroke="#e4e4e4" stroke-width="0.5"/>
<line x1="160.5" y1="265.3" x2="260.4" y2="265.3" stroke="#e4e4e4" stroke-width="0.5"/>
<line x1="160.5" y1="280" x2="260.4" y2="280" stroke="#e4e4e4" stroke-width="0.5"/>
<line x1="160.5" y1="296.3" x2="260.4" y2="296.3" stroke="#e4e4e4" stroke-width="0.5"/>
<line x1="160.5" y1="311" x2="260.4" y2="311" stroke="#e4e4e4" stroke-width="0.5"/>
<line x1="160.5" y1="262.25" x2="260.4" y2="262.25" stroke="#ececec" stroke-width="0.5"/>
<line x1="160.5" y1="265.3" x2="260.4" y2="265.3" stroke="#ececec" stroke-width="0.5"/>
<line x1="160.5" y1="268.35" x2="260.4" y2="268.35" stroke="#ececec" stroke-width="0.5"/>
<line x1="160.5" y1="271.39" x2="260.4" y2="271.39" stroke="#ececec" stroke-width="0.5"/>
<line x1="160.5" y1="274.44" x2="260.4" y2="274.44" stroke="#ececec" stroke-width="0.5"/>
<line x1="160.5" y1="277.48" x2="260.4" y2="277.48" stroke="#ececec" stroke-width="0.5"/>
<line x1="160.5" y1="280.53" x2="260.4" y2="280.53" stroke="#ececec" stroke-width="0.5"/>
<line x1="160.5" y1="283.58" x2="260.4" y2="283.58" stroke="#ececec" stroke-width="0.5"/>
<line x1="160.5" y1="286.62" x2="260.4" y2="286.62" stroke="#ececec" stroke-width="0.5"/>
<line x1="160.5" y1="289.67" x2="260.4" y2="289.67" stroke="#ececec" stroke-width="0.5"/>
<line x1="160.5" y1="292.71" x2="260.4" y2="292.71" stroke="#ececec" stroke-width="0.5"/>
<line x1="160.5" y1="295.76" x2="260.4" y2="295.76" stroke="#ececec" stroke-width="0.5"/>
<line x1="160.5" y1="298.81" x2="260.4" y2="298.81" stroke="#ececec" stroke-width="0.5"/>
<line x1="160.5" y1="301.85" x2="260.4" y2="301.85" stroke="#ececec" stroke-width="0.5"/>
<line x1="160.5" y1="304.9" x2="260.4" y2="304.9" stroke="#ececec" stroke-width="0.5"/>
<line x1="160.5" y1="307.94" x2="260.4" y2="307.94" stroke="#ececec" stroke-width="0.5"/>
<line x1="160.5" y1="310.99" x2="260.4" y2="310.99" stroke="#ececec" stroke-width="0.5"/>
<g clip-path="url(#c13)" fill="none" stroke-width="0.85" stroke-linejoin="round" stroke-linecap="round">
<polyline points="170.7,261 173.7,268.8 176.6,275.7 181.5,280.6 186.4,286 192.3,289.9 196.3,294.8 206.1,298.3 212.9,299.7 217.8,302.7 227.6,306.6 237.4,310.5 247.3,313 260,314.5" stroke="#3a6db4"/>
<path d="M174.4 272.4h2.2l-1.1 1.8zM179.4 278.9h2.2l-1.1 1.8zM184.4 284.3h2.2l-1.1 1.8zM189.4 288.0h2.2l-1.1 1.8zM194.4 293.1h2.2l-1.1 1.8zM199.4 295.6h2.2l-1.1 1.8zM204.4 297.4h2.2l-1.1 1.8zM209.3 298.5h2.2l-1.1 1.8zM214.3 300.6h2.2l-1.1 1.8zM219.3 303.1h2.2l-1.1 1.8zM224.3 305.1h2.2l-1.1 1.8zM229.3 307.1h2.2l-1.1 1.8zM234.3 309.1h2.2l-1.1 1.8zM239.3 310.6h2.2l-1.1 1.8zM244.3 311.9h2.2l-1.1 1.8zM249.3 312.7h2.2l-1.1 1.8zM254.3 313.3h2.2l-1.1 1.8z" fill="#3a6db4" stroke="none"/>
<polyline points="169.8,261 172.7,269.8 176.6,279.6 181.5,286 186.4,289.9 196.3,295.8 206.1,299.2 211,300.2 217.8,302.2 232.5,304.2 247.3,305.1 260,306.6" stroke="#f2913a"/>
<path d="M169.6 263.1a0.9 0.9 0 1 0 1.8 0a0.9 0.9 0 1 0 -1.8 0zM174.6 276.8a0.9 0.9 0 1 0 1.8 0a0.9 0.9 0 1 0 -1.8 0zM179.6 284.7a0.9 0.9 0 1 0 1.8 0a0.9 0.9 0 1 0 -1.8 0zM184.6 289.2a0.9 0.9 0 1 0 1.8 0a0.9 0.9 0 1 0 -1.8 0zM189.6 292.3a0.9 0.9 0 1 0 1.8 0a0.9 0.9 0 1 0 -1.8 0zM194.6 295.3a0.9 0.9 0 1 0 1.8 0a0.9 0.9 0 1 0 -1.8 0zM199.6 297.2a0.9 0.9 0 1 0 1.8 0a0.9 0.9 0 1 0 -1.8 0zM204.6 299.0a0.9 0.9 0 1 0 1.8 0a0.9 0.9 0 1 0 -1.8 0zM209.5 300.1a0.9 0.9 0 1 0 1.8 0a0.9 0.9 0 1 0 -1.8 0zM214.5 301.5a0.9 0.9 0 1 0 1.8 0a0.9 0.9 0 1 0 -1.8 0zM219.5 302.6a0.9 0.9 0 1 0 1.8 0a0.9 0.9 0 1 0 -1.8 0zM224.5 303.2a0.9 0.9 0 1 0 1.8 0a0.9 0.9 0 1 0 -1.8 0zM229.5 303.9a0.9 0.9 0 1 0 1.8 0a0.9 0.9 0 1 0 -1.8 0zM234.5 304.4a0.9 0.9 0 1 0 1.8 0a0.9 0.9 0 1 0 -1.8 0zM239.5 304.7a0.9 0.9 0 1 0 1.8 0a0.9 0.9 0 1 0 -1.8 0zM244.5 305.0a0.9 0.9 0 1 0 1.8 0a0.9 0.9 0 1 0 -1.8 0zM249.5 305.5a0.9 0.9 0 1 0 1.8 0a0.9 0.9 0 1 0 -1.8 0zM254.5 306.1a0.9 0.9 0 1 0 1.8 0a0.9 0.9 0 1 0 -1.8 0z" fill="#f2913a" stroke="none"/>
<polyline points="170.7,261.9 174.7,270.8 181.5,278.6 191.3,286 201.2,290.9 208,293.9 222.7,301.7 232.5,308.6 242.3,312 260,313.5" stroke="#e1504f"/>
<path d="M174.4 272.4h2.2l-1.1 -1.8zM179.4 278.1h2.2l-1.1 -1.8zM184.4 282.3h2.2l-1.1 -1.8zM189.4 286.0h2.2l-1.1 -1.8zM194.4 288.7h2.2l-1.1 -1.8zM199.4 291.2h2.2l-1.1 -1.8zM204.4 293.4h2.2l-1.1 -1.8zM209.3 295.9h2.2l-1.1 -1.8zM214.3 298.5h2.2l-1.1 -1.8zM219.3 301.2h2.2l-1.1 -1.8zM224.3 304.3h2.2l-1.1 -1.8zM229.3 307.8h2.2l-1.1 -1.8zM234.3 310.3h2.2l-1.1 -1.8zM239.3 312.0h2.2l-1.1 -1.8zM244.3 312.9h2.2l-1.1 -1.8zM249.3 313.3h2.2l-1.1 -1.8zM254.3 313.8h2.2l-1.1 -1.8z" fill="#e1504f" stroke="none"/>
<polyline points="171.7,261.9 176.6,267.8 181.5,270.6 186.4,272.7 196.3,276.2 211,280.1 227.6,286.5 247.3,290.9 260.4,295.8" stroke="#6cbab2"/>
<path d="M174.6 265.6h1.7v1.7h-1.7zM179.6 269.2h1.7v1.7h-1.7zM184.6 271.5h1.7v1.7h-1.7zM189.6 273.3h1.7v1.7h-1.7zM194.6 275.1h1.7v1.7h-1.7zM199.6 276.5h1.7v1.7h-1.7zM204.6 277.8h1.7v1.7h-1.7zM209.6 279.1h1.7v1.7h-1.7zM214.6 281.0h1.7v1.7h-1.7zM219.6 282.9h1.7v1.7h-1.7zM224.6 284.8h1.7v1.7h-1.7zM229.6 286.3h1.7v1.7h-1.7zM234.6 287.4h1.7v1.7h-1.7zM239.6 288.5h1.7v1.7h-1.7zM244.6 289.6h1.7v1.7h-1.7zM249.6 291.2h1.7v1.7h-1.7zM254.6 293.1h1.7v1.7h-1.7zM259.5 294.9h1.7v1.7h-1.7z" fill="#6cbab2" stroke="none"/>
<polyline points="169.8,261.9 173.7,268.8 181.5,275.7 191.3,281.6 211,289.4 227.6,293.9 247.3,295.8 260,297.8" stroke="#4aa348"/>
<path d="M170.5 262.0l0.9 1.1l-0.9 1.1l-0.9 -1.1zM175.5 269.3l0.9 1.1l-0.9 1.1l-0.9 -1.1zM180.5 273.7l0.9 1.1l-0.9 1.1l-0.9 -1.1zM185.5 277.0l0.9 1.1l-0.9 1.1l-0.9 -1.1zM190.5 280.0l0.9 1.1l-0.9 1.1l-0.9 -1.1zM195.5 282.1l0.9 1.1l-0.9 1.1l-0.9 -1.1zM200.5 284.1l0.9 1.1l-0.9 1.1l-0.9 -1.1zM205.5 286.1l0.9 1.1l-0.9 1.1l-0.9 -1.1zM210.4 288.1l0.9 1.1l-0.9 1.1l-0.9 -1.1zM215.4 289.5l0.9 1.1l-0.9 1.1l-0.9 -1.1zM220.4 290.9l0.9 1.1l-0.9 1.1l-0.9 -1.1zM225.4 292.2l0.9 1.1l-0.9 1.1l-0.9 -1.1zM230.4 293.1l0.9 1.1l-0.9 1.1l-0.9 -1.1zM235.4 293.6l0.9 1.1l-0.9 1.1l-0.9 -1.1zM240.4 294.0l0.9 1.1l-0.9 1.1l-0.9 -1.1zM245.4 294.5l0.9 1.1l-0.9 1.1l-0.9 -1.1zM250.4 295.2l0.9 1.1l-0.9 1.1l-0.9 -1.1zM255.4 296.0l0.9 1.1l-0.9 1.1l-0.9 -1.1z" fill="#4aa348" stroke="none"/>
<polyline points="185.5,261 196.3,264.9 208,269.3 227.6,272.2 247.3,276.2 260,278.6" stroke="#f1c540"/>
<path d="M189.4 262.1h2.2l-1.1 1.8zM194.4 263.9h2.2l-1.1 1.8zM199.4 265.8h2.2l-1.1 1.8zM204.4 267.7h2.2l-1.1 1.8zM209.3 269.0h2.2l-1.1 1.8zM214.3 269.7h2.2l-1.1 1.8zM219.3 270.5h2.2l-1.1 1.8zM224.3 271.2h2.2l-1.1 1.8zM229.3 272.1h2.2l-1.1 1.8zM234.3 273.1h2.2l-1.1 1.8zM239.3 274.1h2.2l-1.1 1.8zM244.3 275.2h2.2l-1.1 1.8zM249.3 276.1h2.2l-1.1 1.8zM254.3 277.1h2.2l-1.1 1.8z" fill="#f1c540" stroke="none"/>
<polyline points="171.7,261.9 176.6,269.8 186.4,277.6 196.3,281.6 211,285.5 227.6,291.9 247.3,295.3 260.4,296.3" stroke="#a673ae"/>
<path d="M174.6 268.0a0.9 0.9 0 1 0 1.8 0a0.9 0.9 0 1 0 -1.8 0zM179.6 272.9a0.9 0.9 0 1 0 1.8 0a0.9 0.9 0 1 0 -1.8 0zM184.6 276.9a0.9 0.9 0 1 0 1.8 0a0.9 0.9 0 1 0 -1.8 0zM189.6 279.2a0.9 0.9 0 1 0 1.8 0a0.9 0.9 0 1 0 -1.8 0zM194.6 281.3a0.9 0.9 0 1 0 1.8 0a0.9 0.9 0 1 0 -1.8 0zM199.6 282.7a0.9 0.9 0 1 0 1.8 0a0.9 0.9 0 1 0 -1.8 0zM204.6 284.0a0.9 0.9 0 1 0 1.8 0a0.9 0.9 0 1 0 -1.8 0zM209.5 285.4a0.9 0.9 0 1 0 1.8 0a0.9 0.9 0 1 0 -1.8 0zM214.5 287.2a0.9 0.9 0 1 0 1.8 0a0.9 0.9 0 1 0 -1.8 0zM219.5 289.1a0.9 0.9 0 1 0 1.8 0a0.9 0.9 0 1 0 -1.8 0zM224.5 291.1a0.9 0.9 0 1 0 1.8 0a0.9 0.9 0 1 0 -1.8 0zM229.5 292.4a0.9 0.9 0 1 0 1.8 0a0.9 0.9 0 1 0 -1.8 0zM234.5 293.3a0.9 0.9 0 1 0 1.8 0a0.9 0.9 0 1 0 -1.8 0zM239.5 294.1a0.9 0.9 0 1 0 1.8 0a0.9 0.9 0 1 0 -1.8 0zM244.5 295.0a0.9 0.9 0 1 0 1.8 0a0.9 0.9 0 1 0 -1.8 0zM249.5 295.5a0.9 0.9 0 1 0 1.8 0a0.9 0.9 0 1 0 -1.8 0zM254.5 295.9a0.9 0.9 0 1 0 1.8 0a0.9 0.9 0 1 0 -1.8 0zM259.5 296.3a0.9 0.9 0 1 0 1.8 0a0.9 0.9 0 1 0 -1.8 0z" fill="#a673ae" stroke="none"/>
<polyline points="174.7,261 181.5,267.8 191.3,275.7 201.2,280.6 211,284 222.7,289.9 237.4,294.8 247.3,300.7 260.4,308.6" stroke="#f5a1ad"/>
<path d="M174.4 262.4h2.2l-1.1 -1.8zM179.4 267.4h2.2l-1.1 -1.8zM184.4 271.7h2.2l-1.1 -1.8zM189.4 275.7h2.2l-1.1 -1.8zM194.4 278.4h2.2l-1.1 -1.8zM199.4 280.9h2.2l-1.1 -1.8zM204.4 282.7h2.2l-1.1 -1.8zM209.3 284.5h2.2l-1.1 -1.8zM214.3 286.9h2.2l-1.1 -1.8zM219.3 289.4h2.2l-1.1 -1.8zM224.3 291.5h2.2l-1.1 -1.8zM229.3 293.1h2.2l-1.1 -1.8zM234.3 294.8h2.2l-1.1 -1.8zM239.3 297.3h2.2l-1.1 -1.8zM244.3 300.2h2.2l-1.1 -1.8zM249.3 303.2h2.2l-1.1 -1.8zM254.3 306.2h2.2l-1.1 -1.8zM259.3 309.3h2.2l-1.1 -1.8z" fill="#f5a1ad" stroke="none"/>
<polyline points="170.7,261.9 176.6,272 186.4,279 201.2,286.5 208,291.4 227.6,296.8 242.3,300.7 252.2,304.6 260,306.6" stroke="#9f6e57"/>
<path d="M174.6 269.2h1.7v1.7h-1.7zM179.6 273.9h1.7v1.7h-1.7zM184.6 277.5h1.7v1.7h-1.7zM189.6 280.2h1.7v1.7h-1.7zM194.6 282.7h1.7v1.7h-1.7zM199.6 285.3h1.7v1.7h-1.7zM204.6 288.7h1.7v1.7h-1.7zM209.6 291.2h1.7v1.7h-1.7zM214.6 292.6h1.7v1.7h-1.7zM219.6 294.0h1.7v1.7h-1.7zM224.6 295.4h1.7v1.7h-1.7zM229.6 296.7h1.7v1.7h-1.7zM234.6 298.0h1.7v1.7h-1.7zM239.6 299.4h1.7v1.7h-1.7zM244.6 301.1h1.7v1.7h-1.7zM249.6 303.0h1.7v1.7h-1.7zM254.6 304.6h1.7v1.7h-1.7z" fill="#9f6e57" stroke="none"/>
<polyline points="194.3,261 208,266.8 227.6,270.8 247.3,275.7 260,278.1" stroke="#bbb3ad"/>
<path d="M195.5 260.4l0.9 1.1l-0.9 1.1l-0.9 -1.1zM200.5 262.5l0.9 1.1l-0.9 1.1l-0.9 -1.1zM205.5 264.6l0.9 1.1l-0.9 1.1l-0.9 -1.1zM210.4 266.2l0.9 1.1l-0.9 1.1l-0.9 -1.1zM215.4 267.2l0.9 1.1l-0.9 1.1l-0.9 -1.1zM220.4 268.2l0.9 1.1l-0.9 1.1l-0.9 -1.1zM225.4 269.3l0.9 1.1l-0.9 1.1l-0.9 -1.1zM230.4 270.4l0.9 1.1l-0.9 1.1l-0.9 -1.1zM235.4 271.6l0.9 1.1l-0.9 1.1l-0.9 -1.1zM240.4 272.9l0.9 1.1l-0.9 1.1l-0.9 -1.1zM245.4 274.1l0.9 1.1l-0.9 1.1l-0.9 -1.1zM250.4 275.2l0.9 1.1l-0.9 1.1l-0.9 -1.1zM255.4 276.1l0.9 1.1l-0.9 1.1l-0.9 -1.1z" fill="#bbb3ad" stroke="none"/>
</g>
<rect x="160.5" y="261.4" width="99.9" height="52.9" fill="none" stroke="#b4b4b4" stroke-width="0.6"/>
<text x="160.5" y="320.15" font-size="4.1" text-anchor="middle" fill="#2a2a2a" stroke="#2a2a2a" stroke-width="0.25">0</text>
<text x="185.47" y="320.15" font-size="4.1" text-anchor="middle" fill="#2a2a2a" stroke="#2a2a2a" stroke-width="0.25">0.5</text>
<text x="210.45" y="320.15" font-size="4.1" text-anchor="middle" fill="#2a2a2a" stroke="#2a2a2a" stroke-width="0.25">1</text>
<text x="235.42" y="320.15" font-size="4.1" text-anchor="middle" fill="#2a2a2a" stroke="#2a2a2a" stroke-width="0.25">1.5</text>
<text x="260.4" y="320.15" font-size="4.1" text-anchor="middle" fill="#2a2a2a" stroke="#2a2a2a" stroke-width="0.25">2</text>
<text x="251" y="327.1" font-size="4.1" fill="#444" stroke="#444" stroke-width="0.15">×10<tspan font-size="3" dy="-1.8">4</tspan></text>
<text x="210.45" y="326.6" font-size="4.65" text-anchor="middle" fill="#1a1a1a" stroke="#1a1a1a" stroke-width="0.22">FEs</text>
<text x="158.9" y="266.7" font-size="4.1" text-anchor="end" fill="#2a2a2a" stroke="#2a2a2a" stroke-width="0.25">2200</text>
<text x="158.9" y="281.4" font-size="4.1" text-anchor="end" fill="#2a2a2a" stroke="#2a2a2a" stroke-width="0.25">2150</text>
<text x="158.9" y="297.7" font-size="4.1" text-anchor="end" fill="#2a2a2a" stroke="#2a2a2a" stroke-width="0.25">2100</text>
<text x="158.9" y="312.4" font-size="4.1" text-anchor="end" fill="#2a2a2a" stroke="#2a2a2a" stroke-width="0.25">2050</text>
<text transform="translate(147.9,287.85) rotate(-90)" font-size="4.55" text-anchor="middle" fill="#1a1a1a" stroke="#1a1a1a" stroke-width="0.22">Fitness</text>
<text x="210.45" y="259.8" font-size="4.8" text-anchor="middle" fill="#1a1a1a" stroke="#1a1a1a" stroke-width="0.15">CEC2022 F7(20D)</text>
<clipPath id="c14"><rect x="301.7" y="261.4" width="100" height="53.9"/></clipPath>
<line x1="321.7" y1="261.4" x2="321.7" y2="315.3" stroke="#e4e4e4" stroke-width="0.5"/>
<line x1="341.7" y1="261.4" x2="341.7" y2="315.3" stroke="#e4e4e4" stroke-width="0.5"/>
<line x1="361.7" y1="261.4" x2="361.7" y2="315.3" stroke="#e4e4e4" stroke-width="0.5"/>
<line x1="381.7" y1="261.4" x2="381.7" y2="315.3" stroke="#e4e4e4" stroke-width="0.5"/>
<line x1="301.7" y1="262.5" x2="401.7" y2="262.5" stroke="#e4e4e4" stroke-width="0.5"/>
<line x1="301.7" y1="271.5" x2="401.7" y2="271.5" stroke="#e4e4e4" stroke-width="0.5"/>
<line x1="301.7" y1="282.4" x2="401.7" y2="282.4" stroke="#e4e4e4" stroke-width="0.5"/>
<line x1="301.7" y1="291.3" x2="401.7" y2="291.3" stroke="#e4e4e4" stroke-width="0.5"/>
<line x1="301.7" y1="300.7" x2="401.7" y2="300.7" stroke="#e4e4e4" stroke-width="0.5"/>
<line x1="301.7" y1="310.3" x2="401.7" y2="310.3" stroke="#e4e4e4" stroke-width="0.5"/>
<line x1="301.7" y1="262.5" x2="401.7" y2="262.5" stroke="#ececec" stroke-width="0.5"/>
<line x1="301.7" y1="264.41" x2="401.7" y2="264.41" stroke="#ececec" stroke-width="0.5"/>
<line x1="301.7" y1="266.32" x2="401.7" y2="266.32" stroke="#ececec" stroke-width="0.5"/>
<line x1="301.7" y1="268.24" x2="401.7" y2="268.24" stroke="#ececec" stroke-width="0.5"/>
<line x1="301.7" y1="270.15" x2="401.7" y2="270.15" stroke="#ececec" stroke-width="0.5"/>
<line x1="301.7" y1="272.06" x2="401.7" y2="272.06" stroke="#ececec" stroke-width="0.5"/>
<line x1="301.7" y1="273.97" x2="401.7" y2="273.97" stroke="#ececec" stroke-width="0.5"/>
<line x1="301.7" y1="275.88" x2="401.7" y2="275.88" stroke="#ececec" stroke-width="0.5"/>
<line x1="301.7" y1="277.8" x2="401.7" y2="277.8" stroke="#ececec" stroke-width="0.5"/>
<line x1="301.7" y1="279.71" x2="401.7" y2="279.71" stroke="#ececec" stroke-width="0.5"/>
<line x1="301.7" y1="281.62" x2="401.7" y2="281.62" stroke="#ececec" stroke-width="0.5"/>
<line x1="301.7" y1="283.53" x2="401.7" y2="283.53" stroke="#ececec" stroke-width="0.5"/>
<line x1="301.7" y1="285.44" x2="401.7" y2="285.44" stroke="#ececec" stroke-width="0.5"/>
<line x1="301.7" y1="287.36" x2="401.7" y2="287.36" stroke="#ececec" stroke-width="0.5"/>
<line x1="301.7" y1="289.27" x2="401.7" y2="289.27" stroke="#ececec" stroke-width="0.5"/>
<line x1="301.7" y1="291.18" x2="401.7" y2="291.18" stroke="#ececec" stroke-width="0.5"/>
<line x1="301.7" y1="293.09" x2="401.7" y2="293.09" stroke="#ececec" stroke-width="0.5"/>
<line x1="301.7" y1="295" x2="401.7" y2="295" stroke="#ececec" stroke-width="0.5"/>
<line x1="301.7" y1="296.92" x2="401.7" y2="296.92" stroke="#ececec" stroke-width="0.5"/>
<line x1="301.7" y1="298.83" x2="401.7" y2="298.83" stroke="#ececec" stroke-width="0.5"/>
<line x1="301.7" y1="300.74" x2="401.7" y2="300.74" stroke="#ececec" stroke-width="0.5"/>
<line x1="301.7" y1="302.65" x2="401.7" y2="302.65" stroke="#ececec" stroke-width="0.5"/>
<line x1="301.7" y1="304.56" x2="401.7" y2="304.56" stroke="#ececec" stroke-width="0.5"/>
<line x1="301.7" y1="306.48" x2="401.7" y2="306.48" stroke="#ececec" stroke-width="0.5"/>
<line x1="301.7" y1="308.39" x2="401.7" y2="308.39" stroke="#ececec" stroke-width="0.5"/>
<line x1="301.7" y1="310.3" x2="401.7" y2="310.3" stroke="#ececec" stroke-width="0.5"/>
<line x1="301.7" y1="312.21" x2="401.7" y2="312.21" stroke="#ececec" stroke-width="0.5"/>
<line x1="301.7" y1="314.12" x2="401.7" y2="314.12" stroke="#ececec" stroke-width="0.5"/>
<g clip-path="url(#c14)" fill="none" stroke-width="0.85" stroke-linejoin="round" stroke-linecap="round">
<polyline points="312.3,261 317.6,290.9 323.5,296.8 333.3,302.2 343.2,303.7 350,303.7 369.6,306.1 402,306.6" stroke="#3a6db4"/>
<path d="M315.6 285.2h2.2l-1.1 1.8zM320.6 294.3h2.2l-1.1 1.8zM325.6 297.9h2.2l-1.1 1.8zM330.6 300.7h2.2l-1.1 1.8zM335.6 302.1h2.2l-1.1 1.8zM340.6 302.8h2.2l-1.1 1.8zM345.6 303.0h2.2l-1.1 1.8zM350.6 303.2h2.2l-1.1 1.8zM355.6 303.9h2.2l-1.1 1.8zM360.6 304.5h2.2l-1.1 1.8zM365.6 305.1h2.2l-1.1 1.8zM370.6 305.5h2.2l-1.1 1.8zM375.6 305.5h2.2l-1.1 1.8zM380.6 305.6h2.2l-1.1 1.8zM385.6 305.7h2.2l-1.1 1.8zM390.6 305.8h2.2l-1.1 1.8zM395.6 305.9h2.2l-1.1 1.8zM400.6 305.9h2.2l-1.1 1.8z" fill="#3a6db4" stroke="none"/>
<polyline points="321.6,261 327.5,265.9 338.3,269.8 350,271.7 369.6,272.7 402,273.2" stroke="#f2913a"/>
<path d="M320.8 261.1a0.9 0.9 0 1 0 1.8 0a0.9 0.9 0 1 0 -1.8 0zM325.8 265.2a0.9 0.9 0 1 0 1.8 0a0.9 0.9 0 1 0 -1.8 0zM330.8 267.4a0.9 0.9 0 1 0 1.8 0a0.9 0.9 0 1 0 -1.8 0zM335.8 269.2a0.9 0.9 0 1 0 1.8 0a0.9 0.9 0 1 0 -1.8 0zM340.8 270.4a0.9 0.9 0 1 0 1.8 0a0.9 0.9 0 1 0 -1.8 0zM345.8 271.2a0.9 0.9 0 1 0 1.8 0a0.9 0.9 0 1 0 -1.8 0zM350.8 271.8a0.9 0.9 0 1 0 1.8 0a0.9 0.9 0 1 0 -1.8 0zM355.8 272.0a0.9 0.9 0 1 0 1.8 0a0.9 0.9 0 1 0 -1.8 0zM360.8 272.3a0.9 0.9 0 1 0 1.8 0a0.9 0.9 0 1 0 -1.8 0zM365.8 272.6a0.9 0.9 0 1 0 1.8 0a0.9 0.9 0 1 0 -1.8 0zM370.8 272.7a0.9 0.9 0 1 0 1.8 0a0.9 0.9 0 1 0 -1.8 0zM375.8 272.8a0.9 0.9 0 1 0 1.8 0a0.9 0.9 0 1 0 -1.8 0zM380.8 272.9a0.9 0.9 0 1 0 1.8 0a0.9 0.9 0 1 0 -1.8 0zM385.8 273.0a0.9 0.9 0 1 0 1.8 0a0.9 0.9 0 1 0 -1.8 0zM390.8 273.0a0.9 0.9 0 1 0 1.8 0a0.9 0.9 0 1 0 -1.8 0zM395.8 273.1a0.9 0.9 0 1 0 1.8 0a0.9 0.9 0 1 0 -1.8 0zM400.8 273.2a0.9 0.9 0 1 0 1.8 0a0.9 0.9 0 1 0 -1.8 0z" fill="#f2913a" stroke="none"/>
<polyline points="310.8,261 311.8,270.8 316.7,278.6 323.5,281.6 338.3,284.5 350,286.5 369.6,287.4 402,290.4" stroke="#6cbab2"/>
<path d="M310.8 269.0h1.7v1.7h-1.7zM315.8 277.8h1.7v1.7h-1.7zM320.8 280.0h1.7v1.7h-1.7zM325.8 281.4h1.7v1.7h-1.7zM330.8 282.4h1.7v1.7h-1.7zM335.8 283.3h1.7v1.7h-1.7zM340.8 284.2h1.7v1.7h-1.7zM345.8 285.1h1.7v1.7h-1.7zM350.8 285.7h1.7v1.7h-1.7zM355.8 286.0h1.7v1.7h-1.7zM360.8 286.2h1.7v1.7h-1.7zM365.8 286.4h1.7v1.7h-1.7zM370.8 286.7h1.7v1.7h-1.7zM375.8 287.2h1.7v1.7h-1.7zM380.8 287.7h1.7v1.7h-1.7zM385.8 288.1h1.7v1.7h-1.7zM390.8 288.6h1.7v1.7h-1.7zM395.8 289.1h1.7v1.7h-1.7zM400.8 289.5h1.7v1.7h-1.7z" fill="#6cbab2" stroke="none"/>
<polyline points="345,260 350,266.8 354.9,270.3 364.7,272.2 369.6,275.7 379.4,277.6 389.3,278.6 402,282" stroke="#4aa348"/>
<path d="M346.7 261.2l0.9 1.1l-0.9 1.1l-0.9 -1.1zM351.7 266.9l0.9 1.1l-0.9 1.1l-0.9 -1.1zM356.7 269.5l0.9 1.1l-0.9 1.1l-0.9 -1.1zM361.7 270.5l0.9 1.1l-0.9 1.1l-0.9 -1.1zM366.7 272.5l0.9 1.1l-0.9 1.1l-0.9 -1.1zM371.7 275.0l0.9 1.1l-0.9 1.1l-0.9 -1.1zM376.7 276.0l0.9 1.1l-0.9 1.1l-0.9 -1.1zM381.7 276.7l0.9 1.1l-0.9 1.1l-0.9 -1.1zM386.7 277.2l0.9 1.1l-0.9 1.1l-0.9 -1.1zM391.7 278.1l0.9 1.1l-0.9 1.1l-0.9 -1.1zM396.7 279.5l0.9 1.1l-0.9 1.1l-0.9 -1.1zM401.7 280.8l0.9 1.1l-0.9 1.1l-0.9 -1.1z" fill="#4aa348" stroke="none"/>
<polyline points="316.7,261 321.6,268.8 328.4,275.7 338.3,281.6 344.1,286 350,289.9 359.8,293.9 369.6,296.3 379.4,299.7 389.3,301.2 402,302.7" stroke="#f1c540"/>
<path d="M315.6 260.3h2.2l-1.1 1.8zM320.6 268.2h2.2l-1.1 1.8zM325.6 273.3h2.2l-1.1 1.8zM330.6 277.0h2.2l-1.1 1.8zM335.6 280.0h2.2l-1.1 1.8zM340.6 283.5h2.2l-1.1 1.8zM345.6 287.1h2.2l-1.1 1.8zM350.6 289.9h2.2l-1.1 1.8zM355.6 292.0h2.2l-1.1 1.8zM360.6 293.7h2.2l-1.1 1.8zM365.6 294.9h2.2l-1.1 1.8zM370.6 296.4h2.2l-1.1 1.8zM375.6 298.1h2.2l-1.1 1.8zM380.6 299.4h2.2l-1.1 1.8zM385.6 300.1h2.2l-1.1 1.8zM390.6 300.8h2.2l-1.1 1.8zM395.6 301.4h2.2l-1.1 1.8zM400.6 302.0h2.2l-1.1 1.8z" fill="#f1c540" stroke="none"/>
<polyline points="347.1,261 350,267.8 354.9,274.7 359.8,282.5 366.7,292 369.6,294.8 374.5,298.3 384.3,302.7 394.2,304.6 402,305.1" stroke="#a673ae"/>
<path d="M350.8 270.2a0.9 0.9 0 1 0 1.8 0a0.9 0.9 0 1 0 -1.8 0zM355.8 277.6a0.9 0.9 0 1 0 1.8 0a0.9 0.9 0 1 0 -1.8 0zM360.8 285.1a0.9 0.9 0 1 0 1.8 0a0.9 0.9 0 1 0 -1.8 0zM365.8 292.0a0.9 0.9 0 1 0 1.8 0a0.9 0.9 0 1 0 -1.8 0zM370.8 296.3a0.9 0.9 0 1 0 1.8 0a0.9 0.9 0 1 0 -1.8 0zM375.8 299.3a0.9 0.9 0 1 0 1.8 0a0.9 0.9 0 1 0 -1.8 0zM380.8 301.5a0.9 0.9 0 1 0 1.8 0a0.9 0.9 0 1 0 -1.8 0zM385.8 303.2a0.9 0.9 0 1 0 1.8 0a0.9 0.9 0 1 0 -1.8 0zM390.8 304.1a0.9 0.9 0 1 0 1.8 0a0.9 0.9 0 1 0 -1.8 0zM395.8 304.8a0.9 0.9 0 1 0 1.8 0a0.9 0.9 0 1 0 -1.8 0zM400.8 305.1a0.9 0.9 0 1 0 1.8 0a0.9 0.9 0 1 0 -1.8 0z" fill="#a673ae" stroke="none"/>
<polyline points="311.8,261 316.7,286 317.6,291.9 321.6,303.7 328.4,309.6 338.3,312.5 353,314.5 402,315" stroke="#f5a1ad"/>
<path d="M315.6 286.7h2.2l-1.1 -1.8zM320.6 304.4h2.2l-1.1 -1.8zM325.6 308.8h2.2l-1.1 -1.8zM330.6 311.2h2.2l-1.1 -1.8zM335.6 312.7h2.2l-1.1 -1.8zM340.6 313.6h2.2l-1.1 -1.8zM345.6 314.3h2.2l-1.1 -1.8zM350.6 315.0h2.2l-1.1 -1.8zM355.6 315.2h2.2l-1.1 -1.8zM360.6 315.2h2.2l-1.1 -1.8zM365.6 315.3h2.2l-1.1 -1.8zM370.6 315.4h2.2l-1.1 -1.8zM375.6 315.4h2.2l-1.1 -1.8zM380.6 315.5h2.2l-1.1 -1.8zM385.6 315.5h2.2l-1.1 -1.8zM390.6 315.6h2.2l-1.1 -1.8zM395.6 315.6h2.2l-1.1 -1.8zM400.6 315.7h2.2l-1.1 -1.8z" fill="#f5a1ad" stroke="none"/>
<polyline points="345,261 350,261 369.6,264.9 389.3,268.8 402,270.3" stroke="#9f6e57"/>
<path d="M345.8 260.1h1.7v1.7h-1.7zM350.8 260.5h1.7v1.7h-1.7zM355.8 261.5h1.7v1.7h-1.7zM360.8 262.5h1.7v1.7h-1.7zM365.8 263.5h1.7v1.7h-1.7zM370.8 264.5h1.7v1.7h-1.7zM375.8 265.5h1.7v1.7h-1.7zM380.8 266.4h1.7v1.7h-1.7zM385.8 267.4h1.7v1.7h-1.7zM390.8 268.2h1.7v1.7h-1.7zM395.8 268.8h1.7v1.7h-1.7zM400.8 269.4h1.7v1.7h-1.7z" fill="#9f6e57" stroke="none"/>
<polyline points="352.9,261.9 359.8,265.9 369.6,274.7 374.5,280.6 384.3,286 391.2,290.9 402,297.3" stroke="#bbb3ad"/>
<path d="M356.7 263.0l0.9 1.1l-0.9 1.1l-0.9 -1.1zM361.7 266.5l0.9 1.1l-0.9 1.1l-0.9 -1.1zM366.7 271.0l0.9 1.1l-0.9 1.1l-0.9 -1.1zM371.7 276.1l0.9 1.1l-0.9 1.1l-0.9 -1.1zM376.7 280.7l0.9 1.1l-0.9 1.1l-0.9 -1.1zM381.7 283.5l0.9 1.1l-0.9 1.1l-0.9 -1.1zM386.7 286.6l0.9 1.1l-0.9 1.1l-0.9 -1.1zM391.7 290.1l0.9 1.1l-0.9 1.1l-0.9 -1.1zM396.7 293.1l0.9 1.1l-0.9 1.1l-0.9 -1.1zM401.7 296.0l0.9 1.1l-0.9 1.1l-0.9 -1.1z" fill="#bbb3ad" stroke="none"/>
</g>
<rect x="301.7" y="261.4" width="100" height="53.9" fill="none" stroke="#b4b4b4" stroke-width="0.6"/>
<text x="301.7" y="320.75" font-size="4.1" text-anchor="middle" fill="#2a2a2a" stroke="#2a2a2a" stroke-width="0.25">0</text>
<text x="321.7" y="320.75" font-size="4.1" text-anchor="middle" fill="#2a2a2a" stroke="#2a2a2a" stroke-width="0.25">2000</text>
<text x="341.7" y="320.75" font-size="4.1" text-anchor="middle" fill="#2a2a2a" stroke="#2a2a2a" stroke-width="0.25">4000</text>
<text x="361.7" y="320.75" font-size="4.1" text-anchor="middle" fill="#2a2a2a" stroke="#2a2a2a" stroke-width="0.25">6000</text>
<text x="381.7" y="320.75" font-size="4.1" text-anchor="middle" fill="#2a2a2a" stroke="#2a2a2a" stroke-width="0.25">8000</text>
<text x="401.7" y="320.75" font-size="4.1" text-anchor="middle" fill="#2a2a2a" stroke="#2a2a2a" stroke-width="0.25">10000</text>
<text x="351.7" y="327.6" font-size="4.65" text-anchor="middle" fill="#1a1a1a" stroke="#1a1a1a" stroke-width="0.22">FEs</text>
<text x="300.1" y="263.9" font-size="4.1" text-anchor="end" fill="#2a2a2a" stroke="#2a2a2a" stroke-width="0.25">2530</text>
<text x="300.1" y="272.9" font-size="4.1" text-anchor="end" fill="#2a2a2a" stroke="#2a2a2a" stroke-width="0.25">2525</text>
<text x="300.1" y="283.8" font-size="4.1" text-anchor="end" fill="#2a2a2a" stroke="#2a2a2a" stroke-width="0.25">2520</text>
<text x="300.1" y="292.7" font-size="4.1" text-anchor="end" fill="#2a2a2a" stroke="#2a2a2a" stroke-width="0.25">2515</text>
<text x="300.1" y="302.1" font-size="4.1" text-anchor="end" fill="#2a2a2a" stroke="#2a2a2a" stroke-width="0.25">2510</text>
<text x="300.1" y="311.7" font-size="4.1" text-anchor="end" fill="#2a2a2a" stroke="#2a2a2a" stroke-width="0.25">2505</text>
<text transform="translate(288.7,288.35) rotate(-90)" font-size="4.55" text-anchor="middle" fill="#1a1a1a" stroke="#1a1a1a" stroke-width="0.22">Fitness</text>
<text x="351.7" y="259.8" font-size="4.8" text-anchor="middle" fill="#1a1a1a" stroke="#1a1a1a" stroke-width="0.15">CEC2022 F10(10D)</text>
<clipPath id="c15"><rect x="442.3" y="261" width="100.4" height="54.3"/></clipPath>
<line x1="462.38" y1="261" x2="462.38" y2="315.3" stroke="#e4e4e4" stroke-width="0.5"/>
<line x1="482.46" y1="261" x2="482.46" y2="315.3" stroke="#e4e4e4" stroke-width="0.5"/>
<line x1="502.54" y1="261" x2="502.54" y2="315.3" stroke="#e4e4e4" stroke-width="0.5"/>
<line x1="522.62" y1="261" x2="522.62" y2="315.3" stroke="#e4e4e4" stroke-width="0.5"/>
<line x1="442.3" y1="269.6" x2="542.7" y2="269.6" stroke="#e4e4e4" stroke-width="0.5"/>
<line x1="442.3" y1="280.5" x2="542.7" y2="280.5" stroke="#e4e4e4" stroke-width="0.5"/>
<line x1="442.3" y1="291.3" x2="542.7" y2="291.3" stroke="#e4e4e4" stroke-width="0.5"/>
<line x1="442.3" y1="302.2" x2="542.7" y2="302.2" stroke="#e4e4e4" stroke-width="0.5"/>
<line x1="442.3" y1="313.4" x2="542.7" y2="313.4" stroke="#e4e4e4" stroke-width="0.5"/>
<line x1="442.3" y1="261.38" x2="542.7" y2="261.38" stroke="#ececec" stroke-width="0.5"/>
<line x1="442.3" y1="264.12" x2="542.7" y2="264.12" stroke="#ececec" stroke-width="0.5"/>
<line x1="442.3" y1="266.86" x2="542.7" y2="266.86" stroke="#ececec" stroke-width="0.5"/>
<line x1="442.3" y1="269.6" x2="542.7" y2="269.6" stroke="#ececec" stroke-width="0.5"/>
<line x1="442.3" y1="272.34" x2="542.7" y2="272.34" stroke="#ececec" stroke-width="0.5"/>
<line x1="442.3" y1="275.08" x2="542.7" y2="275.08" stroke="#ececec" stroke-width="0.5"/>
<line x1="442.3" y1="277.82" x2="542.7" y2="277.82" stroke="#ececec" stroke-width="0.5"/>
<line x1="442.3" y1="280.56" x2="542.7" y2="280.56" stroke="#ececec" stroke-width="0.5"/>
<line x1="442.3" y1="283.3" x2="542.7" y2="283.3" stroke="#ececec" stroke-width="0.5"/>
<line x1="442.3" y1="286.04" x2="542.7" y2="286.04" stroke="#ececec" stroke-width="0.5"/>
<line x1="442.3" y1="288.78" x2="542.7" y2="288.78" stroke="#ececec" stroke-width="0.5"/>
<line x1="442.3" y1="291.52" x2="542.7" y2="291.52" stroke="#ececec" stroke-width="0.5"/>
<line x1="442.3" y1="294.26" x2="542.7" y2="294.26" stroke="#ececec" stroke-width="0.5"/>
<line x1="442.3" y1="297" x2="542.7" y2="297" stroke="#ececec" stroke-width="0.5"/>
<line x1="442.3" y1="299.74" x2="542.7" y2="299.74" stroke="#ececec" stroke-width="0.5"/>
<line x1="442.3" y1="302.48" x2="542.7" y2="302.48" stroke="#ececec" stroke-width="0.5"/>
<line x1="442.3" y1="305.22" x2="542.7" y2="305.22" stroke="#ececec" stroke-width="0.5"/>
<line x1="442.3" y1="307.96" x2="542.7" y2="307.96" stroke="#ececec" stroke-width="0.5"/>
<line x1="442.3" y1="310.7" x2="542.7" y2="310.7" stroke="#ececec" stroke-width="0.5"/>
<line x1="442.3" y1="313.44" x2="542.7" y2="313.44" stroke="#ececec" stroke-width="0.5"/>
<g clip-path="url(#c15)" fill="none" stroke-width="0.85" stroke-linejoin="round" stroke-linecap="round">
<polyline points="452.8,261 455.7,275.7 457.7,286 458.6,290.9 463.6,298.8 468.5,306.6 474.3,308.6 479.3,311.5 494,314.5 543,315" stroke="#3a6db4"/>
<path d="M456.3 283.6h2.2l-1.1 1.8zM461.3 296.2h2.2l-1.1 1.8zM466.3 304.2h2.2l-1.1 1.8zM471.3 307.3h2.2l-1.1 1.8zM476.3 309.8h2.2l-1.1 1.8zM481.4 311.5h2.2l-1.1 1.8zM486.4 312.5h2.2l-1.1 1.8zM491.4 313.5h2.2l-1.1 1.8zM496.4 313.9h2.2l-1.1 1.8zM501.4 313.9h2.2l-1.1 1.8zM506.5 314.0h2.2l-1.1 1.8zM511.5 314.0h2.2l-1.1 1.8zM516.5 314.1h2.2l-1.1 1.8zM521.5 314.1h2.2l-1.1 1.8zM526.5 314.2h2.2l-1.1 1.8zM531.6 314.2h2.2l-1.1 1.8zM536.6 314.3h2.2l-1.1 1.8zM541.6 314.3h2.2l-1.1 1.8z" fill="#3a6db4" stroke="none"/>
<polyline points="461.6,261 463.6,270.8 468.5,280.6 474.3,284.5 479.3,288.9 489.1,292.9 494,293.4 510.6,294.8 530.3,295.8 543,296.3" stroke="#f2913a"/>
<path d="M461.5 264.8a0.9 0.9 0 1 0 1.8 0a0.9 0.9 0 1 0 -1.8 0zM466.5 278.4a0.9 0.9 0 1 0 1.8 0a0.9 0.9 0 1 0 -1.8 0zM471.5 283.2a0.9 0.9 0 1 0 1.8 0a0.9 0.9 0 1 0 -1.8 0zM476.5 287.3a0.9 0.9 0 1 0 1.8 0a0.9 0.9 0 1 0 -1.8 0zM481.6 290.2a0.9 0.9 0 1 0 1.8 0a0.9 0.9 0 1 0 -1.8 0zM486.6 292.2a0.9 0.9 0 1 0 1.8 0a0.9 0.9 0 1 0 -1.8 0zM491.6 293.2a0.9 0.9 0 1 0 1.8 0a0.9 0.9 0 1 0 -1.8 0zM496.6 293.7a0.9 0.9 0 1 0 1.8 0a0.9 0.9 0 1 0 -1.8 0zM501.6 294.1a0.9 0.9 0 1 0 1.8 0a0.9 0.9 0 1 0 -1.8 0zM506.7 294.5a0.9 0.9 0 1 0 1.8 0a0.9 0.9 0 1 0 -1.8 0zM511.7 294.9a0.9 0.9 0 1 0 1.8 0a0.9 0.9 0 1 0 -1.8 0zM516.7 295.2a0.9 0.9 0 1 0 1.8 0a0.9 0.9 0 1 0 -1.8 0zM521.7 295.4a0.9 0.9 0 1 0 1.8 0a0.9 0.9 0 1 0 -1.8 0zM526.7 295.7a0.9 0.9 0 1 0 1.8 0a0.9 0.9 0 1 0 -1.8 0zM531.8 295.9a0.9 0.9 0 1 0 1.8 0a0.9 0.9 0 1 0 -1.8 0zM536.8 296.1a0.9 0.9 0 1 0 1.8 0a0.9 0.9 0 1 0 -1.8 0zM541.8 296.3a0.9 0.9 0 1 0 1.8 0a0.9 0.9 0 1 0 -1.8 0z" fill="#f2913a" stroke="none"/>
<polyline points="453.7,261 456.7,270.8 459.6,280.6 462.6,286 469.4,294.8 479.3,300.7 494,304.6 510.6,305.6 543,306.1" stroke="#e1504f"/>
<path d="M456.3 273.7h2.2l-1.1 -1.8zM461.3 286.3h2.2l-1.1 -1.8zM466.3 292.9h2.2l-1.1 -1.8zM471.3 297.3h2.2l-1.1 -1.8zM476.3 300.3h2.2l-1.1 -1.8zM481.4 302.2h2.2l-1.1 -1.8zM486.4 303.5h2.2l-1.1 -1.8zM491.4 304.9h2.2l-1.1 -1.8zM496.4 305.5h2.2l-1.1 -1.8zM501.4 305.8h2.2l-1.1 -1.8zM506.5 306.1h2.2l-1.1 -1.8zM511.5 306.3h2.2l-1.1 -1.8zM516.5 306.4h2.2l-1.1 -1.8zM521.5 306.4h2.2l-1.1 -1.8zM526.5 306.5h2.2l-1.1 -1.8zM531.6 306.6h2.2l-1.1 -1.8zM536.6 306.7h2.2l-1.1 -1.8zM541.6 306.8h2.2l-1.1 -1.8z" fill="#e1504f" stroke="none"/>
<polyline points="455.4,260.9 459.3,269.6 468.9,276.3 478,279.5 488.2,282.1 507.4,286.9 526.7,292.7 542.7,298.5" stroke="#6cbab2"/>
<path d="M456.5 264.4h1.7v1.7h-1.7zM461.5 270.9h1.7v1.7h-1.7zM466.6 274.4h1.7v1.7h-1.7zM471.6 276.7h1.7v1.7h-1.7zM476.6 278.5h1.7v1.7h-1.7zM481.6 279.8h1.7v1.7h-1.7zM486.6 281.1h1.7v1.7h-1.7zM491.6 282.3h1.7v1.7h-1.7zM496.7 283.6h1.7v1.7h-1.7zM501.7 284.8h1.7v1.7h-1.7zM506.7 286.1h1.7v1.7h-1.7zM511.7 287.6h1.7v1.7h-1.7zM516.8 289.1h1.7v1.7h-1.7zM521.8 290.6h1.7v1.7h-1.7zM526.8 292.2h1.7v1.7h-1.7zM531.8 294.0h1.7v1.7h-1.7zM536.8 295.8h1.7v1.7h-1.7zM541.9 297.6h1.7v1.7h-1.7z" fill="#6cbab2" stroke="none"/>
<polyline points="534.2,261 543,266.3" stroke="#4aa348"/>
<path d="M537.7 262.0l0.9 1.1l-0.9 1.1l-0.9 -1.1zM542.7 265.0l0.9 1.1l-0.9 1.1l-0.9 -1.1z" fill="#4aa348" stroke="none"/>
<polyline points="530.3,261 543,267.3" stroke="#f1c540"/>
<path d="M531.6 261.5h2.2l-1.1 1.8zM536.6 264.0h2.2l-1.1 1.8zM541.6 266.5h2.2l-1.1 1.8z" fill="#f1c540" stroke="none"/>
<polyline points="478.5,260.9 488.2,271.5 497.8,281.1 507,286 517.1,289.8 530,294 542.7,298.5" stroke="#f5a1ad"/>
<path d="M481.4 265.9h2.2l-1.1 -1.8zM486.4 271.4h2.2l-1.1 -1.8zM491.4 276.5h2.2l-1.1 -1.8zM496.4 281.5h2.2l-1.1 -1.8zM501.4 284.3h2.2l-1.1 -1.8zM506.5 286.9h2.2l-1.1 -1.8zM511.5 288.8h2.2l-1.1 -1.8zM516.5 290.6h2.2l-1.1 -1.8zM521.5 292.3h2.2l-1.1 -1.8zM526.5 293.9h2.2l-1.1 -1.8zM531.6 295.6h2.2l-1.1 -1.8zM536.6 297.4h2.2l-1.1 -1.8zM541.6 299.2h2.2l-1.1 -1.8z" fill="#f5a1ad" stroke="none"/>
<polyline points="478.5,260.9 488.2,269.6 497,276 507.4,282.1 516,285.8 526.7,289.8 542.7,295.6" stroke="#9f6e57"/>
<path d="M481.6 263.6h1.7v1.7h-1.7zM486.6 268.1h1.7v1.7h-1.7zM491.6 271.9h1.7v1.7h-1.7zM496.7 275.5h1.7v1.7h-1.7zM501.7 278.4h1.7v1.7h-1.7zM506.7 281.3h1.7v1.7h-1.7zM511.7 283.5h1.7v1.7h-1.7zM516.8 285.5h1.7v1.7h-1.7zM521.8 287.4h1.7v1.7h-1.7zM526.8 289.3h1.7v1.7h-1.7zM531.8 291.1h1.7v1.7h-1.7zM536.8 292.9h1.7v1.7h-1.7zM541.9 294.8h1.7v1.7h-1.7z" fill="#9f6e57" stroke="none"/>
<polyline points="466.5,261 469.4,267.8 472.4,277.6 476.3,283.5 479.3,286 484.2,293.9 494,298.8 510.6,302.7 525.3,310.5 543,313.5" stroke="#bbb3ad"/>
<path d="M467.4 262.0l0.9 1.1l-0.9 1.1l-0.9 -1.1zM472.4 276.5l0.9 1.1l-0.9 1.1l-0.9 -1.1zM477.4 283.3l0.9 1.1l-0.9 1.1l-0.9 -1.1zM482.5 290.0l0.9 1.1l-0.9 1.1l-0.9 -1.1zM487.5 294.4l0.9 1.1l-0.9 1.1l-0.9 -1.1zM492.5 296.9l0.9 1.1l-0.9 1.1l-0.9 -1.1zM497.5 298.5l0.9 1.1l-0.9 1.1l-0.9 -1.1zM502.5 299.7l0.9 1.1l-0.9 1.1l-0.9 -1.1zM507.6 300.9l0.9 1.1l-0.9 1.1l-0.9 -1.1zM512.6 302.7l0.9 1.1l-0.9 1.1l-0.9 -1.1zM517.6 305.3l0.9 1.1l-0.9 1.1l-0.9 -1.1zM522.6 308.0l0.9 1.1l-0.9 1.1l-0.9 -1.1zM527.6 309.8l0.9 1.1l-0.9 1.1l-0.9 -1.1zM532.7 310.6l0.9 1.1l-0.9 1.1l-0.9 -1.1zM537.7 311.5l0.9 1.1l-0.9 1.1l-0.9 -1.1zM542.7 312.3l0.9 1.1l-0.9 1.1l-0.9 -1.1z" fill="#bbb3ad" stroke="none"/>
</g>
<rect x="442.3" y="261" width="100.4" height="54.3" fill="none" stroke="#b4b4b4" stroke-width="0.6"/>
<text x="442.3" y="320.75" font-size="4.1" text-anchor="middle" fill="#2a2a2a" stroke="#2a2a2a" stroke-width="0.25">0</text>
<text x="462.38" y="320.75" font-size="4.1" text-anchor="middle" fill="#2a2a2a" stroke="#2a2a2a" stroke-width="0.25">2000</text>
<text x="482.46" y="320.75" font-size="4.1" text-anchor="middle" fill="#2a2a2a" stroke="#2a2a2a" stroke-width="0.25">4000</text>
<text x="502.54" y="320.75" font-size="4.1" text-anchor="middle" fill="#2a2a2a" stroke="#2a2a2a" stroke-width="0.25">6000</text>
<text x="522.62" y="320.75" font-size="4.1" text-anchor="middle" fill="#2a2a2a" stroke="#2a2a2a" stroke-width="0.25">8000</text>
<text x="542.7" y="320.75" font-size="4.1" text-anchor="middle" fill="#2a2a2a" stroke="#2a2a2a" stroke-width="0.25">10000</text>
<text x="492.5" y="327.6" font-size="4.65" text-anchor="middle" fill="#1a1a1a" stroke="#1a1a1a" stroke-width="0.22">FEs</text>
<text x="440.7" y="271" font-size="4.1" text-anchor="end" fill="#2a2a2a" stroke="#2a2a2a" stroke-width="0.25">2872</text>
<text x="440.7" y="281.9" font-size="4.1" text-anchor="end" fill="#2a2a2a" stroke="#2a2a2a" stroke-width="0.25">2870</text>
<text x="440.7" y="292.7" font-size="4.1" text-anchor="end" fill="#2a2a2a" stroke="#2a2a2a" stroke-width="0.25">2868</text>
<text x="440.7" y="303.6" font-size="4.1" text-anchor="end" fill="#2a2a2a" stroke="#2a2a2a" stroke-width="0.25">2866</text>
<text x="440.7" y="314.8" font-size="4.1" text-anchor="end" fill="#2a2a2a" stroke="#2a2a2a" stroke-width="0.25">2864</text>
<text transform="translate(430.7,288.15) rotate(-90)" font-size="4.55" text-anchor="middle" fill="#1a1a1a" stroke="#1a1a1a" stroke-width="0.22">Fitness</text>
<text x="492.5" y="259.4" font-size="4.8" text-anchor="middle" fill="#1a1a1a" stroke="#1a1a1a" stroke-width="0.15">CEC2022 F12(10D)</text>
<rect x="62.2" y="347.4" width="432.3" height="35.2" fill="#fff" stroke="#3c3c3c" stroke-width="0.9"/>
<line x1="65.5" y1="356.6" x2="97.5" y2="356.6" stroke="#3a6db4" stroke-width="1.8"/>
<path d="M78.90 355.17h5.20l-2.60 4.55z" fill="#3a6db4"/>
<text x="100.9" y="361.40000000000003" font-size="12.1" fill="#000" stroke="#000" stroke-width="0.2">HERIME</text>
<line x1="65.5" y1="372.7" x2="97.5" y2="372.7" stroke="#f2913a" stroke-width="1.8"/>
<circle cx="81.5" cy="372.7" r="1.9" fill="#f2913a"/>
<text x="100.9" y="377.5" font-size="12.1" fill="#000" stroke="#000" stroke-width="0.2">RIME</text>
<line x1="156" y1="356.6" x2="188" y2="356.6" stroke="#e1504f" stroke-width="1.8"/>
<path d="M169.40 358.03h5.20l-2.60 -4.55z" fill="#e1504f"/>
<text x="191.3" y="361.40000000000003" font-size="12.1" fill="#000" stroke="#000" stroke-width="0.2">EO</text>
<line x1="156" y1="372.7" x2="188" y2="372.7" stroke="#6cbab2" stroke-width="1.8"/>
<rect x="170.20" y="370.90" width="3.6" height="3.6" fill="#6cbab2"/>
<text x="191.3" y="377.5" font-size="12.1" fill="#000" stroke="#000" stroke-width="0.2">SAO</text>
<line x1="224" y1="356.6" x2="256" y2="356.6" stroke="#4aa348" stroke-width="1.8"/>
<path d="M240.00 354.20l1.9 2.4l-1.9 2.4l-1.9 -2.4z" fill="#4aa348"/>
<text x="258.7" y="361.40000000000003" font-size="12.1" fill="#000" stroke="#000" stroke-width="0.2">MRFO</text>
<line x1="224" y1="372.7" x2="256" y2="372.7" stroke="#f1c540" stroke-width="1.8"/>
<path d="M237.40 371.27h5.20l-2.60 4.55z" fill="#f1c540"/>
<text x="258.7" y="377.5" font-size="12.1" fill="#000" stroke="#000" stroke-width="0.2">IYDSE</text>
<line x1="303.2" y1="356.6" x2="335.2" y2="356.6" stroke="#a673ae" stroke-width="1.8"/>
<circle cx="319.2" cy="356.6" r="1.9" fill="#a673ae"/>
<text x="338.3" y="361.40000000000003" font-size="12.1" fill="#000" stroke="#000" stroke-width="0.2">DFDBARO</text>
<line x1="303.2" y1="372.7" x2="335.2" y2="372.7" stroke="#f5a1ad" stroke-width="1.8"/>
<path d="M316.60 374.13h5.20l-2.60 -4.55z" fill="#f5a1ad"/>
<text x="338.3" y="377.5" font-size="12.1" fill="#000" stroke="#000" stroke-width="0.2">EOSMA</text>
<line x1="406" y1="356.6" x2="438" y2="356.6" stroke="#9f6e57" stroke-width="1.8"/>
<rect x="420.20" y="354.80" width="3.6" height="3.6" fill="#9f6e57"/>
<text x="441.4" y="361.40000000000003" font-size="12.1" fill="#000" stroke="#000" stroke-width="0.2">IGWO</text>
<line x1="406" y1="372.7" x2="438" y2="372.7" stroke="#bbb3ad" stroke-width="1.8"/>
<path d="M422.00 370.30l1.9 2.4l-1.9 2.4l-1.9 -2.4z" fill="#bbb3ad"/>
<text x="441.4" y="377.5" font-size="12.1" fill="#000" stroke="#000" stroke-width="0.2">LSHADE</text>
</svg></body></html>
